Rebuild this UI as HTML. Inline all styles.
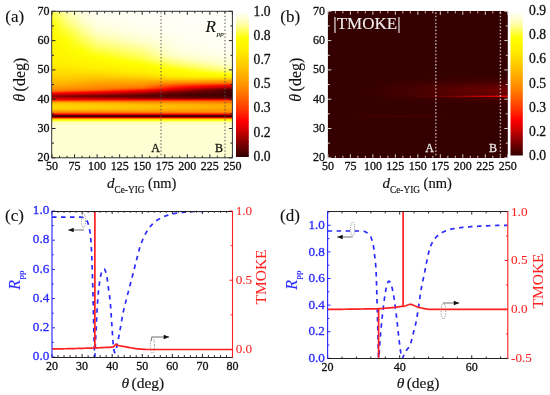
<!DOCTYPE html><html><head><meta charset="utf-8"><style>html,body{margin:0;padding:0;background:#fff;width:550px;height:395px;overflow:hidden}</style></head><body><svg width="550" height="395" viewBox="0 0 550 395" style="display:block;font-family:'Liberation Serif', 'Times New Roman', serif"><style>text{stroke-width:0.3px}</style><defs><linearGradient id="ra11"><stop offset="0" stop-color="#ffff5a"/><stop offset="0.0833" stop-color="#ffffbb"/><stop offset="0.167" stop-color="#ffffe1"/><stop offset="0.25" stop-color="#fffff2"/><stop offset="0.333" stop-color="#fffff3"/><stop offset="0.417" stop-color="#fffff4"/><stop offset="0.5" stop-color="#fffff6"/><stop offset="0.583" stop-color="#fffff7"/><stop offset="0.667" stop-color="#fffff8"/><stop offset="0.75" stop-color="#fffff9"/><stop offset="0.833" stop-color="#fffff9"/><stop offset="0.917" stop-color="#fffffa"/><stop offset="1" stop-color="#fffffa"/></linearGradient><linearGradient id="ra12"><stop offset="0" stop-color="#ffff51"/><stop offset="0.0833" stop-color="#ffffb5"/><stop offset="0.167" stop-color="#ffffdf"/><stop offset="0.25" stop-color="#fffff1"/><stop offset="0.333" stop-color="#fffff3"/><stop offset="0.417" stop-color="#fffff4"/><stop offset="0.5" stop-color="#fffff6"/><stop offset="0.583" stop-color="#fffff7"/><stop offset="0.667" stop-color="#fffff8"/><stop offset="0.75" stop-color="#fffff9"/><stop offset="0.833" stop-color="#fffff9"/><stop offset="0.917" stop-color="#fffffa"/><stop offset="1" stop-color="#fffffa"/></linearGradient><linearGradient id="ra13"><stop offset="0" stop-color="#ffff48"/><stop offset="0.0833" stop-color="#ffffae"/><stop offset="0.167" stop-color="#ffffdc"/><stop offset="0.25" stop-color="#fffff1"/><stop offset="0.333" stop-color="#fffff3"/><stop offset="0.417" stop-color="#fffff4"/><stop offset="0.5" stop-color="#fffff6"/><stop offset="0.583" stop-color="#fffff7"/><stop offset="0.667" stop-color="#fffff8"/><stop offset="0.75" stop-color="#fffff9"/><stop offset="0.833" stop-color="#fffff9"/><stop offset="0.917" stop-color="#fffffa"/><stop offset="1" stop-color="#fffffa"/></linearGradient><linearGradient id="ra14"><stop offset="0" stop-color="#ffff40"/><stop offset="0.0833" stop-color="#ffffa8"/><stop offset="0.167" stop-color="#ffffda"/><stop offset="0.25" stop-color="#fffff0"/><stop offset="0.333" stop-color="#fffff2"/><stop offset="0.417" stop-color="#fffff4"/><stop offset="0.5" stop-color="#fffff6"/><stop offset="0.583" stop-color="#fffff7"/><stop offset="0.667" stop-color="#fffff8"/><stop offset="0.75" stop-color="#fffff8"/><stop offset="0.833" stop-color="#fffff9"/><stop offset="0.917" stop-color="#fffff9"/><stop offset="1" stop-color="#fffffa"/></linearGradient><linearGradient id="ra15"><stop offset="0" stop-color="#ffff38"/><stop offset="0.0833" stop-color="#ffffa1"/><stop offset="0.167" stop-color="#ffffd7"/><stop offset="0.25" stop-color="#fffff0"/><stop offset="0.333" stop-color="#fffff1"/><stop offset="0.417" stop-color="#fffff3"/><stop offset="0.5" stop-color="#fffff5"/><stop offset="0.583" stop-color="#fffff6"/><stop offset="0.667" stop-color="#fffff8"/><stop offset="0.75" stop-color="#fffff8"/><stop offset="0.833" stop-color="#fffff9"/><stop offset="0.917" stop-color="#fffff9"/><stop offset="1" stop-color="#fffffa"/></linearGradient><linearGradient id="ra16"><stop offset="0" stop-color="#ffff31"/><stop offset="0.0833" stop-color="#ffff9b"/><stop offset="0.167" stop-color="#ffffd5"/><stop offset="0.25" stop-color="#ffffef"/><stop offset="0.333" stop-color="#fffff1"/><stop offset="0.417" stop-color="#fffff3"/><stop offset="0.5" stop-color="#fffff5"/><stop offset="0.583" stop-color="#fffff6"/><stop offset="0.667" stop-color="#fffff7"/><stop offset="0.75" stop-color="#fffff8"/><stop offset="0.833" stop-color="#fffff9"/><stop offset="0.917" stop-color="#fffff9"/><stop offset="1" stop-color="#fffffa"/></linearGradient><linearGradient id="ra17"><stop offset="0" stop-color="#ffff2a"/><stop offset="0.0833" stop-color="#ffff95"/><stop offset="0.167" stop-color="#ffffd2"/><stop offset="0.25" stop-color="#ffffed"/><stop offset="0.333" stop-color="#fffff0"/><stop offset="0.417" stop-color="#fffff2"/><stop offset="0.5" stop-color="#fffff5"/><stop offset="0.583" stop-color="#fffff6"/><stop offset="0.667" stop-color="#fffff7"/><stop offset="0.75" stop-color="#fffff8"/><stop offset="0.833" stop-color="#fffff9"/><stop offset="0.917" stop-color="#fffff9"/><stop offset="1" stop-color="#fffffa"/></linearGradient><linearGradient id="ra18"><stop offset="0" stop-color="#ffff24"/><stop offset="0.0833" stop-color="#ffff8f"/><stop offset="0.167" stop-color="#ffffcf"/><stop offset="0.25" stop-color="#ffffec"/><stop offset="0.333" stop-color="#ffffef"/><stop offset="0.417" stop-color="#fffff2"/><stop offset="0.5" stop-color="#fffff4"/><stop offset="0.583" stop-color="#fffff6"/><stop offset="0.667" stop-color="#fffff7"/><stop offset="0.75" stop-color="#fffff8"/><stop offset="0.833" stop-color="#fffff9"/><stop offset="0.917" stop-color="#fffff9"/><stop offset="1" stop-color="#fffffa"/></linearGradient><linearGradient id="ra19"><stop offset="0" stop-color="#ffff1e"/><stop offset="0.0833" stop-color="#ffff89"/><stop offset="0.167" stop-color="#ffffcc"/><stop offset="0.25" stop-color="#ffffeb"/><stop offset="0.333" stop-color="#ffffee"/><stop offset="0.417" stop-color="#fffff1"/><stop offset="0.5" stop-color="#fffff4"/><stop offset="0.583" stop-color="#fffff5"/><stop offset="0.667" stop-color="#fffff7"/><stop offset="0.75" stop-color="#fffff8"/><stop offset="0.833" stop-color="#fffff8"/><stop offset="0.917" stop-color="#fffff9"/><stop offset="1" stop-color="#fffffa"/></linearGradient><linearGradient id="ra20"><stop offset="0" stop-color="#ffff17"/><stop offset="0.0833" stop-color="#ffff83"/><stop offset="0.167" stop-color="#ffffca"/><stop offset="0.25" stop-color="#ffffe9"/><stop offset="0.333" stop-color="#ffffed"/><stop offset="0.417" stop-color="#fffff0"/><stop offset="0.5" stop-color="#fffff3"/><stop offset="0.583" stop-color="#fffff5"/><stop offset="0.667" stop-color="#fffff6"/><stop offset="0.75" stop-color="#fffff8"/><stop offset="0.833" stop-color="#fffff8"/><stop offset="0.917" stop-color="#fffff9"/><stop offset="1" stop-color="#fffffa"/></linearGradient><linearGradient id="ra21"><stop offset="0" stop-color="#ffff12"/><stop offset="0.0833" stop-color="#ffff7d"/><stop offset="0.167" stop-color="#ffffc6"/><stop offset="0.25" stop-color="#ffffe8"/><stop offset="0.333" stop-color="#ffffeb"/><stop offset="0.417" stop-color="#ffffef"/><stop offset="0.5" stop-color="#fffff3"/><stop offset="0.583" stop-color="#fffff4"/><stop offset="0.667" stop-color="#fffff6"/><stop offset="0.75" stop-color="#fffff7"/><stop offset="0.833" stop-color="#fffff8"/><stop offset="0.917" stop-color="#fffff9"/><stop offset="1" stop-color="#fffffa"/></linearGradient><linearGradient id="ra22"><stop offset="0" stop-color="#ffff0c"/><stop offset="0.0833" stop-color="#ffff77"/><stop offset="0.167" stop-color="#ffffc1"/><stop offset="0.25" stop-color="#ffffe6"/><stop offset="0.333" stop-color="#ffffea"/><stop offset="0.417" stop-color="#ffffee"/><stop offset="0.5" stop-color="#fffff2"/><stop offset="0.583" stop-color="#fffff4"/><stop offset="0.667" stop-color="#fffff6"/><stop offset="0.75" stop-color="#fffff7"/><stop offset="0.833" stop-color="#fffff8"/><stop offset="0.917" stop-color="#fffff9"/><stop offset="1" stop-color="#fffff9"/></linearGradient><linearGradient id="ra23"><stop offset="0" stop-color="#ffff07"/><stop offset="0.0833" stop-color="#ffff71"/><stop offset="0.167" stop-color="#ffffbb"/><stop offset="0.25" stop-color="#ffffe4"/><stop offset="0.333" stop-color="#ffffe9"/><stop offset="0.417" stop-color="#ffffed"/><stop offset="0.5" stop-color="#fffff2"/><stop offset="0.583" stop-color="#fffff3"/><stop offset="0.667" stop-color="#fffff5"/><stop offset="0.75" stop-color="#fffff7"/><stop offset="0.833" stop-color="#fffff8"/><stop offset="0.917" stop-color="#fffff8"/><stop offset="1" stop-color="#fffff9"/></linearGradient><linearGradient id="ra24"><stop offset="0" stop-color="#ffff01"/><stop offset="0.0833" stop-color="#ffff6b"/><stop offset="0.167" stop-color="#ffffb6"/><stop offset="0.25" stop-color="#ffffe2"/><stop offset="0.333" stop-color="#ffffe7"/><stop offset="0.417" stop-color="#ffffec"/><stop offset="0.5" stop-color="#fffff1"/><stop offset="0.583" stop-color="#fffff3"/><stop offset="0.667" stop-color="#fffff5"/><stop offset="0.75" stop-color="#fffff6"/><stop offset="0.833" stop-color="#fffff7"/><stop offset="0.917" stop-color="#fffff8"/><stop offset="1" stop-color="#fffff9"/></linearGradient><linearGradient id="ra25"><stop offset="0" stop-color="#ffff00"/><stop offset="0.0833" stop-color="#ffff64"/><stop offset="0.167" stop-color="#ffffb0"/><stop offset="0.25" stop-color="#ffffe0"/><stop offset="0.333" stop-color="#ffffe5"/><stop offset="0.417" stop-color="#ffffeb"/><stop offset="0.5" stop-color="#fffff0"/><stop offset="0.583" stop-color="#fffff2"/><stop offset="0.667" stop-color="#fffff5"/><stop offset="0.75" stop-color="#fffff6"/><stop offset="0.833" stop-color="#fffff7"/><stop offset="0.917" stop-color="#fffff8"/><stop offset="1" stop-color="#fffff9"/></linearGradient><linearGradient id="ra26"><stop offset="0" stop-color="#fffe00"/><stop offset="0.0833" stop-color="#ffff5d"/><stop offset="0.167" stop-color="#ffffaa"/><stop offset="0.25" stop-color="#ffffdd"/><stop offset="0.333" stop-color="#ffffe3"/><stop offset="0.417" stop-color="#ffffe9"/><stop offset="0.5" stop-color="#ffffef"/><stop offset="0.583" stop-color="#fffff2"/><stop offset="0.667" stop-color="#fffff4"/><stop offset="0.75" stop-color="#fffff6"/><stop offset="0.833" stop-color="#fffff7"/><stop offset="0.917" stop-color="#fffff8"/><stop offset="1" stop-color="#fffff9"/></linearGradient><linearGradient id="ra27"><stop offset="0" stop-color="#fffe00"/><stop offset="0.0833" stop-color="#ffff55"/><stop offset="0.167" stop-color="#ffffa4"/><stop offset="0.25" stop-color="#ffffda"/><stop offset="0.333" stop-color="#ffffe1"/><stop offset="0.417" stop-color="#ffffe8"/><stop offset="0.5" stop-color="#ffffef"/><stop offset="0.583" stop-color="#fffff1"/><stop offset="0.667" stop-color="#fffff4"/><stop offset="0.75" stop-color="#fffff5"/><stop offset="0.833" stop-color="#fffff7"/><stop offset="0.917" stop-color="#fffff8"/><stop offset="1" stop-color="#fffff9"/></linearGradient><linearGradient id="ra28"><stop offset="0" stop-color="#fffd00"/><stop offset="0.0833" stop-color="#ffff4e"/><stop offset="0.167" stop-color="#ffff9d"/><stop offset="0.25" stop-color="#ffffd7"/><stop offset="0.333" stop-color="#ffffde"/><stop offset="0.417" stop-color="#ffffe6"/><stop offset="0.5" stop-color="#ffffee"/><stop offset="0.583" stop-color="#fffff0"/><stop offset="0.667" stop-color="#fffff3"/><stop offset="0.75" stop-color="#fffff5"/><stop offset="0.833" stop-color="#fffff6"/><stop offset="0.917" stop-color="#fffff7"/><stop offset="1" stop-color="#fffff9"/></linearGradient><linearGradient id="ra29"><stop offset="0" stop-color="#fffd00"/><stop offset="0.0833" stop-color="#ffff47"/><stop offset="0.167" stop-color="#ffff97"/><stop offset="0.25" stop-color="#ffffd3"/><stop offset="0.333" stop-color="#ffffdc"/><stop offset="0.417" stop-color="#ffffe4"/><stop offset="0.5" stop-color="#ffffed"/><stop offset="0.583" stop-color="#fffff0"/><stop offset="0.667" stop-color="#fffff3"/><stop offset="0.75" stop-color="#fffff5"/><stop offset="0.833" stop-color="#fffff6"/><stop offset="0.917" stop-color="#fffff7"/><stop offset="1" stop-color="#fffff9"/></linearGradient><linearGradient id="ra30"><stop offset="0" stop-color="#fffc00"/><stop offset="0.0833" stop-color="#ffff41"/><stop offset="0.167" stop-color="#ffff90"/><stop offset="0.25" stop-color="#ffffcf"/><stop offset="0.333" stop-color="#ffffd9"/><stop offset="0.417" stop-color="#ffffe2"/><stop offset="0.5" stop-color="#ffffeb"/><stop offset="0.583" stop-color="#ffffef"/><stop offset="0.667" stop-color="#fffff2"/><stop offset="0.75" stop-color="#fffff4"/><stop offset="0.833" stop-color="#fffff6"/><stop offset="0.917" stop-color="#fffff7"/><stop offset="1" stop-color="#fffff8"/></linearGradient><linearGradient id="ra31"><stop offset="0" stop-color="#fffc00"/><stop offset="0.0833" stop-color="#ffff3a"/><stop offset="0.167" stop-color="#ffff8a"/><stop offset="0.25" stop-color="#ffffcc"/><stop offset="0.333" stop-color="#ffffd6"/><stop offset="0.417" stop-color="#ffffe0"/><stop offset="0.5" stop-color="#ffffea"/><stop offset="0.583" stop-color="#ffffed"/><stop offset="0.667" stop-color="#fffff1"/><stop offset="0.75" stop-color="#fffff4"/><stop offset="0.833" stop-color="#fffff5"/><stop offset="0.917" stop-color="#fffff7"/><stop offset="1" stop-color="#fffff8"/></linearGradient><linearGradient id="ra32"><stop offset="0" stop-color="#fffb00"/><stop offset="0.0833" stop-color="#ffff33"/><stop offset="0.167" stop-color="#ffff84"/><stop offset="0.25" stop-color="#ffffc8"/><stop offset="0.333" stop-color="#ffffd2"/><stop offset="0.417" stop-color="#ffffdd"/><stop offset="0.5" stop-color="#ffffe7"/><stop offset="0.583" stop-color="#ffffec"/><stop offset="0.667" stop-color="#fffff0"/><stop offset="0.75" stop-color="#fffff3"/><stop offset="0.833" stop-color="#fffff5"/><stop offset="0.917" stop-color="#fffff6"/><stop offset="1" stop-color="#fffff8"/></linearGradient><linearGradient id="ra33"><stop offset="0" stop-color="#fffb00"/><stop offset="0.0833" stop-color="#ffff2d"/><stop offset="0.167" stop-color="#ffff7d"/><stop offset="0.25" stop-color="#ffffc1"/><stop offset="0.333" stop-color="#ffffcf"/><stop offset="0.417" stop-color="#ffffda"/><stop offset="0.5" stop-color="#ffffe5"/><stop offset="0.583" stop-color="#ffffea"/><stop offset="0.667" stop-color="#fffff0"/><stop offset="0.75" stop-color="#fffff3"/><stop offset="0.833" stop-color="#fffff4"/><stop offset="0.917" stop-color="#fffff6"/><stop offset="1" stop-color="#fffff8"/></linearGradient><linearGradient id="ra34"><stop offset="0" stop-color="#fffa00"/><stop offset="0.0833" stop-color="#ffff26"/><stop offset="0.167" stop-color="#ffff77"/><stop offset="0.25" stop-color="#ffffbb"/><stop offset="0.333" stop-color="#ffffcc"/><stop offset="0.417" stop-color="#ffffd7"/><stop offset="0.5" stop-color="#ffffe2"/><stop offset="0.583" stop-color="#ffffe8"/><stop offset="0.667" stop-color="#ffffef"/><stop offset="0.75" stop-color="#fffff2"/><stop offset="0.833" stop-color="#fffff4"/><stop offset="0.917" stop-color="#fffff6"/><stop offset="1" stop-color="#fffff8"/></linearGradient><linearGradient id="ra35"><stop offset="0" stop-color="#fffa00"/><stop offset="0.0833" stop-color="#ffff20"/><stop offset="0.167" stop-color="#ffff71"/><stop offset="0.25" stop-color="#ffffb4"/><stop offset="0.333" stop-color="#ffffc8"/><stop offset="0.417" stop-color="#ffffd4"/><stop offset="0.5" stop-color="#ffffdf"/><stop offset="0.583" stop-color="#ffffe6"/><stop offset="0.667" stop-color="#ffffee"/><stop offset="0.75" stop-color="#fffff2"/><stop offset="0.833" stop-color="#fffff4"/><stop offset="0.917" stop-color="#fffff6"/><stop offset="1" stop-color="#fffff7"/></linearGradient><linearGradient id="ra36"><stop offset="0" stop-color="#fffa00"/><stop offset="0.0833" stop-color="#ffff1a"/><stop offset="0.167" stop-color="#ffff6b"/><stop offset="0.25" stop-color="#ffffae"/><stop offset="0.333" stop-color="#ffffc2"/><stop offset="0.417" stop-color="#ffffd0"/><stop offset="0.5" stop-color="#ffffdc"/><stop offset="0.583" stop-color="#ffffe4"/><stop offset="0.667" stop-color="#ffffed"/><stop offset="0.75" stop-color="#fffff1"/><stop offset="0.833" stop-color="#fffff3"/><stop offset="0.917" stop-color="#fffff5"/><stop offset="1" stop-color="#fffff7"/></linearGradient><linearGradient id="ra37"><stop offset="0" stop-color="#fff900"/><stop offset="0.0833" stop-color="#ffff15"/><stop offset="0.167" stop-color="#ffff64"/><stop offset="0.25" stop-color="#ffffa7"/><stop offset="0.333" stop-color="#ffffbc"/><stop offset="0.417" stop-color="#ffffcd"/><stop offset="0.5" stop-color="#ffffd9"/><stop offset="0.583" stop-color="#ffffe2"/><stop offset="0.667" stop-color="#ffffec"/><stop offset="0.75" stop-color="#fffff1"/><stop offset="0.833" stop-color="#fffff3"/><stop offset="0.917" stop-color="#fffff5"/><stop offset="1" stop-color="#fffff7"/></linearGradient><linearGradient id="ra38"><stop offset="0" stop-color="#fff900"/><stop offset="0.0833" stop-color="#ffff0f"/><stop offset="0.167" stop-color="#ffff5d"/><stop offset="0.25" stop-color="#ffffa0"/><stop offset="0.333" stop-color="#ffffb5"/><stop offset="0.417" stop-color="#ffffca"/><stop offset="0.5" stop-color="#ffffd5"/><stop offset="0.583" stop-color="#ffffe0"/><stop offset="0.667" stop-color="#ffffeb"/><stop offset="0.75" stop-color="#fffff0"/><stop offset="0.833" stop-color="#fffff2"/><stop offset="0.917" stop-color="#fffff5"/><stop offset="1" stop-color="#fffff7"/></linearGradient><linearGradient id="ra39"><stop offset="0" stop-color="#fff800"/><stop offset="0.0833" stop-color="#ffff0a"/><stop offset="0.167" stop-color="#ffff56"/><stop offset="0.25" stop-color="#ffff99"/><stop offset="0.333" stop-color="#ffffaf"/><stop offset="0.417" stop-color="#ffffc4"/><stop offset="0.5" stop-color="#ffffd2"/><stop offset="0.583" stop-color="#ffffde"/><stop offset="0.667" stop-color="#ffffe9"/><stop offset="0.75" stop-color="#fffff0"/><stop offset="0.833" stop-color="#fffff2"/><stop offset="0.917" stop-color="#fffff4"/><stop offset="1" stop-color="#fffff7"/></linearGradient><linearGradient id="ra40"><stop offset="0" stop-color="#fff800"/><stop offset="0.0833" stop-color="#ffff04"/><stop offset="0.167" stop-color="#ffff4f"/><stop offset="0.25" stop-color="#ffff92"/><stop offset="0.333" stop-color="#ffffa8"/><stop offset="0.417" stop-color="#ffffbe"/><stop offset="0.5" stop-color="#ffffcf"/><stop offset="0.583" stop-color="#ffffdc"/><stop offset="0.667" stop-color="#ffffe8"/><stop offset="0.75" stop-color="#ffffef"/><stop offset="0.833" stop-color="#fffff1"/><stop offset="0.917" stop-color="#fffff4"/><stop offset="1" stop-color="#fffff6"/></linearGradient><linearGradient id="ra41"><stop offset="0" stop-color="#fff800"/><stop offset="0.0833" stop-color="#ffff00"/><stop offset="0.167" stop-color="#ffff48"/><stop offset="0.25" stop-color="#ffff8b"/><stop offset="0.333" stop-color="#ffffa1"/><stop offset="0.417" stop-color="#ffffb8"/><stop offset="0.5" stop-color="#ffffcb"/><stop offset="0.583" stop-color="#ffffd9"/><stop offset="0.667" stop-color="#ffffe7"/><stop offset="0.75" stop-color="#ffffee"/><stop offset="0.833" stop-color="#fffff1"/><stop offset="0.917" stop-color="#fffff3"/><stop offset="1" stop-color="#fffff6"/></linearGradient><linearGradient id="ra42"><stop offset="0" stop-color="#fff700"/><stop offset="0.0833" stop-color="#fffe00"/><stop offset="0.167" stop-color="#ffff41"/><stop offset="0.25" stop-color="#ffff84"/><stop offset="0.333" stop-color="#ffff9a"/><stop offset="0.417" stop-color="#ffffb0"/><stop offset="0.5" stop-color="#ffffc7"/><stop offset="0.583" stop-color="#ffffd7"/><stop offset="0.667" stop-color="#ffffe6"/><stop offset="0.75" stop-color="#ffffee"/><stop offset="0.833" stop-color="#fffff0"/><stop offset="0.917" stop-color="#fffff3"/><stop offset="1" stop-color="#fffff6"/></linearGradient><linearGradient id="ra43"><stop offset="0" stop-color="#fff700"/><stop offset="0.0833" stop-color="#fffe00"/><stop offset="0.167" stop-color="#ffff3a"/><stop offset="0.25" stop-color="#ffff7d"/><stop offset="0.333" stop-color="#ffff93"/><stop offset="0.417" stop-color="#ffffa9"/><stop offset="0.5" stop-color="#ffffbf"/><stop offset="0.583" stop-color="#ffffd4"/><stop offset="0.667" stop-color="#ffffe4"/><stop offset="0.75" stop-color="#ffffed"/><stop offset="0.833" stop-color="#fffff0"/><stop offset="0.917" stop-color="#fffff3"/><stop offset="1" stop-color="#fffff5"/></linearGradient><linearGradient id="ra44"><stop offset="0" stop-color="#fff600"/><stop offset="0.0833" stop-color="#fffd00"/><stop offset="0.167" stop-color="#ffff33"/><stop offset="0.25" stop-color="#ffff75"/><stop offset="0.333" stop-color="#ffff8b"/><stop offset="0.417" stop-color="#ffffa1"/><stop offset="0.5" stop-color="#ffffb8"/><stop offset="0.583" stop-color="#ffffd1"/><stop offset="0.667" stop-color="#ffffe3"/><stop offset="0.75" stop-color="#ffffec"/><stop offset="0.833" stop-color="#ffffef"/><stop offset="0.917" stop-color="#fffff2"/><stop offset="1" stop-color="#fffff5"/></linearGradient><linearGradient id="ra45"><stop offset="0" stop-color="#fff600"/><stop offset="0.0833" stop-color="#fffd00"/><stop offset="0.167" stop-color="#ffff2b"/><stop offset="0.25" stop-color="#ffff6e"/><stop offset="0.333" stop-color="#ffff84"/><stop offset="0.417" stop-color="#ffff9a"/><stop offset="0.5" stop-color="#ffffb0"/><stop offset="0.583" stop-color="#ffffce"/><stop offset="0.667" stop-color="#ffffe1"/><stop offset="0.75" stop-color="#ffffeb"/><stop offset="0.833" stop-color="#ffffee"/><stop offset="0.917" stop-color="#fffff1"/><stop offset="1" stop-color="#fffff5"/></linearGradient><linearGradient id="ra46"><stop offset="0" stop-color="#fff600"/><stop offset="0.0833" stop-color="#fffc00"/><stop offset="0.167" stop-color="#ffff24"/><stop offset="0.25" stop-color="#ffff65"/><stop offset="0.333" stop-color="#ffff7c"/><stop offset="0.417" stop-color="#ffff92"/><stop offset="0.5" stop-color="#ffffa8"/><stop offset="0.583" stop-color="#ffffcb"/><stop offset="0.667" stop-color="#ffffdf"/><stop offset="0.75" stop-color="#ffffea"/><stop offset="0.833" stop-color="#ffffed"/><stop offset="0.917" stop-color="#fffff1"/><stop offset="1" stop-color="#fffff4"/></linearGradient><linearGradient id="ra47"><stop offset="0" stop-color="#fff500"/><stop offset="0.0833" stop-color="#fffc00"/><stop offset="0.167" stop-color="#ffff1d"/><stop offset="0.25" stop-color="#ffff5b"/><stop offset="0.333" stop-color="#ffff74"/><stop offset="0.417" stop-color="#ffff8a"/><stop offset="0.5" stop-color="#ffff9f"/><stop offset="0.583" stop-color="#ffffc7"/><stop offset="0.667" stop-color="#ffffdd"/><stop offset="0.75" stop-color="#ffffe8"/><stop offset="0.833" stop-color="#ffffec"/><stop offset="0.917" stop-color="#fffff0"/><stop offset="1" stop-color="#fffff4"/></linearGradient><linearGradient id="ra48"><stop offset="0" stop-color="#fff500"/><stop offset="0.0833" stop-color="#fffb00"/><stop offset="0.167" stop-color="#ffff15"/><stop offset="0.25" stop-color="#ffff52"/><stop offset="0.333" stop-color="#ffff6c"/><stop offset="0.417" stop-color="#ffff82"/><stop offset="0.5" stop-color="#ffff97"/><stop offset="0.583" stop-color="#ffffc1"/><stop offset="0.667" stop-color="#ffffdb"/><stop offset="0.75" stop-color="#ffffe7"/><stop offset="0.833" stop-color="#ffffeb"/><stop offset="0.917" stop-color="#ffffef"/><stop offset="1" stop-color="#fffff4"/></linearGradient><linearGradient id="ra49"><stop offset="0" stop-color="#fff500"/><stop offset="0.0833" stop-color="#fffa00"/><stop offset="0.167" stop-color="#ffff0e"/><stop offset="0.25" stop-color="#ffff48"/><stop offset="0.333" stop-color="#ffff63"/><stop offset="0.417" stop-color="#ffff7a"/><stop offset="0.5" stop-color="#ffff90"/><stop offset="0.583" stop-color="#ffffbb"/><stop offset="0.667" stop-color="#ffffd9"/><stop offset="0.75" stop-color="#ffffe6"/><stop offset="0.833" stop-color="#ffffea"/><stop offset="0.917" stop-color="#ffffef"/><stop offset="1" stop-color="#fffff3"/></linearGradient><linearGradient id="ra50"><stop offset="0" stop-color="#fff400"/><stop offset="0.0833" stop-color="#fffa00"/><stop offset="0.167" stop-color="#ffff06"/><stop offset="0.25" stop-color="#ffff3f"/><stop offset="0.333" stop-color="#ffff59"/><stop offset="0.417" stop-color="#ffff73"/><stop offset="0.5" stop-color="#ffff88"/><stop offset="0.583" stop-color="#ffffb5"/><stop offset="0.667" stop-color="#ffffd7"/><stop offset="0.75" stop-color="#ffffe4"/><stop offset="0.833" stop-color="#ffffe9"/><stop offset="0.917" stop-color="#ffffee"/><stop offset="1" stop-color="#fffff3"/></linearGradient><linearGradient id="ra51"><stop offset="0" stop-color="#fff400"/><stop offset="0.0833" stop-color="#fff900"/><stop offset="0.167" stop-color="#ffff00"/><stop offset="0.25" stop-color="#ffff35"/><stop offset="0.333" stop-color="#ffff50"/><stop offset="0.417" stop-color="#ffff6a"/><stop offset="0.5" stop-color="#ffff81"/><stop offset="0.583" stop-color="#ffffb0"/><stop offset="0.667" stop-color="#ffffd4"/><stop offset="0.75" stop-color="#ffffe2"/><stop offset="0.833" stop-color="#ffffe7"/><stop offset="0.917" stop-color="#ffffec"/><stop offset="1" stop-color="#fffff2"/></linearGradient><linearGradient id="ra52"><stop offset="0" stop-color="#fff400"/><stop offset="0.0833" stop-color="#fff900"/><stop offset="0.167" stop-color="#fffe00"/><stop offset="0.25" stop-color="#ffff2b"/><stop offset="0.333" stop-color="#ffff46"/><stop offset="0.417" stop-color="#ffff62"/><stop offset="0.5" stop-color="#ffff7a"/><stop offset="0.583" stop-color="#ffffaa"/><stop offset="0.667" stop-color="#ffffd2"/><stop offset="0.75" stop-color="#ffffe0"/><stop offset="0.833" stop-color="#ffffe5"/><stop offset="0.917" stop-color="#ffffeb"/><stop offset="1" stop-color="#fffff0"/></linearGradient><linearGradient id="ra53"><stop offset="0" stop-color="#fff300"/><stop offset="0.0833" stop-color="#fff800"/><stop offset="0.167" stop-color="#fffd00"/><stop offset="0.25" stop-color="#ffff22"/><stop offset="0.333" stop-color="#ffff3d"/><stop offset="0.417" stop-color="#ffff59"/><stop offset="0.5" stop-color="#ffff73"/><stop offset="0.583" stop-color="#ffffa3"/><stop offset="0.667" stop-color="#ffffce"/><stop offset="0.75" stop-color="#ffffdd"/><stop offset="0.833" stop-color="#ffffe3"/><stop offset="0.917" stop-color="#ffffe9"/><stop offset="1" stop-color="#ffffef"/></linearGradient><linearGradient id="ra54"><stop offset="0" stop-color="#fff300"/><stop offset="0.0833" stop-color="#fff800"/><stop offset="0.167" stop-color="#fffc00"/><stop offset="0.25" stop-color="#ffff18"/><stop offset="0.333" stop-color="#ffff34"/><stop offset="0.417" stop-color="#ffff50"/><stop offset="0.5" stop-color="#ffff6c"/><stop offset="0.583" stop-color="#ffff9c"/><stop offset="0.667" stop-color="#ffffca"/><stop offset="0.75" stop-color="#ffffd9"/><stop offset="0.833" stop-color="#ffffe0"/><stop offset="0.917" stop-color="#ffffe6"/><stop offset="1" stop-color="#ffffed"/></linearGradient><linearGradient id="ra55"><stop offset="0" stop-color="#fff300"/><stop offset="0.0833" stop-color="#fff700"/><stop offset="0.167" stop-color="#fffc00"/><stop offset="0.25" stop-color="#ffff0d"/><stop offset="0.333" stop-color="#ffff2a"/><stop offset="0.417" stop-color="#ffff47"/><stop offset="0.5" stop-color="#ffff63"/><stop offset="0.583" stop-color="#ffff94"/><stop offset="0.667" stop-color="#ffffc3"/><stop offset="0.75" stop-color="#ffffd4"/><stop offset="0.833" stop-color="#ffffdc"/><stop offset="0.917" stop-color="#ffffe3"/><stop offset="1" stop-color="#ffffeb"/></linearGradient><linearGradient id="ra56"><stop offset="0" stop-color="#fff200"/><stop offset="0.0833" stop-color="#fff700"/><stop offset="0.167" stop-color="#fffb00"/><stop offset="0.25" stop-color="#ffff03"/><stop offset="0.333" stop-color="#ffff20"/><stop offset="0.417" stop-color="#ffff3d"/><stop offset="0.5" stop-color="#ffff5a"/><stop offset="0.583" stop-color="#ffff8b"/><stop offset="0.667" stop-color="#ffffb9"/><stop offset="0.75" stop-color="#ffffcf"/><stop offset="0.833" stop-color="#ffffd8"/><stop offset="0.917" stop-color="#ffffe0"/><stop offset="1" stop-color="#ffffe9"/></linearGradient><linearGradient id="ra57"><stop offset="0" stop-color="#fff200"/><stop offset="0.0833" stop-color="#fff600"/><stop offset="0.167" stop-color="#fffa00"/><stop offset="0.25" stop-color="#fffe00"/><stop offset="0.333" stop-color="#ffff15"/><stop offset="0.417" stop-color="#ffff33"/><stop offset="0.5" stop-color="#ffff51"/><stop offset="0.583" stop-color="#ffff82"/><stop offset="0.667" stop-color="#ffffaf"/><stop offset="0.75" stop-color="#ffffca"/><stop offset="0.833" stop-color="#ffffd3"/><stop offset="0.917" stop-color="#ffffdd"/><stop offset="1" stop-color="#ffffe7"/></linearGradient><linearGradient id="ra58"><stop offset="0" stop-color="#fff200"/><stop offset="0.0833" stop-color="#fff500"/><stop offset="0.167" stop-color="#fff900"/><stop offset="0.25" stop-color="#fffd00"/><stop offset="0.333" stop-color="#ffff0b"/><stop offset="0.417" stop-color="#ffff29"/><stop offset="0.5" stop-color="#ffff47"/><stop offset="0.583" stop-color="#ffff79"/><stop offset="0.667" stop-color="#ffffa4"/><stop offset="0.75" stop-color="#ffffc1"/><stop offset="0.833" stop-color="#ffffcf"/><stop offset="0.917" stop-color="#ffffda"/><stop offset="1" stop-color="#ffffe4"/></linearGradient><linearGradient id="ra59"><stop offset="0" stop-color="#fff100"/><stop offset="0.0833" stop-color="#fff500"/><stop offset="0.167" stop-color="#fff800"/><stop offset="0.25" stop-color="#fffc00"/><stop offset="0.333" stop-color="#ffff00"/><stop offset="0.417" stop-color="#ffff1e"/><stop offset="0.5" stop-color="#ffff3c"/><stop offset="0.583" stop-color="#ffff6f"/><stop offset="0.667" stop-color="#ffff99"/><stop offset="0.75" stop-color="#ffffb7"/><stop offset="0.833" stop-color="#ffffca"/><stop offset="0.917" stop-color="#ffffd6"/><stop offset="1" stop-color="#ffffe2"/></linearGradient><linearGradient id="ra60"><stop offset="0" stop-color="#fff100"/><stop offset="0.0833" stop-color="#fff400"/><stop offset="0.167" stop-color="#fff700"/><stop offset="0.25" stop-color="#fffb00"/><stop offset="0.333" stop-color="#fffe00"/><stop offset="0.417" stop-color="#ffff12"/><stop offset="0.5" stop-color="#ffff30"/><stop offset="0.583" stop-color="#ffff62"/><stop offset="0.667" stop-color="#ffff8d"/><stop offset="0.75" stop-color="#ffffac"/><stop offset="0.833" stop-color="#ffffc3"/><stop offset="0.917" stop-color="#ffffd2"/><stop offset="1" stop-color="#ffffdf"/></linearGradient><linearGradient id="ra61"><stop offset="0" stop-color="#fff000"/><stop offset="0.0833" stop-color="#fff300"/><stop offset="0.167" stop-color="#fff600"/><stop offset="0.25" stop-color="#fff900"/><stop offset="0.333" stop-color="#fffc00"/><stop offset="0.417" stop-color="#ffff04"/><stop offset="0.5" stop-color="#ffff23"/><stop offset="0.583" stop-color="#ffff54"/><stop offset="0.667" stop-color="#ffff81"/><stop offset="0.75" stop-color="#ffffa0"/><stop offset="0.833" stop-color="#ffffb9"/><stop offset="0.917" stop-color="#ffffcd"/><stop offset="1" stop-color="#ffffdb"/></linearGradient><linearGradient id="ra62"><stop offset="0" stop-color="#ffef00"/><stop offset="0.0833" stop-color="#fff200"/><stop offset="0.167" stop-color="#fff500"/><stop offset="0.25" stop-color="#fff800"/><stop offset="0.333" stop-color="#fffb00"/><stop offset="0.417" stop-color="#fffe00"/><stop offset="0.5" stop-color="#ffff14"/><stop offset="0.583" stop-color="#ffff44"/><stop offset="0.667" stop-color="#ffff74"/><stop offset="0.75" stop-color="#ffff93"/><stop offset="0.833" stop-color="#ffffae"/><stop offset="0.917" stop-color="#ffffc8"/><stop offset="1" stop-color="#ffffd7"/></linearGradient><linearGradient id="ra63"><stop offset="0" stop-color="#ffed00"/><stop offset="0.0833" stop-color="#fff100"/><stop offset="0.167" stop-color="#fff400"/><stop offset="0.25" stop-color="#fff700"/><stop offset="0.333" stop-color="#fffa00"/><stop offset="0.417" stop-color="#fffc00"/><stop offset="0.5" stop-color="#ffff05"/><stop offset="0.583" stop-color="#ffff34"/><stop offset="0.667" stop-color="#ffff64"/><stop offset="0.75" stop-color="#ffff87"/><stop offset="0.833" stop-color="#ffffa3"/><stop offset="0.917" stop-color="#ffffbf"/><stop offset="1" stop-color="#ffffd3"/></linearGradient><linearGradient id="ra64"><stop offset="0" stop-color="#ffec00"/><stop offset="0.0833" stop-color="#fff000"/><stop offset="0.167" stop-color="#fff300"/><stop offset="0.25" stop-color="#fff500"/><stop offset="0.333" stop-color="#fff800"/><stop offset="0.417" stop-color="#fffb00"/><stop offset="0.5" stop-color="#fffe00"/><stop offset="0.583" stop-color="#ffff24"/><stop offset="0.667" stop-color="#ffff53"/><stop offset="0.75" stop-color="#ffff79"/><stop offset="0.833" stop-color="#ffff97"/><stop offset="0.917" stop-color="#ffffb5"/><stop offset="1" stop-color="#ffffce"/></linearGradient><linearGradient id="ra65"><stop offset="0" stop-color="#ffea00"/><stop offset="0.0833" stop-color="#ffee00"/><stop offset="0.167" stop-color="#fff100"/><stop offset="0.25" stop-color="#fff400"/><stop offset="0.333" stop-color="#fff600"/><stop offset="0.417" stop-color="#fff900"/><stop offset="0.5" stop-color="#fffc00"/><stop offset="0.583" stop-color="#ffff13"/><stop offset="0.667" stop-color="#ffff42"/><stop offset="0.75" stop-color="#ffff6b"/><stop offset="0.833" stop-color="#ffff8b"/><stop offset="0.917" stop-color="#ffffa9"/><stop offset="1" stop-color="#ffffc8"/></linearGradient><linearGradient id="ra66"><stop offset="0" stop-color="#ffe800"/><stop offset="0.0833" stop-color="#ffec00"/><stop offset="0.167" stop-color="#fff000"/><stop offset="0.25" stop-color="#fff200"/><stop offset="0.333" stop-color="#fff500"/><stop offset="0.417" stop-color="#fff800"/><stop offset="0.5" stop-color="#fffa00"/><stop offset="0.583" stop-color="#ffff01"/><stop offset="0.667" stop-color="#ffff30"/><stop offset="0.75" stop-color="#ffff59"/><stop offset="0.833" stop-color="#ffff7d"/><stop offset="0.917" stop-color="#ffff9d"/><stop offset="1" stop-color="#ffffbc"/></linearGradient><linearGradient id="ra67"><stop offset="0" stop-color="#ffe600"/><stop offset="0.0833" stop-color="#ffea00"/><stop offset="0.167" stop-color="#ffed00"/><stop offset="0.25" stop-color="#fff000"/><stop offset="0.333" stop-color="#fff300"/><stop offset="0.417" stop-color="#fff600"/><stop offset="0.5" stop-color="#fff900"/><stop offset="0.583" stop-color="#fffd00"/><stop offset="0.667" stop-color="#ffff1d"/><stop offset="0.75" stop-color="#ffff47"/><stop offset="0.833" stop-color="#ffff6e"/><stop offset="0.917" stop-color="#ffff8f"/><stop offset="1" stop-color="#ffffaf"/></linearGradient><linearGradient id="ra68"><stop offset="0" stop-color="#ffe400"/><stop offset="0.0833" stop-color="#ffe700"/><stop offset="0.167" stop-color="#ffeb00"/><stop offset="0.25" stop-color="#ffee00"/><stop offset="0.333" stop-color="#fff100"/><stop offset="0.417" stop-color="#fff400"/><stop offset="0.5" stop-color="#fff700"/><stop offset="0.583" stop-color="#fffb00"/><stop offset="0.667" stop-color="#ffff0a"/><stop offset="0.75" stop-color="#ffff34"/><stop offset="0.833" stop-color="#ffff5c"/><stop offset="0.917" stop-color="#ffff80"/><stop offset="1" stop-color="#ffffa1"/></linearGradient><linearGradient id="ra69"><stop offset="0" stop-color="#ffe300"/><stop offset="0.0833" stop-color="#ffe500"/><stop offset="0.167" stop-color="#ffe800"/><stop offset="0.25" stop-color="#ffea00"/><stop offset="0.333" stop-color="#ffef00"/><stop offset="0.417" stop-color="#fff200"/><stop offset="0.5" stop-color="#fff500"/><stop offset="0.583" stop-color="#fff900"/><stop offset="0.667" stop-color="#fffe00"/><stop offset="0.75" stop-color="#ffff20"/><stop offset="0.833" stop-color="#ffff48"/><stop offset="0.917" stop-color="#ffff70"/><stop offset="1" stop-color="#ffff91"/></linearGradient><linearGradient id="ra70"><stop offset="0" stop-color="#ffe000"/><stop offset="0.0833" stop-color="#ffe300"/><stop offset="0.167" stop-color="#ffe500"/><stop offset="0.25" stop-color="#ffe700"/><stop offset="0.333" stop-color="#ffeb00"/><stop offset="0.417" stop-color="#fff000"/><stop offset="0.5" stop-color="#fff300"/><stop offset="0.583" stop-color="#fff700"/><stop offset="0.667" stop-color="#fffc00"/><stop offset="0.75" stop-color="#ffff0c"/><stop offset="0.833" stop-color="#ffff34"/><stop offset="0.917" stop-color="#ffff5c"/><stop offset="1" stop-color="#ffff7f"/></linearGradient><linearGradient id="ra71"><stop offset="0" stop-color="#ffde00"/><stop offset="0.0833" stop-color="#ffe000"/><stop offset="0.167" stop-color="#ffe200"/><stop offset="0.25" stop-color="#ffe300"/><stop offset="0.333" stop-color="#ffe800"/><stop offset="0.417" stop-color="#ffec00"/><stop offset="0.5" stop-color="#fff100"/><stop offset="0.583" stop-color="#fff500"/><stop offset="0.667" stop-color="#fffa00"/><stop offset="0.75" stop-color="#fffe00"/><stop offset="0.833" stop-color="#ffff1e"/><stop offset="0.917" stop-color="#ffff44"/><stop offset="1" stop-color="#ffff6a"/></linearGradient><linearGradient id="ra72"><stop offset="0" stop-color="#ffdc00"/><stop offset="0.0833" stop-color="#ffdd00"/><stop offset="0.167" stop-color="#ffde00"/><stop offset="0.25" stop-color="#ffdf00"/><stop offset="0.333" stop-color="#ffe400"/><stop offset="0.417" stop-color="#ffe800"/><stop offset="0.5" stop-color="#ffed00"/><stop offset="0.583" stop-color="#fff300"/><stop offset="0.667" stop-color="#fff800"/><stop offset="0.75" stop-color="#fffc00"/><stop offset="0.833" stop-color="#ffff05"/><stop offset="0.917" stop-color="#ffff28"/><stop offset="1" stop-color="#ffff4b"/></linearGradient><linearGradient id="ra73"><stop offset="0" stop-color="#ffd900"/><stop offset="0.0833" stop-color="#ffdb00"/><stop offset="0.167" stop-color="#ffdb00"/><stop offset="0.25" stop-color="#ffda00"/><stop offset="0.333" stop-color="#ffdf00"/><stop offset="0.417" stop-color="#ffe400"/><stop offset="0.5" stop-color="#ffe900"/><stop offset="0.583" stop-color="#fff100"/><stop offset="0.667" stop-color="#fff600"/><stop offset="0.75" stop-color="#fff900"/><stop offset="0.833" stop-color="#fffd00"/><stop offset="0.917" stop-color="#ffff07"/><stop offset="1" stop-color="#ffff26"/></linearGradient><linearGradient id="ra74"><stop offset="0" stop-color="#ffd700"/><stop offset="0.167" stop-color="#ffd700"/><stop offset="0.25" stop-color="#ffd600"/><stop offset="0.333" stop-color="#ffdb00"/><stop offset="0.417" stop-color="#ffdf00"/><stop offset="0.5" stop-color="#ffe400"/><stop offset="0.583" stop-color="#ffed00"/><stop offset="0.667" stop-color="#fff300"/><stop offset="0.75" stop-color="#fff700"/><stop offset="0.833" stop-color="#fff900"/><stop offset="0.917" stop-color="#fffc00"/><stop offset="1" stop-color="#ffff00"/></linearGradient><linearGradient id="ra75"><stop offset="0" stop-color="#ffd400"/><stop offset="0.0833" stop-color="#ffd400"/><stop offset="0.167" stop-color="#ffd300"/><stop offset="0.25" stop-color="#ffd100"/><stop offset="0.333" stop-color="#ffd500"/><stop offset="0.417" stop-color="#ffda00"/><stop offset="0.5" stop-color="#ffde00"/><stop offset="0.583" stop-color="#ffe700"/><stop offset="0.667" stop-color="#fff000"/><stop offset="0.75" stop-color="#fff300"/><stop offset="0.833" stop-color="#fff600"/><stop offset="0.917" stop-color="#fff800"/><stop offset="1" stop-color="#fffa00"/></linearGradient><linearGradient id="ra76"><stop offset="0" stop-color="#ffd100"/><stop offset="0.0833" stop-color="#ffd100"/><stop offset="0.167" stop-color="#ffcf00"/><stop offset="0.25" stop-color="#ffcc00"/><stop offset="0.333" stop-color="#ffd000"/><stop offset="0.417" stop-color="#ffd300"/><stop offset="0.5" stop-color="#ffd600"/><stop offset="0.583" stop-color="#ffdf00"/><stop offset="0.667" stop-color="#ffe900"/><stop offset="0.75" stop-color="#ffee00"/><stop offset="0.833" stop-color="#fff100"/><stop offset="0.917" stop-color="#fff300"/><stop offset="1" stop-color="#fff500"/></linearGradient><linearGradient id="ra77"><stop offset="0" stop-color="#ffce00"/><stop offset="0.0833" stop-color="#ffcd00"/><stop offset="0.167" stop-color="#ffcb00"/><stop offset="0.25" stop-color="#ffc600"/><stop offset="0.333" stop-color="#ffc900"/><stop offset="0.417" stop-color="#ffcb00"/><stop offset="0.5" stop-color="#ffce00"/><stop offset="0.583" stop-color="#ffd700"/><stop offset="0.667" stop-color="#ffe000"/><stop offset="0.75" stop-color="#ffe400"/><stop offset="0.833" stop-color="#ffe600"/><stop offset="0.917" stop-color="#ffe800"/><stop offset="1" stop-color="#ffe900"/></linearGradient><linearGradient id="ra78"><stop offset="0" stop-color="#ffcb00"/><stop offset="0.0833" stop-color="#ffc900"/><stop offset="0.167" stop-color="#ffc600"/><stop offset="0.25" stop-color="#ffc100"/><stop offset="0.333" stop-color="#ffc200"/><stop offset="0.417" stop-color="#ffc400"/><stop offset="0.5" stop-color="#ffc500"/><stop offset="0.583" stop-color="#ffcd00"/><stop offset="0.667" stop-color="#ffd600"/><stop offset="0.75" stop-color="#ffd900"/><stop offset="0.833" stop-color="#ffd800"/><stop offset="0.917" stop-color="#ffd700"/><stop offset="1" stop-color="#ffd600"/></linearGradient><linearGradient id="ra79"><stop offset="0" stop-color="#ffc700"/><stop offset="0.0833" stop-color="#ffc500"/><stop offset="0.167" stop-color="#ffc100"/><stop offset="0.25" stop-color="#ffba00"/><stop offset="0.333" stop-color="#ffbb00"/><stop offset="0.417" stop-color="#ffbb00"/><stop offset="0.5" stop-color="#ffbc00"/><stop offset="0.583" stop-color="#ffc200"/><stop offset="0.667" stop-color="#ffc900"/><stop offset="0.75" stop-color="#ffc900"/><stop offset="0.833" stop-color="#ffc600"/><stop offset="0.917" stop-color="#ffc300"/><stop offset="1" stop-color="#ffc000"/></linearGradient><linearGradient id="ra80"><stop offset="0" stop-color="#ffc400"/><stop offset="0.0833" stop-color="#ffc100"/><stop offset="0.167" stop-color="#ffbc00"/><stop offset="0.25" stop-color="#ffb300"/><stop offset="0.417" stop-color="#ffb300"/><stop offset="0.5" stop-color="#ffb200"/><stop offset="0.583" stop-color="#ffb500"/><stop offset="0.667" stop-color="#ffb700"/><stop offset="0.75" stop-color="#ffb400"/><stop offset="0.833" stop-color="#ffae00"/><stop offset="0.917" stop-color="#ffa800"/><stop offset="1" stop-color="#ffa200"/></linearGradient><linearGradient id="ra81"><stop offset="0" stop-color="#ffc000"/><stop offset="0.0833" stop-color="#ffbd00"/><stop offset="0.167" stop-color="#ffb600"/><stop offset="0.25" stop-color="#ffad00"/><stop offset="0.333" stop-color="#ffac00"/><stop offset="0.417" stop-color="#ffab00"/><stop offset="0.5" stop-color="#ffaa00"/><stop offset="0.583" stop-color="#ffa700"/><stop offset="0.667" stop-color="#ffa500"/><stop offset="0.75" stop-color="#ffa000"/><stop offset="0.833" stop-color="#ff9a00"/><stop offset="0.917" stop-color="#ff9300"/><stop offset="1" stop-color="#ff8d00"/></linearGradient><linearGradient id="ra82"><stop offset="0" stop-color="#ffbd00"/><stop offset="0.0833" stop-color="#ffb800"/><stop offset="0.167" stop-color="#ffb000"/><stop offset="0.25" stop-color="#ffa600"/><stop offset="0.333" stop-color="#ffa500"/><stop offset="0.417" stop-color="#ffa400"/><stop offset="0.5" stop-color="#ffa300"/><stop offset="0.583" stop-color="#ff9b00"/><stop offset="0.667" stop-color="#ff9200"/><stop offset="0.75" stop-color="#ff8c00"/><stop offset="0.833" stop-color="#ff8700"/><stop offset="0.917" stop-color="#ff8300"/><stop offset="1" stop-color="#ff7d00"/></linearGradient><linearGradient id="ra83"><stop offset="0" stop-color="#ffb800"/><stop offset="0.0833" stop-color="#ffb200"/><stop offset="0.167" stop-color="#ffaa00"/><stop offset="0.25" stop-color="#ff9f00"/><stop offset="0.333" stop-color="#ff9e00"/><stop offset="0.417" stop-color="#ff9d00"/><stop offset="0.5" stop-color="#ff9c00"/><stop offset="0.583" stop-color="#ff8e00"/><stop offset="0.667" stop-color="#ff7f00"/><stop offset="0.75" stop-color="#ff7400"/><stop offset="0.833" stop-color="#ff6e00"/><stop offset="0.917" stop-color="#ff6700"/><stop offset="1" stop-color="#ff6100"/></linearGradient><linearGradient id="ra84"><stop offset="0" stop-color="#ffb200"/><stop offset="0.0833" stop-color="#ffac00"/><stop offset="0.167" stop-color="#ffa400"/><stop offset="0.25" stop-color="#ff9900"/><stop offset="0.333" stop-color="#ff9800"/><stop offset="0.417" stop-color="#ff9600"/><stop offset="0.5" stop-color="#ff9500"/><stop offset="0.583" stop-color="#ff8100"/><stop offset="0.667" stop-color="#ff6700"/><stop offset="0.75" stop-color="#ff5500"/><stop offset="0.833" stop-color="#ff4800"/><stop offset="0.917" stop-color="#ff3b00"/><stop offset="1" stop-color="#ff2d00"/></linearGradient><linearGradient id="ra85"><stop offset="0" stop-color="#ffac00"/><stop offset="0.0833" stop-color="#ffa600"/><stop offset="0.167" stop-color="#ff9e00"/><stop offset="0.25" stop-color="#ff9300"/><stop offset="0.333" stop-color="#ff9100"/><stop offset="0.417" stop-color="#ff8f00"/><stop offset="0.5" stop-color="#ff8c00"/><stop offset="0.583" stop-color="#ff6f00"/><stop offset="0.667" stop-color="#ff4e00"/><stop offset="0.75" stop-color="#ff3700"/><stop offset="0.833" stop-color="#ff2200"/><stop offset="0.917" stop-color="#ff0d00"/><stop offset="1" stop-color="#f70000"/></linearGradient><linearGradient id="ra86"><stop offset="0" stop-color="#ffa500"/><stop offset="0.0833" stop-color="#ff9f00"/><stop offset="0.167" stop-color="#ff9700"/><stop offset="0.25" stop-color="#ff8e00"/><stop offset="0.333" stop-color="#ff8a00"/><stop offset="0.417" stop-color="#ff8600"/><stop offset="0.5" stop-color="#ff8200"/><stop offset="0.583" stop-color="#ff5c00"/><stop offset="0.667" stop-color="#ff3600"/><stop offset="0.75" stop-color="#ff1600"/><stop offset="0.833" stop-color="#fe0000"/><stop offset="0.917" stop-color="#e80000"/><stop offset="1" stop-color="#d10000"/></linearGradient><linearGradient id="ra87"><stop offset="0" stop-color="#ff9d00"/><stop offset="0.0833" stop-color="#ff9700"/><stop offset="0.167" stop-color="#ff9000"/><stop offset="0.25" stop-color="#ff8700"/><stop offset="0.333" stop-color="#ff8200"/><stop offset="0.417" stop-color="#ff7a00"/><stop offset="0.5" stop-color="#ff7200"/><stop offset="0.583" stop-color="#ff4800"/><stop offset="0.667" stop-color="#ff1900"/><stop offset="0.75" stop-color="#f60000"/><stop offset="0.833" stop-color="#e00000"/><stop offset="0.917" stop-color="#c50000"/><stop offset="1" stop-color="#a70000"/></linearGradient><linearGradient id="ra88"><stop offset="0" stop-color="#ff9500"/><stop offset="0.0833" stop-color="#ff8e00"/><stop offset="0.167" stop-color="#ff8700"/><stop offset="0.25" stop-color="#ff7e00"/><stop offset="0.333" stop-color="#ff7300"/><stop offset="0.417" stop-color="#ff6700"/><stop offset="0.5" stop-color="#ff5b00"/><stop offset="0.583" stop-color="#ff3100"/><stop offset="0.667" stop-color="#fc0000"/><stop offset="0.75" stop-color="#db0000"/><stop offset="0.833" stop-color="#bc0000"/><stop offset="0.917" stop-color="#9c0000"/><stop offset="1" stop-color="#7e0000"/></linearGradient><linearGradient id="ra89"><stop offset="0" stop-color="#ff8a00"/><stop offset="0.0833" stop-color="#ff8400"/><stop offset="0.167" stop-color="#ff7a00"/><stop offset="0.25" stop-color="#ff7000"/><stop offset="0.333" stop-color="#ff5a00"/><stop offset="0.417" stop-color="#ff4300"/><stop offset="0.5" stop-color="#ff2c00"/><stop offset="0.583" stop-color="#ff0500"/><stop offset="0.667" stop-color="#df0000"/><stop offset="0.75" stop-color="#b80000"/><stop offset="0.833" stop-color="#950000"/><stop offset="0.917" stop-color="#750000"/><stop offset="1" stop-color="#550000"/></linearGradient><linearGradient id="ra90"><stop offset="0" stop-color="#ff7b00"/><stop offset="0.0833" stop-color="#ff7100"/><stop offset="0.167" stop-color="#ff6500"/><stop offset="0.25" stop-color="#ff5700"/><stop offset="0.333" stop-color="#ff3c00"/><stop offset="0.417" stop-color="#ff1c00"/><stop offset="0.5" stop-color="#fa0000"/><stop offset="0.583" stop-color="#df0000"/><stop offset="0.667" stop-color="#bc0000"/><stop offset="0.75" stop-color="#9b0000"/><stop offset="0.833" stop-color="#7e0000"/><stop offset="0.917" stop-color="#630000"/><stop offset="1" stop-color="#490000"/></linearGradient><linearGradient id="ra91"><stop offset="0" stop-color="#ff6400"/><stop offset="0.0833" stop-color="#ff4e00"/><stop offset="0.167" stop-color="#ff3700"/><stop offset="0.25" stop-color="#ff1a00"/><stop offset="0.333" stop-color="#ff0300"/><stop offset="0.417" stop-color="#ed0000"/><stop offset="0.5" stop-color="#d80000"/><stop offset="0.583" stop-color="#b90000"/><stop offset="0.667" stop-color="#980000"/><stop offset="0.75" stop-color="#800000"/><stop offset="0.833" stop-color="#6c0000"/><stop offset="0.917" stop-color="#570000"/><stop offset="1" stop-color="#450000"/></linearGradient><linearGradient id="ra92"><stop offset="0" stop-color="#ff2a00"/><stop offset="0.0833" stop-color="#ff1100"/><stop offset="0.167" stop-color="#fd0000"/><stop offset="0.25" stop-color="#ef0000"/><stop offset="0.333" stop-color="#de0000"/><stop offset="0.417" stop-color="#ca0000"/><stop offset="0.5" stop-color="#b20000"/><stop offset="0.583" stop-color="#960000"/><stop offset="0.667" stop-color="#7b0000"/><stop offset="0.75" stop-color="#680000"/><stop offset="0.833" stop-color="#5b0000"/><stop offset="0.917" stop-color="#4f0000"/><stop offset="1" stop-color="#430000"/></linearGradient><linearGradient id="ra93"><stop offset="0" stop-color="#f50000"/><stop offset="0.0833" stop-color="#ea0000"/><stop offset="0.167" stop-color="#de0000"/><stop offset="0.25" stop-color="#d10000"/><stop offset="0.333" stop-color="#bd0000"/><stop offset="0.417" stop-color="#a80000"/><stop offset="0.5" stop-color="#940000"/><stop offset="0.583" stop-color="#7e0000"/><stop offset="0.667" stop-color="#670000"/><stop offset="0.75" stop-color="#590000"/><stop offset="0.833" stop-color="#510000"/><stop offset="0.917" stop-color="#490000"/><stop offset="1" stop-color="#410000"/></linearGradient><linearGradient id="ra94"><stop offset="0" stop-color="#d50000"/><stop offset="0.0833" stop-color="#c60000"/><stop offset="0.167" stop-color="#b70000"/><stop offset="0.25" stop-color="#a80000"/><stop offset="0.333" stop-color="#970000"/><stop offset="0.417" stop-color="#880000"/><stop offset="0.5" stop-color="#790000"/><stop offset="0.583" stop-color="#680000"/><stop offset="0.667" stop-color="#580000"/><stop offset="0.75" stop-color="#4f0000"/><stop offset="0.833" stop-color="#4a0000"/><stop offset="0.917" stop-color="#450000"/><stop offset="1" stop-color="#400000"/></linearGradient><linearGradient id="ra95"><stop offset="0" stop-color="#a40000"/><stop offset="0.0833" stop-color="#960000"/><stop offset="0.167" stop-color="#890000"/><stop offset="0.25" stop-color="#7d0000"/><stop offset="0.333" stop-color="#720000"/><stop offset="0.417" stop-color="#670000"/><stop offset="0.5" stop-color="#5c0000"/><stop offset="0.583" stop-color="#550000"/><stop offset="0.667" stop-color="#4f0000"/><stop offset="0.75" stop-color="#4a0000"/><stop offset="0.833" stop-color="#460000"/><stop offset="0.917" stop-color="#430000"/><stop offset="1" stop-color="#3f0000"/></linearGradient><linearGradient id="ra96"><stop offset="0" stop-color="#950000"/><stop offset="0.0833" stop-color="#8b0000"/><stop offset="0.167" stop-color="#810000"/><stop offset="0.25" stop-color="#780000"/><stop offset="0.333" stop-color="#710000"/><stop offset="0.417" stop-color="#690000"/><stop offset="0.5" stop-color="#610000"/><stop offset="0.583" stop-color="#5b0000"/><stop offset="0.667" stop-color="#550000"/><stop offset="0.75" stop-color="#510000"/><stop offset="0.833" stop-color="#4e0000"/><stop offset="0.917" stop-color="#4b0000"/><stop offset="1" stop-color="#480000"/></linearGradient><linearGradient id="ra97"><stop offset="0" stop-color="#b30000"/><stop offset="0.0833" stop-color="#a70000"/><stop offset="0.167" stop-color="#9c0000"/><stop offset="0.25" stop-color="#920000"/><stop offset="0.333" stop-color="#8a0000"/><stop offset="0.417" stop-color="#820000"/><stop offset="0.5" stop-color="#7a0000"/><stop offset="0.583" stop-color="#730000"/><stop offset="0.667" stop-color="#6d0000"/><stop offset="0.75" stop-color="#680000"/><stop offset="0.833" stop-color="#640000"/><stop offset="0.917" stop-color="#610000"/><stop offset="1" stop-color="#5d0000"/></linearGradient><linearGradient id="ra98"><stop offset="0" stop-color="#d80000"/><stop offset="0.0833" stop-color="#ce0000"/><stop offset="0.167" stop-color="#c40000"/><stop offset="0.25" stop-color="#ba0000"/><stop offset="0.333" stop-color="#b10000"/><stop offset="0.417" stop-color="#a80000"/><stop offset="0.5" stop-color="#9f0000"/><stop offset="0.583" stop-color="#980000"/><stop offset="0.667" stop-color="#910000"/><stop offset="0.75" stop-color="#8c0000"/><stop offset="0.833" stop-color="#890000"/><stop offset="0.917" stop-color="#850000"/><stop offset="1" stop-color="#810000"/></linearGradient><linearGradient id="ra99"><stop offset="0" stop-color="#f40000"/><stop offset="0.0833" stop-color="#f20000"/><stop offset="0.167" stop-color="#f10000"/><stop offset="0.25" stop-color="#ef0000"/><stop offset="0.333" stop-color="#ee0000"/><stop offset="0.417" stop-color="#ed0000"/><stop offset="0.5" stop-color="#eb0000"/><stop offset="0.583" stop-color="#ea0000"/><stop offset="0.667" stop-color="#e90000"/><stop offset="0.75" stop-color="#e90000"/><stop offset="0.833" stop-color="#e80000"/><stop offset="0.917" stop-color="#e80000"/><stop offset="1" stop-color="#e70000"/></linearGradient><linearGradient id="ra100"><stop offset="0" stop-color="#ff3400"/><stop offset="0.0833" stop-color="#ff3500"/><stop offset="0.167" stop-color="#ff3700"/><stop offset="0.25" stop-color="#ff3800"/><stop offset="0.333" stop-color="#ff3900"/><stop offset="0.417" stop-color="#ff3a00"/><stop offset="0.5" stop-color="#ff3b00"/><stop offset="0.583" stop-color="#ff3c00"/><stop offset="0.667" stop-color="#ff3d00"/><stop offset="0.75" stop-color="#ff3f00"/><stop offset="0.833" stop-color="#ff4000"/><stop offset="0.917" stop-color="#ff4100"/><stop offset="1" stop-color="#ff4200"/></linearGradient><linearGradient id="ra101"><stop offset="0" stop-color="#ff7c00"/><stop offset="0.0833" stop-color="#ff7b00"/><stop offset="0.167" stop-color="#ff7a00"/><stop offset="0.25" stop-color="#ff7900"/><stop offset="0.333" stop-color="#ff7800"/><stop offset="0.417" stop-color="#ff7700"/><stop offset="0.5" stop-color="#ff7600"/><stop offset="0.583" stop-color="#ff7500"/><stop offset="0.667" stop-color="#ff7400"/><stop offset="0.75" stop-color="#ff7200"/><stop offset="0.833" stop-color="#ff7100"/><stop offset="0.917" stop-color="#ff7000"/><stop offset="1" stop-color="#ff6e00"/></linearGradient><linearGradient id="ra102"><stop offset="0" stop-color="#ffab00"/><stop offset="0.0833" stop-color="#ffa700"/><stop offset="0.167" stop-color="#ffa300"/><stop offset="0.25" stop-color="#ff9f00"/><stop offset="0.333" stop-color="#ff9b00"/><stop offset="0.417" stop-color="#ff9700"/><stop offset="0.5" stop-color="#ff9300"/><stop offset="0.583" stop-color="#ff8f00"/><stop offset="0.667" stop-color="#ff8b00"/><stop offset="0.75" stop-color="#ff8700"/><stop offset="0.833" stop-color="#ff8300"/><stop offset="0.917" stop-color="#ff7d00"/><stop offset="1" stop-color="#ff7800"/></linearGradient><linearGradient id="ra103"><stop offset="0" stop-color="#ffc400"/><stop offset="0.0833" stop-color="#ffc100"/><stop offset="0.167" stop-color="#ffbd00"/><stop offset="0.25" stop-color="#ffb900"/><stop offset="0.333" stop-color="#ffb500"/><stop offset="0.417" stop-color="#ffb100"/><stop offset="0.5" stop-color="#ffad00"/><stop offset="0.583" stop-color="#ffa800"/><stop offset="0.667" stop-color="#ffa400"/><stop offset="0.75" stop-color="#ffa000"/><stop offset="0.833" stop-color="#ff9b00"/><stop offset="0.917" stop-color="#ff9700"/><stop offset="1" stop-color="#ff9300"/></linearGradient><linearGradient id="ra104"><stop offset="0" stop-color="#ffce00"/><stop offset="0.0833" stop-color="#ffcb00"/><stop offset="0.167" stop-color="#ffc800"/><stop offset="0.25" stop-color="#ffc500"/><stop offset="0.333" stop-color="#ffc100"/><stop offset="0.417" stop-color="#ffbe00"/><stop offset="0.5" stop-color="#ffba00"/><stop offset="0.583" stop-color="#ffb600"/><stop offset="0.667" stop-color="#ffb200"/><stop offset="0.75" stop-color="#ffae00"/><stop offset="0.833" stop-color="#ffaa00"/><stop offset="0.917" stop-color="#ffa700"/><stop offset="1" stop-color="#ffa300"/></linearGradient><linearGradient id="ra105"><stop offset="0" stop-color="#ffd400"/><stop offset="0.0833" stop-color="#ffd100"/><stop offset="0.167" stop-color="#ffcd00"/><stop offset="0.25" stop-color="#ffca00"/><stop offset="0.333" stop-color="#ffc700"/><stop offset="0.417" stop-color="#ffc400"/><stop offset="0.5" stop-color="#ffc000"/><stop offset="0.583" stop-color="#ffbd00"/><stop offset="0.667" stop-color="#ffb900"/><stop offset="0.75" stop-color="#ffb500"/><stop offset="0.833" stop-color="#ffb100"/><stop offset="0.917" stop-color="#ffad00"/><stop offset="1" stop-color="#ffa900"/></linearGradient><linearGradient id="ra106"><stop offset="0" stop-color="#ffd700"/><stop offset="0.0833" stop-color="#ffd400"/><stop offset="0.167" stop-color="#ffd000"/><stop offset="0.25" stop-color="#ffcd00"/><stop offset="0.333" stop-color="#ffca00"/><stop offset="0.417" stop-color="#ffc600"/><stop offset="0.5" stop-color="#ffc300"/><stop offset="0.583" stop-color="#ffc000"/><stop offset="0.667" stop-color="#ffbc00"/><stop offset="0.75" stop-color="#ffb800"/><stop offset="0.833" stop-color="#ffb400"/><stop offset="0.917" stop-color="#ffb100"/><stop offset="1" stop-color="#ffad00"/></linearGradient><linearGradient id="ra107"><stop offset="0" stop-color="#ffd600"/><stop offset="0.0833" stop-color="#ffd300"/><stop offset="0.167" stop-color="#ffcf00"/><stop offset="0.25" stop-color="#ffcc00"/><stop offset="0.333" stop-color="#ffc900"/><stop offset="0.417" stop-color="#ffc500"/><stop offset="0.5" stop-color="#ffc200"/><stop offset="0.583" stop-color="#ffbf00"/><stop offset="0.667" stop-color="#ffbb00"/><stop offset="0.75" stop-color="#ffb700"/><stop offset="0.833" stop-color="#ffb300"/><stop offset="0.917" stop-color="#ffaf00"/><stop offset="1" stop-color="#ffab00"/></linearGradient><linearGradient id="ra108"><stop offset="0" stop-color="#ffd000"/><stop offset="0.0833" stop-color="#ffcd00"/><stop offset="0.167" stop-color="#ffca00"/><stop offset="0.25" stop-color="#ffc600"/><stop offset="0.333" stop-color="#ffc300"/><stop offset="0.417" stop-color="#ffc000"/><stop offset="0.5" stop-color="#ffbc00"/><stop offset="0.583" stop-color="#ffb800"/><stop offset="0.667" stop-color="#ffb400"/><stop offset="0.75" stop-color="#ffb000"/><stop offset="0.833" stop-color="#ffab00"/><stop offset="0.917" stop-color="#ffa700"/><stop offset="1" stop-color="#ffa300"/></linearGradient><linearGradient id="ra109"><stop offset="0" stop-color="#ffc800"/><stop offset="0.0833" stop-color="#ffc500"/><stop offset="0.167" stop-color="#ffc200"/><stop offset="0.25" stop-color="#ffbe00"/><stop offset="0.333" stop-color="#ffbb00"/><stop offset="0.417" stop-color="#ffb700"/><stop offset="0.5" stop-color="#ffb300"/><stop offset="0.583" stop-color="#ffaf00"/><stop offset="0.667" stop-color="#ffab00"/><stop offset="0.75" stop-color="#ffa700"/><stop offset="0.833" stop-color="#ffa300"/><stop offset="0.917" stop-color="#ff9f00"/><stop offset="1" stop-color="#ff9b00"/></linearGradient><linearGradient id="ra110"><stop offset="0" stop-color="#ffb300"/><stop offset="0.0833" stop-color="#ffb100"/><stop offset="0.167" stop-color="#ffaf00"/><stop offset="0.25" stop-color="#ffac00"/><stop offset="0.333" stop-color="#ffaa00"/><stop offset="0.417" stop-color="#ffa800"/><stop offset="0.5" stop-color="#ffa600"/><stop offset="0.583" stop-color="#ffa400"/><stop offset="0.667" stop-color="#ffa100"/><stop offset="0.75" stop-color="#ff9f00"/><stop offset="0.833" stop-color="#ff9d00"/><stop offset="0.917" stop-color="#ff9a00"/><stop offset="1" stop-color="#ff9800"/></linearGradient><linearGradient id="ra112"><stop offset="0" stop-color="#ff7500"/><stop offset="0.25" stop-color="#ff7500"/><stop offset="0.333" stop-color="#ff7600"/><stop offset="0.667" stop-color="#ff7600"/><stop offset="0.75" stop-color="#ff7700"/><stop offset="0.917" stop-color="#ff7700"/><stop offset="1" stop-color="#ff7800"/></linearGradient><linearGradient id="cb0" x1="0" y1="1" x2="0" y2="0"><stop offset="0.000" stop-color="#340000"/><stop offset="0.025" stop-color="#470000"/><stop offset="0.050" stop-color="#5a0000"/><stop offset="0.075" stop-color="#6f0000"/><stop offset="0.100" stop-color="#850000"/><stop offset="0.125" stop-color="#9b0000"/><stop offset="0.150" stop-color="#b20000"/><stop offset="0.175" stop-color="#c90000"/><stop offset="0.200" stop-color="#de0000"/><stop offset="0.225" stop-color="#ee0000"/><stop offset="0.250" stop-color="#ff0000"/><stop offset="0.275" stop-color="#ff1200"/><stop offset="0.300" stop-color="#ff2400"/><stop offset="0.325" stop-color="#ff3500"/><stop offset="0.350" stop-color="#ff4300"/><stop offset="0.375" stop-color="#ff5100"/><stop offset="0.400" stop-color="#ff6000"/><stop offset="0.425" stop-color="#ff6e00"/><stop offset="0.450" stop-color="#ff7c00"/><stop offset="0.475" stop-color="#ff8800"/><stop offset="0.500" stop-color="#ff9300"/><stop offset="0.525" stop-color="#ff9e00"/><stop offset="0.550" stop-color="#ffa900"/><stop offset="0.575" stop-color="#ffb300"/><stop offset="0.600" stop-color="#ffbe00"/><stop offset="0.625" stop-color="#ffc700"/><stop offset="0.650" stop-color="#ffd000"/><stop offset="0.675" stop-color="#ffd900"/><stop offset="0.700" stop-color="#ffe200"/><stop offset="0.725" stop-color="#ffeb00"/><stop offset="0.750" stop-color="#fff200"/><stop offset="0.775" stop-color="#fff700"/><stop offset="0.800" stop-color="#fffb00"/><stop offset="0.825" stop-color="#ffff09"/><stop offset="0.850" stop-color="#ffff37"/><stop offset="0.875" stop-color="#ffff65"/><stop offset="0.900" stop-color="#ffff8c"/><stop offset="0.925" stop-color="#ffffb2"/><stop offset="0.950" stop-color="#ffffd0"/><stop offset="0.975" stop-color="#ffffe5"/><stop offset="1.000" stop-color="#fffffa"/></linearGradient><linearGradient id="rb72"><stop offset="0" stop-color="#340000"/><stop offset="0.875" stop-color="#340000"/><stop offset="1" stop-color="#350000"/></linearGradient><linearGradient id="rb73"><stop offset="0" stop-color="#340000"/><stop offset="0.625" stop-color="#340000"/><stop offset="0.75" stop-color="#350000"/><stop offset="1" stop-color="#350000"/></linearGradient><linearGradient id="rb74"><stop offset="0" stop-color="#340000"/><stop offset="0.375" stop-color="#340000"/><stop offset="0.5" stop-color="#350000"/><stop offset="1" stop-color="#350000"/></linearGradient><linearGradient id="rb75"><stop offset="0" stop-color="#340000"/><stop offset="0.375" stop-color="#340000"/><stop offset="0.5" stop-color="#350000"/><stop offset="0.75" stop-color="#350000"/><stop offset="0.875" stop-color="#360000"/><stop offset="1" stop-color="#360000"/></linearGradient><linearGradient id="rb76"><stop offset="0" stop-color="#340000"/><stop offset="0.25" stop-color="#340000"/><stop offset="0.375" stop-color="#350000"/><stop offset="0.5" stop-color="#350000"/><stop offset="0.625" stop-color="#360000"/><stop offset="0.75" stop-color="#360000"/><stop offset="0.875" stop-color="#370000"/><stop offset="1" stop-color="#370000"/></linearGradient><linearGradient id="rb77"><stop offset="0" stop-color="#340000"/><stop offset="0.25" stop-color="#340000"/><stop offset="0.375" stop-color="#350000"/><stop offset="0.5" stop-color="#360000"/><stop offset="0.625" stop-color="#370000"/><stop offset="0.75" stop-color="#370000"/><stop offset="0.875" stop-color="#380000"/><stop offset="1" stop-color="#390000"/></linearGradient><linearGradient id="rb78"><stop offset="0" stop-color="#340000"/><stop offset="0.25" stop-color="#340000"/><stop offset="0.375" stop-color="#360000"/><stop offset="0.5" stop-color="#370000"/><stop offset="0.625" stop-color="#380000"/><stop offset="0.75" stop-color="#390000"/><stop offset="0.875" stop-color="#3a0000"/><stop offset="1" stop-color="#3b0000"/></linearGradient><linearGradient id="rb79"><stop offset="0" stop-color="#340000"/><stop offset="0.125" stop-color="#340000"/><stop offset="0.25" stop-color="#350000"/><stop offset="0.375" stop-color="#360000"/><stop offset="0.5" stop-color="#380000"/><stop offset="0.625" stop-color="#390000"/><stop offset="0.75" stop-color="#3b0000"/><stop offset="0.875" stop-color="#3d0000"/><stop offset="1" stop-color="#3e0000"/></linearGradient><linearGradient id="rb80"><stop offset="0" stop-color="#340000"/><stop offset="0.125" stop-color="#340000"/><stop offset="0.25" stop-color="#350000"/><stop offset="0.375" stop-color="#370000"/><stop offset="0.5" stop-color="#390000"/><stop offset="0.625" stop-color="#3b0000"/><stop offset="0.75" stop-color="#3d0000"/><stop offset="0.875" stop-color="#400000"/><stop offset="1" stop-color="#420000"/></linearGradient><linearGradient id="rb81"><stop offset="0" stop-color="#340000"/><stop offset="0.125" stop-color="#340000"/><stop offset="0.25" stop-color="#350000"/><stop offset="0.375" stop-color="#380000"/><stop offset="0.5" stop-color="#3b0000"/><stop offset="0.625" stop-color="#3e0000"/><stop offset="0.75" stop-color="#400000"/><stop offset="0.875" stop-color="#430000"/><stop offset="1" stop-color="#460000"/></linearGradient><linearGradient id="rb82"><stop offset="0" stop-color="#340000"/><stop offset="0.125" stop-color="#340000"/><stop offset="0.25" stop-color="#350000"/><stop offset="0.375" stop-color="#390000"/><stop offset="0.5" stop-color="#3d0000"/><stop offset="0.625" stop-color="#400000"/><stop offset="0.75" stop-color="#440000"/><stop offset="0.875" stop-color="#480000"/><stop offset="1" stop-color="#4b0000"/></linearGradient><linearGradient id="rb83"><stop offset="0" stop-color="#340000"/><stop offset="0.125" stop-color="#340000"/><stop offset="0.25" stop-color="#360000"/><stop offset="0.375" stop-color="#3a0000"/><stop offset="0.5" stop-color="#3f0000"/><stop offset="0.625" stop-color="#430000"/><stop offset="0.75" stop-color="#480000"/><stop offset="0.875" stop-color="#4d0000"/><stop offset="1" stop-color="#510000"/></linearGradient><linearGradient id="rb84"><stop offset="0" stop-color="#340000"/><stop offset="0.125" stop-color="#340000"/><stop offset="0.25" stop-color="#360000"/><stop offset="0.375" stop-color="#3c0000"/><stop offset="0.5" stop-color="#410000"/><stop offset="0.625" stop-color="#470000"/><stop offset="0.75" stop-color="#4c0000"/><stop offset="0.875" stop-color="#520000"/><stop offset="1" stop-color="#570000"/></linearGradient><linearGradient id="rb85"><stop offset="0" stop-color="#340000"/><stop offset="0.125" stop-color="#340000"/><stop offset="0.25" stop-color="#370000"/><stop offset="0.375" stop-color="#3d0000"/><stop offset="0.5" stop-color="#430000"/><stop offset="0.625" stop-color="#4a0000"/><stop offset="0.75" stop-color="#500000"/><stop offset="0.875" stop-color="#570000"/><stop offset="1" stop-color="#5e0000"/></linearGradient><linearGradient id="rb86"><stop offset="0" stop-color="#340000"/><stop offset="0.125" stop-color="#340000"/><stop offset="0.25" stop-color="#370000"/><stop offset="0.375" stop-color="#3e0000"/><stop offset="0.5" stop-color="#460000"/><stop offset="0.625" stop-color="#4d0000"/><stop offset="0.75" stop-color="#540000"/><stop offset="0.875" stop-color="#5c0000"/><stop offset="1" stop-color="#640000"/></linearGradient><linearGradient id="rb87"><stop offset="0" stop-color="#340000"/><stop offset="0.125" stop-color="#340000"/><stop offset="0.25" stop-color="#370000"/><stop offset="0.375" stop-color="#3f0000"/><stop offset="0.5" stop-color="#480000"/><stop offset="0.625" stop-color="#500000"/><stop offset="0.75" stop-color="#580000"/><stop offset="0.875" stop-color="#610000"/><stop offset="1" stop-color="#6a0000"/></linearGradient><linearGradient id="rb88"><stop offset="0" stop-color="#340000"/><stop offset="0.125" stop-color="#340000"/><stop offset="0.25" stop-color="#370000"/><stop offset="0.375" stop-color="#400000"/><stop offset="0.5" stop-color="#490000"/><stop offset="0.625" stop-color="#520000"/><stop offset="0.75" stop-color="#5b0000"/><stop offset="0.875" stop-color="#640000"/><stop offset="1" stop-color="#6e0000"/></linearGradient><linearGradient id="rb89"><stop offset="0" stop-color="#340000"/><stop offset="0.125" stop-color="#340000"/><stop offset="0.25" stop-color="#380000"/><stop offset="0.375" stop-color="#410000"/><stop offset="0.5" stop-color="#4a0000"/><stop offset="0.625" stop-color="#530000"/><stop offset="0.75" stop-color="#5c0000"/><stop offset="0.875" stop-color="#670000"/><stop offset="1" stop-color="#710000"/></linearGradient><linearGradient id="rb90"><stop offset="0" stop-color="#340000"/><stop offset="0.125" stop-color="#340000"/><stop offset="0.25" stop-color="#380000"/><stop offset="0.375" stop-color="#410000"/><stop offset="0.5" stop-color="#4a0000"/><stop offset="0.625" stop-color="#530000"/><stop offset="0.75" stop-color="#5d0000"/><stop offset="0.875" stop-color="#670000"/><stop offset="1" stop-color="#720000"/></linearGradient><linearGradient id="rb91"><stop offset="0" stop-color="#340000"/><stop offset="0.125" stop-color="#340000"/><stop offset="0.25" stop-color="#380000"/><stop offset="0.375" stop-color="#410000"/><stop offset="0.5" stop-color="#4a0000"/><stop offset="0.625" stop-color="#530000"/><stop offset="0.75" stop-color="#5c0000"/><stop offset="0.875" stop-color="#660000"/><stop offset="1" stop-color="#710000"/></linearGradient><linearGradient id="rb92"><stop offset="0" stop-color="#340000"/><stop offset="0.125" stop-color="#340000"/><stop offset="0.25" stop-color="#370000"/><stop offset="0.375" stop-color="#400000"/><stop offset="0.5" stop-color="#490000"/><stop offset="0.625" stop-color="#510000"/><stop offset="0.75" stop-color="#5a0000"/><stop offset="0.875" stop-color="#640000"/><stop offset="1" stop-color="#6e0000"/></linearGradient><linearGradient id="rb93"><stop offset="0" stop-color="#340000"/><stop offset="0.125" stop-color="#340000"/><stop offset="0.25" stop-color="#370000"/><stop offset="0.375" stop-color="#3f0000"/><stop offset="0.5" stop-color="#470000"/><stop offset="0.625" stop-color="#4f0000"/><stop offset="0.75" stop-color="#570000"/><stop offset="0.875" stop-color="#600000"/><stop offset="1" stop-color="#690000"/></linearGradient><linearGradient id="rb94"><stop offset="0" stop-color="#340000"/><stop offset="0.125" stop-color="#340000"/><stop offset="0.25" stop-color="#370000"/><stop offset="0.375" stop-color="#3e0000"/><stop offset="0.5" stop-color="#450000"/><stop offset="0.625" stop-color="#4c0000"/><stop offset="0.75" stop-color="#540000"/><stop offset="0.875" stop-color="#5b0000"/><stop offset="1" stop-color="#630000"/></linearGradient><linearGradient id="rb95"><stop offset="0" stop-color="#340000"/><stop offset="0.125" stop-color="#340000"/><stop offset="0.25" stop-color="#370000"/><stop offset="0.375" stop-color="#3d0000"/><stop offset="0.5" stop-color="#470000"/><stop offset="0.625" stop-color="#550000"/><stop offset="0.75" stop-color="#690000"/><stop offset="0.875" stop-color="#840000"/><stop offset="1" stop-color="#a50000"/></linearGradient><linearGradient id="rb96"><stop offset="0" stop-color="#340000"/><stop offset="0.125" stop-color="#340000"/><stop offset="0.25" stop-color="#360000"/><stop offset="0.375" stop-color="#3d0000"/><stop offset="0.5" stop-color="#4c0000"/><stop offset="0.625" stop-color="#670000"/><stop offset="0.75" stop-color="#930000"/><stop offset="0.875" stop-color="#d20000"/><stop offset="1" stop-color="#ff0f00"/></linearGradient><linearGradient id="rb97"><stop offset="0" stop-color="#340000"/><stop offset="0.125" stop-color="#340000"/><stop offset="0.25" stop-color="#360000"/><stop offset="0.375" stop-color="#3a0000"/><stop offset="0.5" stop-color="#3f0000"/><stop offset="0.625" stop-color="#430000"/><stop offset="0.75" stop-color="#470000"/><stop offset="0.875" stop-color="#4c0000"/><stop offset="1" stop-color="#500000"/></linearGradient><linearGradient id="rb98"><stop offset="0" stop-color="#340000"/><stop offset="0.125" stop-color="#340000"/><stop offset="0.25" stop-color="#350000"/><stop offset="0.375" stop-color="#390000"/><stop offset="0.5" stop-color="#3c0000"/><stop offset="0.625" stop-color="#400000"/><stop offset="0.75" stop-color="#430000"/><stop offset="0.875" stop-color="#470000"/><stop offset="1" stop-color="#4a0000"/></linearGradient><linearGradient id="rb99"><stop offset="0" stop-color="#340000"/><stop offset="0.125" stop-color="#340000"/><stop offset="0.25" stop-color="#350000"/><stop offset="0.375" stop-color="#380000"/><stop offset="0.5" stop-color="#3a0000"/><stop offset="0.625" stop-color="#3d0000"/><stop offset="0.75" stop-color="#400000"/><stop offset="0.875" stop-color="#430000"/><stop offset="1" stop-color="#450000"/></linearGradient><linearGradient id="rb100"><stop offset="0" stop-color="#340000"/><stop offset="0.125" stop-color="#340000"/><stop offset="0.25" stop-color="#350000"/><stop offset="0.375" stop-color="#370000"/><stop offset="0.5" stop-color="#390000"/><stop offset="0.625" stop-color="#3b0000"/><stop offset="0.75" stop-color="#3d0000"/><stop offset="0.875" stop-color="#3f0000"/><stop offset="1" stop-color="#410000"/></linearGradient><linearGradient id="rb101"><stop offset="0" stop-color="#340000"/><stop offset="0.125" stop-color="#340000"/><stop offset="0.25" stop-color="#350000"/><stop offset="0.375" stop-color="#360000"/><stop offset="0.5" stop-color="#380000"/><stop offset="0.625" stop-color="#390000"/><stop offset="0.75" stop-color="#3b0000"/><stop offset="0.875" stop-color="#3c0000"/><stop offset="1" stop-color="#3e0000"/></linearGradient><linearGradient id="rb102"><stop offset="0" stop-color="#340000"/><stop offset="0.25" stop-color="#340000"/><stop offset="0.375" stop-color="#350000"/><stop offset="0.5" stop-color="#370000"/><stop offset="0.625" stop-color="#380000"/><stop offset="0.75" stop-color="#390000"/><stop offset="0.875" stop-color="#3a0000"/><stop offset="1" stop-color="#3b0000"/></linearGradient><linearGradient id="rb103"><stop offset="0" stop-color="#340000"/><stop offset="0.25" stop-color="#340000"/><stop offset="0.375" stop-color="#350000"/><stop offset="0.5" stop-color="#360000"/><stop offset="0.625" stop-color="#360000"/><stop offset="0.75" stop-color="#370000"/><stop offset="0.875" stop-color="#380000"/><stop offset="1" stop-color="#390000"/></linearGradient><linearGradient id="rb104"><stop offset="0" stop-color="#340000"/><stop offset="0.25" stop-color="#340000"/><stop offset="0.375" stop-color="#350000"/><stop offset="0.5" stop-color="#350000"/><stop offset="0.625" stop-color="#360000"/><stop offset="0.75" stop-color="#360000"/><stop offset="0.875" stop-color="#370000"/><stop offset="1" stop-color="#370000"/></linearGradient><linearGradient id="rb105"><stop offset="0" stop-color="#340000"/><stop offset="0.375" stop-color="#340000"/><stop offset="0.5" stop-color="#350000"/><stop offset="0.75" stop-color="#350000"/><stop offset="0.875" stop-color="#360000"/><stop offset="1" stop-color="#360000"/></linearGradient><linearGradient id="rb106"><stop offset="0" stop-color="#340000"/><stop offset="0.5" stop-color="#340000"/><stop offset="0.625" stop-color="#350000"/><stop offset="1" stop-color="#350000"/></linearGradient><linearGradient id="rb107"><stop offset="0" stop-color="#340000"/><stop offset="0.625" stop-color="#340000"/><stop offset="0.75" stop-color="#350000"/><stop offset="1" stop-color="#350000"/></linearGradient><linearGradient id="rb115"><stop offset="0" stop-color="#340000"/><stop offset="0.125" stop-color="#350000"/><stop offset="0.25" stop-color="#360000"/><stop offset="0.5" stop-color="#360000"/><stop offset="0.625" stop-color="#350000"/><stop offset="0.75" stop-color="#340000"/><stop offset="1" stop-color="#340000"/></linearGradient><linearGradient id="rb116"><stop offset="0" stop-color="#350000"/><stop offset="0.125" stop-color="#390000"/><stop offset="0.25" stop-color="#440000"/><stop offset="0.375" stop-color="#4d0000"/><stop offset="0.5" stop-color="#490000"/><stop offset="0.625" stop-color="#3d0000"/><stop offset="0.75" stop-color="#360000"/><stop offset="0.875" stop-color="#340000"/><stop offset="1" stop-color="#340000"/></linearGradient><linearGradient id="rb117"><stop offset="0" stop-color="#340000"/><stop offset="0.125" stop-color="#340000"/><stop offset="0.25" stop-color="#350000"/><stop offset="0.375" stop-color="#360000"/><stop offset="0.5" stop-color="#360000"/><stop offset="0.625" stop-color="#350000"/><stop offset="0.75" stop-color="#340000"/><stop offset="1" stop-color="#340000"/></linearGradient><linearGradient id="cb275" x1="0" y1="1" x2="0" y2="0"><stop offset="0.000" stop-color="#340000"/><stop offset="0.025" stop-color="#470000"/><stop offset="0.050" stop-color="#5a0000"/><stop offset="0.075" stop-color="#6f0000"/><stop offset="0.100" stop-color="#850000"/><stop offset="0.125" stop-color="#9b0000"/><stop offset="0.150" stop-color="#b20000"/><stop offset="0.175" stop-color="#c90000"/><stop offset="0.200" stop-color="#de0000"/><stop offset="0.225" stop-color="#ee0000"/><stop offset="0.250" stop-color="#ff0000"/><stop offset="0.275" stop-color="#ff1200"/><stop offset="0.300" stop-color="#ff2400"/><stop offset="0.325" stop-color="#ff3500"/><stop offset="0.350" stop-color="#ff4300"/><stop offset="0.375" stop-color="#ff5100"/><stop offset="0.400" stop-color="#ff6000"/><stop offset="0.425" stop-color="#ff6e00"/><stop offset="0.450" stop-color="#ff7c00"/><stop offset="0.475" stop-color="#ff8800"/><stop offset="0.500" stop-color="#ff9300"/><stop offset="0.525" stop-color="#ff9e00"/><stop offset="0.550" stop-color="#ffa900"/><stop offset="0.575" stop-color="#ffb300"/><stop offset="0.600" stop-color="#ffbe00"/><stop offset="0.625" stop-color="#ffc700"/><stop offset="0.650" stop-color="#ffd000"/><stop offset="0.675" stop-color="#ffd900"/><stop offset="0.700" stop-color="#ffe200"/><stop offset="0.725" stop-color="#ffeb00"/><stop offset="0.750" stop-color="#fff200"/><stop offset="0.775" stop-color="#fff700"/><stop offset="0.800" stop-color="#fffb00"/><stop offset="0.825" stop-color="#ffff09"/><stop offset="0.850" stop-color="#ffff37"/><stop offset="0.875" stop-color="#ffff65"/><stop offset="0.900" stop-color="#ffff8c"/><stop offset="0.925" stop-color="#ffffb2"/><stop offset="0.950" stop-color="#ffffd0"/><stop offset="0.975" stop-color="#ffffe5"/><stop offset="1.000" stop-color="#fffffa"/></linearGradient><clipPath id="clc"><rect x="52.00" y="211.00" width="180.50" height="146.00"/></clipPath><clipPath id="cld"><rect x="327.60" y="211.60" width="180.20" height="146.70"/></clipPath></defs><rect width="550" height="395" fill="#fff"/><rect x="52.00" y="11" width="180.40" height="1" fill="url(#ra11)"/>
<rect x="52.00" y="12" width="180.40" height="1" fill="url(#ra12)"/>
<rect x="52.00" y="13" width="180.40" height="1" fill="url(#ra13)"/>
<rect x="52.00" y="14" width="180.40" height="1" fill="url(#ra14)"/>
<rect x="52.00" y="15" width="180.40" height="1" fill="url(#ra15)"/>
<rect x="52.00" y="16" width="180.40" height="1" fill="url(#ra16)"/>
<rect x="52.00" y="17" width="180.40" height="1" fill="url(#ra17)"/>
<rect x="52.00" y="18" width="180.40" height="1" fill="url(#ra18)"/>
<rect x="52.00" y="19" width="180.40" height="1" fill="url(#ra19)"/>
<rect x="52.00" y="20" width="180.40" height="1" fill="url(#ra20)"/>
<rect x="52.00" y="21" width="180.40" height="1" fill="url(#ra21)"/>
<rect x="52.00" y="22" width="180.40" height="1" fill="url(#ra22)"/>
<rect x="52.00" y="23" width="180.40" height="1" fill="url(#ra23)"/>
<rect x="52.00" y="24" width="180.40" height="1" fill="url(#ra24)"/>
<rect x="52.00" y="25" width="180.40" height="1" fill="url(#ra25)"/>
<rect x="52.00" y="26" width="180.40" height="1" fill="url(#ra26)"/>
<rect x="52.00" y="27" width="180.40" height="1" fill="url(#ra27)"/>
<rect x="52.00" y="28" width="180.40" height="1" fill="url(#ra28)"/>
<rect x="52.00" y="29" width="180.40" height="1" fill="url(#ra29)"/>
<rect x="52.00" y="30" width="180.40" height="1" fill="url(#ra30)"/>
<rect x="52.00" y="31" width="180.40" height="1" fill="url(#ra31)"/>
<rect x="52.00" y="32" width="180.40" height="1" fill="url(#ra32)"/>
<rect x="52.00" y="33" width="180.40" height="1" fill="url(#ra33)"/>
<rect x="52.00" y="34" width="180.40" height="1" fill="url(#ra34)"/>
<rect x="52.00" y="35" width="180.40" height="1" fill="url(#ra35)"/>
<rect x="52.00" y="36" width="180.40" height="1" fill="url(#ra36)"/>
<rect x="52.00" y="37" width="180.40" height="1" fill="url(#ra37)"/>
<rect x="52.00" y="38" width="180.40" height="1" fill="url(#ra38)"/>
<rect x="52.00" y="39" width="180.40" height="1" fill="url(#ra39)"/>
<rect x="52.00" y="40" width="180.40" height="1" fill="url(#ra40)"/>
<rect x="52.00" y="41" width="180.40" height="1" fill="url(#ra41)"/>
<rect x="52.00" y="42" width="180.40" height="1" fill="url(#ra42)"/>
<rect x="52.00" y="43" width="180.40" height="1" fill="url(#ra43)"/>
<rect x="52.00" y="44" width="180.40" height="1" fill="url(#ra44)"/>
<rect x="52.00" y="45" width="180.40" height="1" fill="url(#ra45)"/>
<rect x="52.00" y="46" width="180.40" height="1" fill="url(#ra46)"/>
<rect x="52.00" y="47" width="180.40" height="1" fill="url(#ra47)"/>
<rect x="52.00" y="48" width="180.40" height="1" fill="url(#ra48)"/>
<rect x="52.00" y="49" width="180.40" height="1" fill="url(#ra49)"/>
<rect x="52.00" y="50" width="180.40" height="1" fill="url(#ra50)"/>
<rect x="52.00" y="51" width="180.40" height="1" fill="url(#ra51)"/>
<rect x="52.00" y="52" width="180.40" height="1" fill="url(#ra52)"/>
<rect x="52.00" y="53" width="180.40" height="1" fill="url(#ra53)"/>
<rect x="52.00" y="54" width="180.40" height="1" fill="url(#ra54)"/>
<rect x="52.00" y="55" width="180.40" height="1" fill="url(#ra55)"/>
<rect x="52.00" y="56" width="180.40" height="1" fill="url(#ra56)"/>
<rect x="52.00" y="57" width="180.40" height="1" fill="url(#ra57)"/>
<rect x="52.00" y="58" width="180.40" height="1" fill="url(#ra58)"/>
<rect x="52.00" y="59" width="180.40" height="1" fill="url(#ra59)"/>
<rect x="52.00" y="60" width="180.40" height="1" fill="url(#ra60)"/>
<rect x="52.00" y="61" width="180.40" height="1" fill="url(#ra61)"/>
<rect x="52.00" y="62" width="180.40" height="1" fill="url(#ra62)"/>
<rect x="52.00" y="63" width="180.40" height="1" fill="url(#ra63)"/>
<rect x="52.00" y="64" width="180.40" height="1" fill="url(#ra64)"/>
<rect x="52.00" y="65" width="180.40" height="1" fill="url(#ra65)"/>
<rect x="52.00" y="66" width="180.40" height="1" fill="url(#ra66)"/>
<rect x="52.00" y="67" width="180.40" height="1" fill="url(#ra67)"/>
<rect x="52.00" y="68" width="180.40" height="1" fill="url(#ra68)"/>
<rect x="52.00" y="69" width="180.40" height="1" fill="url(#ra69)"/>
<rect x="52.00" y="70" width="180.40" height="1" fill="url(#ra70)"/>
<rect x="52.00" y="71" width="180.40" height="1" fill="url(#ra71)"/>
<rect x="52.00" y="72" width="180.40" height="1" fill="url(#ra72)"/>
<rect x="52.00" y="73" width="180.40" height="1" fill="url(#ra73)"/>
<rect x="52.00" y="74" width="180.40" height="1" fill="url(#ra74)"/>
<rect x="52.00" y="75" width="180.40" height="1" fill="url(#ra75)"/>
<rect x="52.00" y="76" width="180.40" height="1" fill="url(#ra76)"/>
<rect x="52.00" y="77" width="180.40" height="1" fill="url(#ra77)"/>
<rect x="52.00" y="78" width="180.40" height="1" fill="url(#ra78)"/>
<rect x="52.00" y="79" width="180.40" height="1" fill="url(#ra79)"/>
<rect x="52.00" y="80" width="180.40" height="1" fill="url(#ra80)"/>
<rect x="52.00" y="81" width="180.40" height="1" fill="url(#ra81)"/>
<rect x="52.00" y="82" width="180.40" height="1" fill="url(#ra82)"/>
<rect x="52.00" y="83" width="180.40" height="1" fill="url(#ra83)"/>
<rect x="52.00" y="84" width="180.40" height="1" fill="url(#ra84)"/>
<rect x="52.00" y="85" width="180.40" height="1" fill="url(#ra85)"/>
<rect x="52.00" y="86" width="180.40" height="1" fill="url(#ra86)"/>
<rect x="52.00" y="87" width="180.40" height="1" fill="url(#ra87)"/>
<rect x="52.00" y="88" width="180.40" height="1" fill="url(#ra88)"/>
<rect x="52.00" y="89" width="180.40" height="1" fill="url(#ra89)"/>
<rect x="52.00" y="90" width="180.40" height="1" fill="url(#ra90)"/>
<rect x="52.00" y="91" width="180.40" height="1" fill="url(#ra91)"/>
<rect x="52.00" y="92" width="180.40" height="1" fill="url(#ra92)"/>
<rect x="52.00" y="93" width="180.40" height="1" fill="url(#ra93)"/>
<rect x="52.00" y="94" width="180.40" height="1" fill="url(#ra94)"/>
<rect x="52.00" y="95" width="180.40" height="1" fill="url(#ra95)"/>
<rect x="52.00" y="96" width="180.40" height="1" fill="url(#ra96)"/>
<rect x="52.00" y="97" width="180.40" height="1" fill="url(#ra97)"/>
<rect x="52.00" y="98" width="180.40" height="1" fill="url(#ra98)"/>
<rect x="52.00" y="99" width="180.40" height="1" fill="url(#ra99)"/>
<rect x="52.00" y="100" width="180.40" height="1" fill="url(#ra100)"/>
<rect x="52.00" y="101" width="180.40" height="1" fill="url(#ra101)"/>
<rect x="52.00" y="102" width="180.40" height="1" fill="url(#ra102)"/>
<rect x="52.00" y="103" width="180.40" height="1" fill="url(#ra103)"/>
<rect x="52.00" y="104" width="180.40" height="1" fill="url(#ra104)"/>
<rect x="52.00" y="105" width="180.40" height="1" fill="url(#ra105)"/>
<rect x="52.00" y="106" width="180.40" height="1" fill="url(#ra106)"/>
<rect x="52.00" y="107" width="180.40" height="1" fill="url(#ra107)"/>
<rect x="52.00" y="108" width="180.40" height="1" fill="url(#ra108)"/>
<rect x="52.00" y="109" width="180.40" height="1" fill="url(#ra109)"/>
<rect x="52.00" y="110" width="180.40" height="1" fill="url(#ra110)"/>
<rect x="52.00" y="111" width="180.40" height="1" fill="#ff9300"/>
<rect x="52.00" y="112" width="180.40" height="1" fill="url(#ra112)"/>
<rect x="52.00" y="113" width="180.40" height="1" fill="#ff3d00"/>
<rect x="52.00" y="114" width="180.40" height="1" fill="#db0000"/>
<rect x="52.00" y="115" width="180.40" height="1" fill="#640000"/>
<rect x="52.00" y="116" width="180.40" height="1" fill="#470000"/>
<rect x="52.00" y="117" width="180.40" height="1" fill="#ca0000"/>
<rect x="52.00" y="118" width="180.40" height="1" fill="#ff7f00"/>
<rect x="52.00" y="119" width="180.40" height="1" fill="#ffe100"/>
<rect x="52.00" y="120" width="180.40" height="1" fill="#ffff1e"/>
<rect x="52.00" y="121" width="180.40" height="1" fill="#ffff80"/>
<rect x="52.00" y="122" width="180.40" height="1" fill="#ffffa7"/>
<rect x="52.00" y="123" width="180.40" height="1" fill="#ffffc0"/>
<rect x="52.00" y="124" width="180.40" height="1" fill="#ffffca"/>
<rect x="52.00" y="125" width="180.40" height="1" fill="#ffffce"/>
<rect x="52.00" y="126" width="180.40" height="1" fill="#ffffd2"/>
<rect x="52.00" y="127" width="180.40" height="1" fill="#ffffd4"/>
<rect x="52.00" y="128" width="180.40" height="1" fill="#ffffd4"/>
<rect x="52.00" y="129" width="180.40" height="1" fill="#ffffd4"/>
<rect x="52.00" y="130" width="180.40" height="1" fill="#ffffd4"/>
<rect x="52.00" y="131" width="180.40" height="1" fill="#ffffd4"/>
<rect x="52.00" y="132" width="180.40" height="1" fill="#ffffd4"/>
<rect x="52.00" y="133" width="180.40" height="1" fill="#ffffd4"/>
<rect x="52.00" y="134" width="180.40" height="1" fill="#ffffd4"/>
<rect x="52.00" y="135" width="180.40" height="1" fill="#ffffd4"/>
<rect x="52.00" y="136" width="180.40" height="1" fill="#ffffd4"/>
<rect x="52.00" y="137" width="180.40" height="1" fill="#ffffd4"/>
<rect x="52.00" y="138" width="180.40" height="1" fill="#ffffd4"/>
<rect x="52.00" y="139" width="180.40" height="1" fill="#ffffd4"/>
<rect x="52.00" y="140" width="180.40" height="1" fill="#ffffd4"/>
<rect x="52.00" y="141" width="180.40" height="1" fill="#ffffd4"/>
<rect x="52.00" y="142" width="180.40" height="1" fill="#ffffd4"/>
<rect x="52.00" y="143" width="180.40" height="1" fill="#ffffd4"/>
<rect x="52.00" y="144" width="180.40" height="1" fill="#ffffd4"/>
<rect x="52.00" y="145" width="180.40" height="1" fill="#ffffd4"/>
<rect x="52.00" y="146" width="180.40" height="1" fill="#ffffd4"/>
<rect x="52.00" y="147" width="180.40" height="1" fill="#ffffd4"/>
<rect x="52.00" y="148" width="180.40" height="1" fill="#ffffd4"/>
<rect x="52.00" y="149" width="180.40" height="1" fill="#ffffd4"/>
<rect x="52.00" y="150" width="180.40" height="1" fill="#ffffd4"/>
<rect x="52.00" y="151" width="180.40" height="1" fill="#ffffd4"/>
<rect x="52.00" y="152" width="180.40" height="1" fill="#ffffd4"/>
<rect x="52.00" y="153" width="180.40" height="1" fill="#ffffd4"/>
<rect x="52.00" y="154" width="180.40" height="1" fill="#ffffd4"/>
<rect x="52.00" y="155" width="180.40" height="1" fill="#ffffd4"/>
<rect x="52.00" y="156" width="180.40" height="1" fill="#ffffd4"/>
<rect x="52.00" y="157" width="180.40" height="1" fill="#ffffd4"/>
<line x1="161.00" y1="12.30" x2="161.00" y2="156.80" stroke="#555" stroke-width="1" stroke-dasharray="1.4 2.05"/>
<line x1="225.00" y1="12.30" x2="225.00" y2="156.80" stroke="#555" stroke-width="1" stroke-dasharray="1.4 2.05"/>
<line x1="52.00" y1="157.80" x2="52.00" y2="154.30" stroke="#222" stroke-width="1"/>
<line x1="52.00" y1="11.30" x2="52.00" y2="14.80" stroke="#222" stroke-width="1"/>
<line x1="59.52" y1="157.80" x2="59.52" y2="155.80" stroke="#222" stroke-width="1"/>
<line x1="59.52" y1="11.30" x2="59.52" y2="13.30" stroke="#222" stroke-width="1"/>
<line x1="67.03" y1="157.80" x2="67.03" y2="155.80" stroke="#222" stroke-width="1"/>
<line x1="67.03" y1="11.30" x2="67.03" y2="13.30" stroke="#222" stroke-width="1"/>
<line x1="74.55" y1="157.80" x2="74.55" y2="154.30" stroke="#222" stroke-width="1"/>
<line x1="74.55" y1="11.30" x2="74.55" y2="14.80" stroke="#222" stroke-width="1"/>
<line x1="82.07" y1="157.80" x2="82.07" y2="155.80" stroke="#222" stroke-width="1"/>
<line x1="82.07" y1="11.30" x2="82.07" y2="13.30" stroke="#222" stroke-width="1"/>
<line x1="89.58" y1="157.80" x2="89.58" y2="155.80" stroke="#222" stroke-width="1"/>
<line x1="89.58" y1="11.30" x2="89.58" y2="13.30" stroke="#222" stroke-width="1"/>
<line x1="97.10" y1="157.80" x2="97.10" y2="154.30" stroke="#222" stroke-width="1"/>
<line x1="97.10" y1="11.30" x2="97.10" y2="14.80" stroke="#222" stroke-width="1"/>
<line x1="104.62" y1="157.80" x2="104.62" y2="155.80" stroke="#222" stroke-width="1"/>
<line x1="104.62" y1="11.30" x2="104.62" y2="13.30" stroke="#222" stroke-width="1"/>
<line x1="112.13" y1="157.80" x2="112.13" y2="155.80" stroke="#222" stroke-width="1"/>
<line x1="112.13" y1="11.30" x2="112.13" y2="13.30" stroke="#222" stroke-width="1"/>
<line x1="119.65" y1="157.80" x2="119.65" y2="154.30" stroke="#222" stroke-width="1"/>
<line x1="119.65" y1="11.30" x2="119.65" y2="14.80" stroke="#222" stroke-width="1"/>
<line x1="127.17" y1="157.80" x2="127.17" y2="155.80" stroke="#222" stroke-width="1"/>
<line x1="127.17" y1="11.30" x2="127.17" y2="13.30" stroke="#222" stroke-width="1"/>
<line x1="134.68" y1="157.80" x2="134.68" y2="155.80" stroke="#222" stroke-width="1"/>
<line x1="134.68" y1="11.30" x2="134.68" y2="13.30" stroke="#222" stroke-width="1"/>
<line x1="142.20" y1="157.80" x2="142.20" y2="154.30" stroke="#222" stroke-width="1"/>
<line x1="142.20" y1="11.30" x2="142.20" y2="14.80" stroke="#222" stroke-width="1"/>
<line x1="149.72" y1="157.80" x2="149.72" y2="155.80" stroke="#222" stroke-width="1"/>
<line x1="149.72" y1="11.30" x2="149.72" y2="13.30" stroke="#222" stroke-width="1"/>
<line x1="157.23" y1="157.80" x2="157.23" y2="155.80" stroke="#222" stroke-width="1"/>
<line x1="157.23" y1="11.30" x2="157.23" y2="13.30" stroke="#222" stroke-width="1"/>
<line x1="164.75" y1="157.80" x2="164.75" y2="154.30" stroke="#222" stroke-width="1"/>
<line x1="164.75" y1="11.30" x2="164.75" y2="14.80" stroke="#222" stroke-width="1"/>
<line x1="172.27" y1="157.80" x2="172.27" y2="155.80" stroke="#222" stroke-width="1"/>
<line x1="172.27" y1="11.30" x2="172.27" y2="13.30" stroke="#222" stroke-width="1"/>
<line x1="179.78" y1="157.80" x2="179.78" y2="155.80" stroke="#222" stroke-width="1"/>
<line x1="179.78" y1="11.30" x2="179.78" y2="13.30" stroke="#222" stroke-width="1"/>
<line x1="187.30" y1="157.80" x2="187.30" y2="154.30" stroke="#222" stroke-width="1"/>
<line x1="187.30" y1="11.30" x2="187.30" y2="14.80" stroke="#222" stroke-width="1"/>
<line x1="194.82" y1="157.80" x2="194.82" y2="155.80" stroke="#222" stroke-width="1"/>
<line x1="194.82" y1="11.30" x2="194.82" y2="13.30" stroke="#222" stroke-width="1"/>
<line x1="202.33" y1="157.80" x2="202.33" y2="155.80" stroke="#222" stroke-width="1"/>
<line x1="202.33" y1="11.30" x2="202.33" y2="13.30" stroke="#222" stroke-width="1"/>
<line x1="209.85" y1="157.80" x2="209.85" y2="154.30" stroke="#222" stroke-width="1"/>
<line x1="209.85" y1="11.30" x2="209.85" y2="14.80" stroke="#222" stroke-width="1"/>
<line x1="217.37" y1="157.80" x2="217.37" y2="155.80" stroke="#222" stroke-width="1"/>
<line x1="217.37" y1="11.30" x2="217.37" y2="13.30" stroke="#222" stroke-width="1"/>
<line x1="224.88" y1="157.80" x2="224.88" y2="155.80" stroke="#222" stroke-width="1"/>
<line x1="224.88" y1="11.30" x2="224.88" y2="13.30" stroke="#222" stroke-width="1"/>
<line x1="232.40" y1="157.80" x2="232.40" y2="154.30" stroke="#222" stroke-width="1"/>
<line x1="232.40" y1="11.30" x2="232.40" y2="14.80" stroke="#222" stroke-width="1"/>
<line x1="52.00" y1="157.80" x2="55.50" y2="157.80" stroke="#222" stroke-width="1"/>
<line x1="232.40" y1="157.80" x2="228.90" y2="157.80" stroke="#222" stroke-width="1"/>
<line x1="52.00" y1="143.15" x2="54.00" y2="143.15" stroke="#222" stroke-width="1"/>
<line x1="232.40" y1="143.15" x2="230.40" y2="143.15" stroke="#222" stroke-width="1"/>
<line x1="52.00" y1="128.50" x2="55.50" y2="128.50" stroke="#222" stroke-width="1"/>
<line x1="232.40" y1="128.50" x2="228.90" y2="128.50" stroke="#222" stroke-width="1"/>
<line x1="52.00" y1="113.85" x2="54.00" y2="113.85" stroke="#222" stroke-width="1"/>
<line x1="232.40" y1="113.85" x2="230.40" y2="113.85" stroke="#222" stroke-width="1"/>
<line x1="52.00" y1="99.20" x2="55.50" y2="99.20" stroke="#222" stroke-width="1"/>
<line x1="232.40" y1="99.20" x2="228.90" y2="99.20" stroke="#222" stroke-width="1"/>
<line x1="52.00" y1="84.55" x2="54.00" y2="84.55" stroke="#222" stroke-width="1"/>
<line x1="232.40" y1="84.55" x2="230.40" y2="84.55" stroke="#222" stroke-width="1"/>
<line x1="52.00" y1="69.90" x2="55.50" y2="69.90" stroke="#222" stroke-width="1"/>
<line x1="232.40" y1="69.90" x2="228.90" y2="69.90" stroke="#222" stroke-width="1"/>
<line x1="52.00" y1="55.25" x2="54.00" y2="55.25" stroke="#222" stroke-width="1"/>
<line x1="232.40" y1="55.25" x2="230.40" y2="55.25" stroke="#222" stroke-width="1"/>
<line x1="52.00" y1="40.60" x2="55.50" y2="40.60" stroke="#222" stroke-width="1"/>
<line x1="232.40" y1="40.60" x2="228.90" y2="40.60" stroke="#222" stroke-width="1"/>
<line x1="52.00" y1="25.95" x2="54.00" y2="25.95" stroke="#222" stroke-width="1"/>
<line x1="232.40" y1="25.95" x2="230.40" y2="25.95" stroke="#222" stroke-width="1"/>
<line x1="52.00" y1="11.30" x2="55.50" y2="11.30" stroke="#222" stroke-width="1"/>
<line x1="232.40" y1="11.30" x2="228.90" y2="11.30" stroke="#222" stroke-width="1"/>
<rect x="51.70" y="11.30" width="180.70" height="146.50" fill="none" stroke="#333" stroke-width="1"/>
<rect x="236.00" y="12.00" width="12.80" height="145.00" fill="url(#cb0)"/>
<text x="253.60" y="15.50" text-anchor="start" fill="#111" stroke="#111" style="font-size:13.6px;">1.0</text>
<text x="253.60" y="39.72" text-anchor="start" fill="#111" stroke="#111" style="font-size:13.6px;">0.8</text>
<text x="253.60" y="63.93" text-anchor="start" fill="#111" stroke="#111" style="font-size:13.6px;">0.7</text>
<text x="253.60" y="88.15" text-anchor="start" fill="#111" stroke="#111" style="font-size:13.6px;">0.5</text>
<text x="253.60" y="112.37" text-anchor="start" fill="#111" stroke="#111" style="font-size:13.6px;">0.3</text>
<text x="253.60" y="136.58" text-anchor="start" fill="#111" stroke="#111" style="font-size:13.6px;">0.2</text>
<text x="253.60" y="160.80" text-anchor="start" fill="#111" stroke="#111" style="font-size:13.6px;">0.0</text>
<text x="52.00" y="170.30" text-anchor="middle" fill="#111" stroke="#111" style="font-size:12px;">50</text>
<text x="74.55" y="170.30" text-anchor="middle" fill="#111" stroke="#111" style="font-size:12px;">75</text>
<text x="97.10" y="170.30" text-anchor="middle" fill="#111" stroke="#111" style="font-size:12px;">100</text>
<text x="119.65" y="170.30" text-anchor="middle" fill="#111" stroke="#111" style="font-size:12px;">125</text>
<text x="142.20" y="170.30" text-anchor="middle" fill="#111" stroke="#111" style="font-size:12px;">150</text>
<text x="164.75" y="170.30" text-anchor="middle" fill="#111" stroke="#111" style="font-size:12px;">175</text>
<text x="187.30" y="170.30" text-anchor="middle" fill="#111" stroke="#111" style="font-size:12px;">200</text>
<text x="209.85" y="170.30" text-anchor="middle" fill="#111" stroke="#111" style="font-size:12px;">225</text>
<text x="232.40" y="170.30" text-anchor="middle" fill="#111" stroke="#111" style="font-size:12px;">250</text>
<text x="49.50" y="161.30" text-anchor="end" fill="#111" stroke="#111" style="font-size:12px;">20</text>
<text x="49.50" y="132.00" text-anchor="end" fill="#111" stroke="#111" style="font-size:12px;">30</text>
<text x="49.50" y="102.70" text-anchor="end" fill="#111" stroke="#111" style="font-size:12px;">40</text>
<text x="49.50" y="73.40" text-anchor="end" fill="#111" stroke="#111" style="font-size:12px;">50</text>
<text x="49.50" y="44.10" text-anchor="end" fill="#111" stroke="#111" style="font-size:12px;">60</text>
<text x="49.50" y="14.80" text-anchor="end" fill="#111" stroke="#111" style="font-size:12px;">70</text>
<text x="155.70" y="152.40" text-anchor="middle" fill="#111" stroke="#111" style="font-size:12px;">A</text>
<text x="219.10" y="152.40" text-anchor="middle" fill="#111" stroke="#111" style="font-size:12px;">B</text>
<text x="107.00" y="188.4" fill="#111" stroke="#111" style="font-size:15px;stroke-width:0.15px"><tspan style="font-style:italic">d</tspan><tspan dy="4.8" style="font-size:9.3px">Ce-YIG</tspan><tspan dy="-4.8" style="font-size:14.5px"> (nm)</tspan></text>
<text transform="translate(25.00,79.7) rotate(-90)" text-anchor="middle" fill="#111" stroke="#111" style="font-size:16px;stroke-width:0.15px"><tspan style="font-style:italic">θ</tspan><tspan dx="-1.5"> (deg)</tspan></text>
<text x="5.30" y="22.00" text-anchor="start" fill="#111" stroke="#111" style="font-size:17px;stroke-width:0.12px;">(a)</text>
<text x="205.6" y="31.8" fill="#111" stroke="#111" style="font-size:17px;font-style:italic;stroke-width:0.12px">R<tspan dx="0.8" dy="4.2" style="font-size:7px">pp</tspan></text>
<rect x="327.90" y="11" width="179.90" height="1" fill="#340000"/>
<rect x="327.90" y="12" width="179.90" height="1" fill="#340000"/>
<rect x="327.90" y="13" width="179.90" height="1" fill="#340000"/>
<rect x="327.90" y="14" width="179.90" height="1" fill="#340000"/>
<rect x="327.90" y="15" width="179.90" height="1" fill="#340000"/>
<rect x="327.90" y="16" width="179.90" height="1" fill="#340000"/>
<rect x="327.90" y="17" width="179.90" height="1" fill="#340000"/>
<rect x="327.90" y="18" width="179.90" height="1" fill="#340000"/>
<rect x="327.90" y="19" width="179.90" height="1" fill="#340000"/>
<rect x="327.90" y="20" width="179.90" height="1" fill="#340000"/>
<rect x="327.90" y="21" width="179.90" height="1" fill="#340000"/>
<rect x="327.90" y="22" width="179.90" height="1" fill="#340000"/>
<rect x="327.90" y="23" width="179.90" height="1" fill="#340000"/>
<rect x="327.90" y="24" width="179.90" height="1" fill="#340000"/>
<rect x="327.90" y="25" width="179.90" height="1" fill="#340000"/>
<rect x="327.90" y="26" width="179.90" height="1" fill="#340000"/>
<rect x="327.90" y="27" width="179.90" height="1" fill="#340000"/>
<rect x="327.90" y="28" width="179.90" height="1" fill="#340000"/>
<rect x="327.90" y="29" width="179.90" height="1" fill="#340000"/>
<rect x="327.90" y="30" width="179.90" height="1" fill="#340000"/>
<rect x="327.90" y="31" width="179.90" height="1" fill="#340000"/>
<rect x="327.90" y="32" width="179.90" height="1" fill="#340000"/>
<rect x="327.90" y="33" width="179.90" height="1" fill="#340000"/>
<rect x="327.90" y="34" width="179.90" height="1" fill="#340000"/>
<rect x="327.90" y="35" width="179.90" height="1" fill="#340000"/>
<rect x="327.90" y="36" width="179.90" height="1" fill="#340000"/>
<rect x="327.90" y="37" width="179.90" height="1" fill="#340000"/>
<rect x="327.90" y="38" width="179.90" height="1" fill="#340000"/>
<rect x="327.90" y="39" width="179.90" height="1" fill="#340000"/>
<rect x="327.90" y="40" width="179.90" height="1" fill="#340000"/>
<rect x="327.90" y="41" width="179.90" height="1" fill="#340000"/>
<rect x="327.90" y="42" width="179.90" height="1" fill="#340000"/>
<rect x="327.90" y="43" width="179.90" height="1" fill="#340000"/>
<rect x="327.90" y="44" width="179.90" height="1" fill="#340000"/>
<rect x="327.90" y="45" width="179.90" height="1" fill="#340000"/>
<rect x="327.90" y="46" width="179.90" height="1" fill="#340000"/>
<rect x="327.90" y="47" width="179.90" height="1" fill="#340000"/>
<rect x="327.90" y="48" width="179.90" height="1" fill="#340000"/>
<rect x="327.90" y="49" width="179.90" height="1" fill="#340000"/>
<rect x="327.90" y="50" width="179.90" height="1" fill="#340000"/>
<rect x="327.90" y="51" width="179.90" height="1" fill="#340000"/>
<rect x="327.90" y="52" width="179.90" height="1" fill="#340000"/>
<rect x="327.90" y="53" width="179.90" height="1" fill="#340000"/>
<rect x="327.90" y="54" width="179.90" height="1" fill="#340000"/>
<rect x="327.90" y="55" width="179.90" height="1" fill="#340000"/>
<rect x="327.90" y="56" width="179.90" height="1" fill="#340000"/>
<rect x="327.90" y="57" width="179.90" height="1" fill="#340000"/>
<rect x="327.90" y="58" width="179.90" height="1" fill="#340000"/>
<rect x="327.90" y="59" width="179.90" height="1" fill="#340000"/>
<rect x="327.90" y="60" width="179.90" height="1" fill="#340000"/>
<rect x="327.90" y="61" width="179.90" height="1" fill="#340000"/>
<rect x="327.90" y="62" width="179.90" height="1" fill="#340000"/>
<rect x="327.90" y="63" width="179.90" height="1" fill="#340000"/>
<rect x="327.90" y="64" width="179.90" height="1" fill="#340000"/>
<rect x="327.90" y="65" width="179.90" height="1" fill="#340000"/>
<rect x="327.90" y="66" width="179.90" height="1" fill="#340000"/>
<rect x="327.90" y="67" width="179.90" height="1" fill="#340000"/>
<rect x="327.90" y="68" width="179.90" height="1" fill="#340000"/>
<rect x="327.90" y="69" width="179.90" height="1" fill="#340000"/>
<rect x="327.90" y="70" width="179.90" height="1" fill="#340000"/>
<rect x="327.90" y="71" width="179.90" height="1" fill="#340000"/>
<rect x="327.90" y="72" width="179.90" height="1" fill="url(#rb72)"/>
<rect x="327.90" y="73" width="179.90" height="1" fill="url(#rb73)"/>
<rect x="327.90" y="74" width="179.90" height="1" fill="url(#rb74)"/>
<rect x="327.90" y="75" width="179.90" height="1" fill="url(#rb75)"/>
<rect x="327.90" y="76" width="179.90" height="1" fill="url(#rb76)"/>
<rect x="327.90" y="77" width="179.90" height="1" fill="url(#rb77)"/>
<rect x="327.90" y="78" width="179.90" height="1" fill="url(#rb78)"/>
<rect x="327.90" y="79" width="179.90" height="1" fill="url(#rb79)"/>
<rect x="327.90" y="80" width="179.90" height="1" fill="url(#rb80)"/>
<rect x="327.90" y="81" width="179.90" height="1" fill="url(#rb81)"/>
<rect x="327.90" y="82" width="179.90" height="1" fill="url(#rb82)"/>
<rect x="327.90" y="83" width="179.90" height="1" fill="url(#rb83)"/>
<rect x="327.90" y="84" width="179.90" height="1" fill="url(#rb84)"/>
<rect x="327.90" y="85" width="179.90" height="1" fill="url(#rb85)"/>
<rect x="327.90" y="86" width="179.90" height="1" fill="url(#rb86)"/>
<rect x="327.90" y="87" width="179.90" height="1" fill="url(#rb87)"/>
<rect x="327.90" y="88" width="179.90" height="1" fill="url(#rb88)"/>
<rect x="327.90" y="89" width="179.90" height="1" fill="url(#rb89)"/>
<rect x="327.90" y="90" width="179.90" height="1" fill="url(#rb90)"/>
<rect x="327.90" y="91" width="179.90" height="1" fill="url(#rb91)"/>
<rect x="327.90" y="92" width="179.90" height="1" fill="url(#rb92)"/>
<rect x="327.90" y="93" width="179.90" height="1" fill="url(#rb93)"/>
<rect x="327.90" y="94" width="179.90" height="1" fill="url(#rb94)"/>
<rect x="327.90" y="95" width="179.90" height="1" fill="url(#rb95)"/>
<rect x="327.90" y="96" width="179.90" height="1" fill="url(#rb96)"/>
<rect x="327.90" y="97" width="179.90" height="1" fill="url(#rb97)"/>
<rect x="327.90" y="98" width="179.90" height="1" fill="url(#rb98)"/>
<rect x="327.90" y="99" width="179.90" height="1" fill="url(#rb99)"/>
<rect x="327.90" y="100" width="179.90" height="1" fill="url(#rb100)"/>
<rect x="327.90" y="101" width="179.90" height="1" fill="url(#rb101)"/>
<rect x="327.90" y="102" width="179.90" height="1" fill="url(#rb102)"/>
<rect x="327.90" y="103" width="179.90" height="1" fill="url(#rb103)"/>
<rect x="327.90" y="104" width="179.90" height="1" fill="url(#rb104)"/>
<rect x="327.90" y="105" width="179.90" height="1" fill="url(#rb105)"/>
<rect x="327.90" y="106" width="179.90" height="1" fill="url(#rb106)"/>
<rect x="327.90" y="107" width="179.90" height="1" fill="url(#rb107)"/>
<rect x="327.90" y="108" width="179.90" height="1" fill="#340000"/>
<rect x="327.90" y="109" width="179.90" height="1" fill="#340000"/>
<rect x="327.90" y="110" width="179.90" height="1" fill="#340000"/>
<rect x="327.90" y="111" width="179.90" height="1" fill="#340000"/>
<rect x="327.90" y="112" width="179.90" height="1" fill="#340000"/>
<rect x="327.90" y="113" width="179.90" height="1" fill="#340000"/>
<rect x="327.90" y="114" width="179.90" height="1" fill="#340000"/>
<rect x="327.90" y="115" width="179.90" height="1" fill="url(#rb115)"/>
<rect x="327.90" y="116" width="179.90" height="1" fill="url(#rb116)"/>
<rect x="327.90" y="117" width="179.90" height="1" fill="url(#rb117)"/>
<rect x="327.90" y="118" width="179.90" height="1" fill="#340000"/>
<rect x="327.90" y="119" width="179.90" height="1" fill="#340000"/>
<rect x="327.90" y="120" width="179.90" height="1" fill="#340000"/>
<rect x="327.90" y="121" width="179.90" height="1" fill="#340000"/>
<rect x="327.90" y="122" width="179.90" height="1" fill="#340000"/>
<rect x="327.90" y="123" width="179.90" height="1" fill="#340000"/>
<rect x="327.90" y="124" width="179.90" height="1" fill="#340000"/>
<rect x="327.90" y="125" width="179.90" height="1" fill="#340000"/>
<rect x="327.90" y="126" width="179.90" height="1" fill="#340000"/>
<rect x="327.90" y="127" width="179.90" height="1" fill="#340000"/>
<rect x="327.90" y="128" width="179.90" height="1" fill="#340000"/>
<rect x="327.90" y="129" width="179.90" height="1" fill="#340000"/>
<rect x="327.90" y="130" width="179.90" height="1" fill="#340000"/>
<rect x="327.90" y="131" width="179.90" height="1" fill="#340000"/>
<rect x="327.90" y="132" width="179.90" height="1" fill="#340000"/>
<rect x="327.90" y="133" width="179.90" height="1" fill="#340000"/>
<rect x="327.90" y="134" width="179.90" height="1" fill="#340000"/>
<rect x="327.90" y="135" width="179.90" height="1" fill="#340000"/>
<rect x="327.90" y="136" width="179.90" height="1" fill="#340000"/>
<rect x="327.90" y="137" width="179.90" height="1" fill="#340000"/>
<rect x="327.90" y="138" width="179.90" height="1" fill="#340000"/>
<rect x="327.90" y="139" width="179.90" height="1" fill="#340000"/>
<rect x="327.90" y="140" width="179.90" height="1" fill="#340000"/>
<rect x="327.90" y="141" width="179.90" height="1" fill="#340000"/>
<rect x="327.90" y="142" width="179.90" height="1" fill="#340000"/>
<rect x="327.90" y="143" width="179.90" height="1" fill="#340000"/>
<rect x="327.90" y="144" width="179.90" height="1" fill="#340000"/>
<rect x="327.90" y="145" width="179.90" height="1" fill="#340000"/>
<rect x="327.90" y="146" width="179.90" height="1" fill="#340000"/>
<rect x="327.90" y="147" width="179.90" height="1" fill="#340000"/>
<rect x="327.90" y="148" width="179.90" height="1" fill="#340000"/>
<rect x="327.90" y="149" width="179.90" height="1" fill="#340000"/>
<rect x="327.90" y="150" width="179.90" height="1" fill="#340000"/>
<rect x="327.90" y="151" width="179.90" height="1" fill="#340000"/>
<rect x="327.90" y="152" width="179.90" height="1" fill="#340000"/>
<rect x="327.90" y="153" width="179.90" height="1" fill="#340000"/>
<rect x="327.90" y="154" width="179.90" height="1" fill="#340000"/>
<rect x="327.90" y="155" width="179.90" height="1" fill="#340000"/>
<rect x="327.90" y="156" width="179.90" height="1" fill="#340000"/>
<rect x="327.90" y="157" width="179.90" height="1" fill="#340000"/>
<line x1="435.80" y1="12.30" x2="435.80" y2="156.80" stroke="#c4a4a4" stroke-width="1.4" stroke-dasharray="1.6 1.85"/>
<line x1="500.40" y1="12.30" x2="500.40" y2="156.80" stroke="#c4a4a4" stroke-width="1.4" stroke-dasharray="1.6 1.85"/>
<line x1="327.90" y1="157.80" x2="327.90" y2="154.30" stroke="#d8d0d0" stroke-width="1"/>
<line x1="327.90" y1="11.30" x2="327.90" y2="14.80" stroke="#d8d0d0" stroke-width="1"/>
<line x1="335.40" y1="157.80" x2="335.40" y2="155.80" stroke="#d8d0d0" stroke-width="1"/>
<line x1="335.40" y1="11.30" x2="335.40" y2="13.30" stroke="#d8d0d0" stroke-width="1"/>
<line x1="342.89" y1="157.80" x2="342.89" y2="155.80" stroke="#d8d0d0" stroke-width="1"/>
<line x1="342.89" y1="11.30" x2="342.89" y2="13.30" stroke="#d8d0d0" stroke-width="1"/>
<line x1="350.39" y1="157.80" x2="350.39" y2="154.30" stroke="#d8d0d0" stroke-width="1"/>
<line x1="350.39" y1="11.30" x2="350.39" y2="14.80" stroke="#d8d0d0" stroke-width="1"/>
<line x1="357.88" y1="157.80" x2="357.88" y2="155.80" stroke="#d8d0d0" stroke-width="1"/>
<line x1="357.88" y1="11.30" x2="357.88" y2="13.30" stroke="#d8d0d0" stroke-width="1"/>
<line x1="365.38" y1="157.80" x2="365.38" y2="155.80" stroke="#d8d0d0" stroke-width="1"/>
<line x1="365.38" y1="11.30" x2="365.38" y2="13.30" stroke="#d8d0d0" stroke-width="1"/>
<line x1="372.88" y1="157.80" x2="372.88" y2="154.30" stroke="#d8d0d0" stroke-width="1"/>
<line x1="372.88" y1="11.30" x2="372.88" y2="14.80" stroke="#d8d0d0" stroke-width="1"/>
<line x1="380.37" y1="157.80" x2="380.37" y2="155.80" stroke="#d8d0d0" stroke-width="1"/>
<line x1="380.37" y1="11.30" x2="380.37" y2="13.30" stroke="#d8d0d0" stroke-width="1"/>
<line x1="387.87" y1="157.80" x2="387.87" y2="155.80" stroke="#d8d0d0" stroke-width="1"/>
<line x1="387.87" y1="11.30" x2="387.87" y2="13.30" stroke="#d8d0d0" stroke-width="1"/>
<line x1="395.36" y1="157.80" x2="395.36" y2="154.30" stroke="#d8d0d0" stroke-width="1"/>
<line x1="395.36" y1="11.30" x2="395.36" y2="14.80" stroke="#d8d0d0" stroke-width="1"/>
<line x1="402.86" y1="157.80" x2="402.86" y2="155.80" stroke="#d8d0d0" stroke-width="1"/>
<line x1="402.86" y1="11.30" x2="402.86" y2="13.30" stroke="#d8d0d0" stroke-width="1"/>
<line x1="410.35" y1="157.80" x2="410.35" y2="155.80" stroke="#d8d0d0" stroke-width="1"/>
<line x1="410.35" y1="11.30" x2="410.35" y2="13.30" stroke="#d8d0d0" stroke-width="1"/>
<line x1="417.85" y1="157.80" x2="417.85" y2="154.30" stroke="#d8d0d0" stroke-width="1"/>
<line x1="417.85" y1="11.30" x2="417.85" y2="14.80" stroke="#d8d0d0" stroke-width="1"/>
<line x1="425.35" y1="157.80" x2="425.35" y2="155.80" stroke="#d8d0d0" stroke-width="1"/>
<line x1="425.35" y1="11.30" x2="425.35" y2="13.30" stroke="#d8d0d0" stroke-width="1"/>
<line x1="432.84" y1="157.80" x2="432.84" y2="155.80" stroke="#d8d0d0" stroke-width="1"/>
<line x1="432.84" y1="11.30" x2="432.84" y2="13.30" stroke="#d8d0d0" stroke-width="1"/>
<line x1="440.34" y1="157.80" x2="440.34" y2="154.30" stroke="#d8d0d0" stroke-width="1"/>
<line x1="440.34" y1="11.30" x2="440.34" y2="14.80" stroke="#d8d0d0" stroke-width="1"/>
<line x1="447.83" y1="157.80" x2="447.83" y2="155.80" stroke="#d8d0d0" stroke-width="1"/>
<line x1="447.83" y1="11.30" x2="447.83" y2="13.30" stroke="#d8d0d0" stroke-width="1"/>
<line x1="455.33" y1="157.80" x2="455.33" y2="155.80" stroke="#d8d0d0" stroke-width="1"/>
<line x1="455.33" y1="11.30" x2="455.33" y2="13.30" stroke="#d8d0d0" stroke-width="1"/>
<line x1="462.82" y1="157.80" x2="462.82" y2="154.30" stroke="#d8d0d0" stroke-width="1"/>
<line x1="462.82" y1="11.30" x2="462.82" y2="14.80" stroke="#d8d0d0" stroke-width="1"/>
<line x1="470.32" y1="157.80" x2="470.32" y2="155.80" stroke="#d8d0d0" stroke-width="1"/>
<line x1="470.32" y1="11.30" x2="470.32" y2="13.30" stroke="#d8d0d0" stroke-width="1"/>
<line x1="477.82" y1="157.80" x2="477.82" y2="155.80" stroke="#d8d0d0" stroke-width="1"/>
<line x1="477.82" y1="11.30" x2="477.82" y2="13.30" stroke="#d8d0d0" stroke-width="1"/>
<line x1="485.31" y1="157.80" x2="485.31" y2="154.30" stroke="#d8d0d0" stroke-width="1"/>
<line x1="485.31" y1="11.30" x2="485.31" y2="14.80" stroke="#d8d0d0" stroke-width="1"/>
<line x1="492.81" y1="157.80" x2="492.81" y2="155.80" stroke="#d8d0d0" stroke-width="1"/>
<line x1="492.81" y1="11.30" x2="492.81" y2="13.30" stroke="#d8d0d0" stroke-width="1"/>
<line x1="500.30" y1="157.80" x2="500.30" y2="155.80" stroke="#d8d0d0" stroke-width="1"/>
<line x1="500.30" y1="11.30" x2="500.30" y2="13.30" stroke="#d8d0d0" stroke-width="1"/>
<line x1="507.80" y1="157.80" x2="507.80" y2="154.30" stroke="#d8d0d0" stroke-width="1"/>
<line x1="507.80" y1="11.30" x2="507.80" y2="14.80" stroke="#d8d0d0" stroke-width="1"/>
<line x1="327.90" y1="157.80" x2="331.40" y2="157.80" stroke="#d8d0d0" stroke-width="1"/>
<line x1="507.80" y1="157.80" x2="504.30" y2="157.80" stroke="#d8d0d0" stroke-width="1"/>
<line x1="327.90" y1="143.15" x2="329.90" y2="143.15" stroke="#d8d0d0" stroke-width="1"/>
<line x1="507.80" y1="143.15" x2="505.80" y2="143.15" stroke="#d8d0d0" stroke-width="1"/>
<line x1="327.90" y1="128.50" x2="331.40" y2="128.50" stroke="#d8d0d0" stroke-width="1"/>
<line x1="507.80" y1="128.50" x2="504.30" y2="128.50" stroke="#d8d0d0" stroke-width="1"/>
<line x1="327.90" y1="113.85" x2="329.90" y2="113.85" stroke="#d8d0d0" stroke-width="1"/>
<line x1="507.80" y1="113.85" x2="505.80" y2="113.85" stroke="#d8d0d0" stroke-width="1"/>
<line x1="327.90" y1="99.20" x2="331.40" y2="99.20" stroke="#d8d0d0" stroke-width="1"/>
<line x1="507.80" y1="99.20" x2="504.30" y2="99.20" stroke="#d8d0d0" stroke-width="1"/>
<line x1="327.90" y1="84.55" x2="329.90" y2="84.55" stroke="#d8d0d0" stroke-width="1"/>
<line x1="507.80" y1="84.55" x2="505.80" y2="84.55" stroke="#d8d0d0" stroke-width="1"/>
<line x1="327.90" y1="69.90" x2="331.40" y2="69.90" stroke="#d8d0d0" stroke-width="1"/>
<line x1="507.80" y1="69.90" x2="504.30" y2="69.90" stroke="#d8d0d0" stroke-width="1"/>
<line x1="327.90" y1="55.25" x2="329.90" y2="55.25" stroke="#d8d0d0" stroke-width="1"/>
<line x1="507.80" y1="55.25" x2="505.80" y2="55.25" stroke="#d8d0d0" stroke-width="1"/>
<line x1="327.90" y1="40.60" x2="331.40" y2="40.60" stroke="#d8d0d0" stroke-width="1"/>
<line x1="507.80" y1="40.60" x2="504.30" y2="40.60" stroke="#d8d0d0" stroke-width="1"/>
<line x1="327.90" y1="25.95" x2="329.90" y2="25.95" stroke="#d8d0d0" stroke-width="1"/>
<line x1="507.80" y1="25.95" x2="505.80" y2="25.95" stroke="#d8d0d0" stroke-width="1"/>
<line x1="327.90" y1="11.30" x2="331.40" y2="11.30" stroke="#d8d0d0" stroke-width="1"/>
<line x1="507.80" y1="11.30" x2="504.30" y2="11.30" stroke="#d8d0d0" stroke-width="1"/>
<rect x="327.60" y="11.30" width="180.20" height="146.50" fill="none" stroke="none" stroke-width="1"/>
<rect x="510.50" y="12.00" width="12.30" height="143.50" fill="url(#cb275)"/>
<text x="529.10" y="14.90" text-anchor="start" fill="#111" stroke="#111" style="font-size:13.6px;">0.9</text>
<text x="529.10" y="39.12" text-anchor="start" fill="#111" stroke="#111" style="font-size:13.6px;">0.8</text>
<text x="529.10" y="63.33" text-anchor="start" fill="#111" stroke="#111" style="font-size:13.6px;">0.6</text>
<text x="529.10" y="87.55" text-anchor="start" fill="#111" stroke="#111" style="font-size:13.6px;">0.5</text>
<text x="529.10" y="111.77" text-anchor="start" fill="#111" stroke="#111" style="font-size:13.6px;">0.3</text>
<text x="529.10" y="135.98" text-anchor="start" fill="#111" stroke="#111" style="font-size:13.6px;">0.2</text>
<text x="529.10" y="160.20" text-anchor="start" fill="#111" stroke="#111" style="font-size:13.6px;">0.0</text>
<text x="327.90" y="170.30" text-anchor="middle" fill="#111" stroke="#111" style="font-size:12px;">50</text>
<text x="350.39" y="170.30" text-anchor="middle" fill="#111" stroke="#111" style="font-size:12px;">75</text>
<text x="372.88" y="170.30" text-anchor="middle" fill="#111" stroke="#111" style="font-size:12px;">100</text>
<text x="395.36" y="170.30" text-anchor="middle" fill="#111" stroke="#111" style="font-size:12px;">125</text>
<text x="417.85" y="170.30" text-anchor="middle" fill="#111" stroke="#111" style="font-size:12px;">150</text>
<text x="440.34" y="170.30" text-anchor="middle" fill="#111" stroke="#111" style="font-size:12px;">175</text>
<text x="462.82" y="170.30" text-anchor="middle" fill="#111" stroke="#111" style="font-size:12px;">200</text>
<text x="485.31" y="170.30" text-anchor="middle" fill="#111" stroke="#111" style="font-size:12px;">225</text>
<text x="507.80" y="170.30" text-anchor="middle" fill="#111" stroke="#111" style="font-size:12px;">250</text>
<text x="325.00" y="161.30" text-anchor="end" fill="#111" stroke="#111" style="font-size:12px;">20</text>
<text x="325.00" y="132.00" text-anchor="end" fill="#111" stroke="#111" style="font-size:12px;">30</text>
<text x="325.00" y="102.70" text-anchor="end" fill="#111" stroke="#111" style="font-size:12px;">40</text>
<text x="325.00" y="73.40" text-anchor="end" fill="#111" stroke="#111" style="font-size:12px;">50</text>
<text x="325.00" y="44.10" text-anchor="end" fill="#111" stroke="#111" style="font-size:12px;">60</text>
<text x="325.00" y="14.80" text-anchor="end" fill="#111" stroke="#111" style="font-size:12px;">70</text>
<text x="429.70" y="152.40" text-anchor="middle" fill="#ece4e4" stroke="#ece4e4" style="font-size:12px;">A</text>
<text x="493.10" y="152.40" text-anchor="middle" fill="#ece4e4" stroke="#ece4e4" style="font-size:12px;">B</text>
<text x="382.50" y="188.4" fill="#111" stroke="#111" style="font-size:15px;stroke-width:0.15px"><tspan style="font-style:italic">d</tspan><tspan dy="4.8" style="font-size:9.3px">Ce-YIG</tspan><tspan dy="-4.8" style="font-size:14.5px"> (nm)</tspan></text>
<text transform="translate(300.50,79.7) rotate(-90)" text-anchor="middle" fill="#111" stroke="#111" style="font-size:16px;stroke-width:0.15px"><tspan style="font-style:italic">θ</tspan><tspan dx="-1.5"> (deg)</tspan></text>
<text x="280.30" y="22.00" text-anchor="start" fill="#111" stroke="#111" style="font-size:17px;stroke-width:0.12px;">(b)</text>
<text x="333.30" y="29.30" text-anchor="start" fill="#f2eeee" stroke="#f2eeee" style="font-size:17px;stroke-width:0.12px;">|TMOKE|</text>
<polyline clip-path="url(#clc)" points="52.00,217.13 52.26,217.13 52.52,217.13 52.77,217.13 53.03,217.13 53.29,217.13 53.55,217.13 53.81,217.13 54.07,217.13 54.32,217.13 54.58,217.13 54.84,217.13 55.10,217.13 55.36,217.13 55.62,217.13 55.87,217.13 56.13,217.13 56.39,217.13 56.65,217.13 56.91,217.13 57.16,217.13 57.42,217.13 57.68,217.13 57.94,217.13 58.20,217.13 58.46,217.13 58.71,217.13 58.97,217.13 59.23,217.13 59.49,217.13 59.75,217.13 60.01,217.13 60.26,217.13 60.52,217.13 60.78,217.13 61.04,217.13 61.30,217.13 61.55,217.13 61.81,217.13 62.07,217.13 62.33,217.13 62.59,217.13 62.85,217.13 63.10,217.13 63.36,217.13 63.62,217.13 63.88,217.13 64.14,217.13 64.39,217.13 64.65,217.13 64.91,217.13 65.17,217.13 65.43,217.13 65.69,217.13 65.94,217.13 66.20,217.13 66.46,217.13 66.72,217.13 66.98,217.13 67.24,217.13 67.49,217.13 67.75,217.13 68.01,217.13 68.27,217.13 68.53,217.13 68.78,217.13 69.04,217.13 69.30,217.13 69.56,217.13 69.82,217.13 70.08,217.13 70.33,217.13 70.59,217.13 70.85,217.13 71.11,217.13 71.37,217.13 71.63,217.13 71.88,217.13 72.14,217.13 72.40,217.13 72.66,217.13 72.92,217.13 73.17,217.13 73.43,217.13 73.69,217.13 73.95,217.13 74.21,217.13 74.47,217.13 74.72,217.13 74.98,217.13 75.24,217.13 75.50,217.13 75.76,217.13 76.02,217.13 76.27,217.13 76.53,217.13 76.79,217.13 77.05,217.13 77.31,217.13 77.56,217.13 77.82,217.13 78.08,217.13 78.34,217.13 78.60,217.13 78.86,217.13 79.11,217.13 79.37,217.13 79.63,217.14 79.89,217.15 80.15,217.16 80.40,217.17 80.66,217.19 80.92,217.21 81.18,217.23 81.44,217.25 81.70,217.28 81.95,217.31 82.21,217.34 82.47,217.38 82.73,217.42 82.99,217.46 83.25,217.51 83.50,217.55 83.76,217.62 84.02,217.74 84.28,217.91 84.54,218.12 84.79,218.36 85.05,218.63 85.31,218.91 85.57,219.19 85.83,219.47 86.09,219.76 86.34,220.07 86.60,220.42 86.86,220.80 87.12,221.23 87.38,221.71 87.64,222.25 87.89,222.94 88.15,223.75 88.41,224.66 88.67,225.67 88.93,226.73 89.18,227.85 89.44,229.03 89.70,230.33 89.96,231.81 90.22,233.53 90.48,235.55 90.73,238.17 90.99,241.67 91.25,245.90 91.51,250.73 91.77,256.02 92.03,262.41 92.28,269.99 92.54,278.40 92.80,287.31 93.06,296.76 93.32,307.81 93.57,319.40 93.83,330.23 94.09,339.65 94.35,349.48 94.61,356.18 94.87,356.16 95.12,351.58 95.38,345.10 95.64,339.09 95.90,333.69 96.16,328.12 96.41,322.66 96.67,317.59 96.93,312.83 97.19,308.22 97.45,303.98 97.71,300.32 97.96,297.16 98.22,294.19 98.48,291.43 98.74,288.89 99.00,286.57 99.26,284.49 99.51,282.66 99.77,280.99 100.03,279.40 100.29,277.89 100.55,276.49 100.80,275.22 101.06,274.11 101.32,273.18 101.58,272.45 101.84,271.89 102.10,271.34 102.35,270.83 102.61,270.36 102.87,269.94 103.13,269.58 103.39,269.29 103.65,269.09 103.90,268.98 104.16,268.98 104.42,269.14 104.68,269.45 104.94,269.89 105.19,270.43 105.45,271.07 105.71,271.77 105.97,272.51 106.23,273.30 106.49,274.39 106.74,275.82 107.00,277.51 107.26,279.38 107.52,281.36 107.78,283.37 108.04,285.33 108.29,287.18 108.55,288.91 108.81,290.59 109.07,292.29 109.33,294.07 109.58,295.98 109.84,298.09 110.10,300.45 110.36,303.29 110.62,306.60 110.88,310.24 111.13,314.09 111.39,318.00 111.65,321.83 111.91,325.47 112.17,329.27 112.42,333.27 112.68,337.20 112.94,340.80 113.20,343.80 113.46,346.00 113.72,347.98 113.97,349.80 114.23,351.30 114.49,352.30 114.75,352.62 115.01,352.41 115.27,351.92 115.52,351.21 115.78,350.35 116.04,349.43 116.30,348.51 116.56,347.61 116.81,346.60 117.07,345.49 117.33,344.29 117.59,343.02 117.85,341.70 118.11,340.33 118.36,338.95 118.62,337.56 118.88,336.18 119.14,334.82 119.40,333.46 119.66,332.06 119.91,330.63 120.17,329.18 120.43,327.73 120.69,326.26 120.95,324.80 121.20,323.35 121.46,321.87 121.72,320.35 121.98,318.81 122.24,317.30 122.50,315.83 122.75,314.43 123.01,313.13 123.27,311.91 123.53,310.74 123.79,309.61 124.05,308.52 124.30,307.47 124.56,306.43 124.82,305.42 125.08,304.41 125.34,303.41 125.59,302.41 125.85,301.39 126.11,300.37 126.37,299.35 126.63,298.34 126.89,297.33 127.14,296.34 127.40,295.34 127.66,294.36 127.92,293.37 128.18,292.39 128.43,291.41 128.69,290.43 128.95,289.45 129.21,288.47 129.47,287.48 129.73,286.50 129.98,285.51 130.24,284.53 130.50,283.55 130.76,282.57 131.02,281.59 131.28,280.60 131.53,279.61 131.79,278.61 132.05,277.61 132.31,276.60 132.57,275.58 132.82,274.56 133.08,273.54 133.34,272.51 133.60,271.49 133.86,270.47 134.12,269.45 134.37,268.43 134.63,267.40 134.89,266.37 135.15,265.35 135.41,264.32 135.67,263.30 135.92,262.28 136.18,261.27 136.44,260.27 136.70,259.28 136.96,258.27 137.21,257.25 137.47,256.22 137.73,255.20 137.99,254.17 138.25,253.16 138.51,252.16 138.76,251.18 139.02,250.23 139.28,249.30 139.54,248.41 139.80,247.56 140.06,246.75 140.31,245.98 140.57,245.23 140.83,244.49 141.09,243.77 141.35,243.07 141.60,242.38 141.86,241.71 142.12,241.05 142.38,240.41 142.64,239.78 142.90,239.17 143.15,238.57 143.41,237.99 143.67,237.42 143.93,236.87 144.19,236.33 144.44,235.80 144.70,235.29 144.96,234.79 145.22,234.30 145.48,233.82 145.74,233.35 145.99,232.88 146.25,232.42 146.51,231.98 146.77,231.54 147.03,231.10 147.29,230.68 147.54,230.27 147.80,229.87 148.06,229.47 148.32,229.09 148.58,228.72 148.83,228.35 149.09,228.00 149.35,227.66 149.61,227.33 149.87,227.01 150.13,226.70 150.38,226.40 150.64,226.11 150.90,225.82 151.16,225.53 151.42,225.25 151.68,224.97 151.93,224.70 152.19,224.43 152.45,224.16 152.71,223.90 152.97,223.65 153.22,223.40 153.48,223.16 153.74,222.91 154.00,222.68 154.26,222.45 154.52,222.22 154.77,222.00 155.03,221.78 155.29,221.57 155.55,221.37 155.81,221.16 156.07,220.97 156.32,220.78 156.58,220.59 156.84,220.41 157.10,220.23 157.36,220.06 157.61,219.89 157.87,219.73 158.13,219.57 158.39,219.41 158.65,219.26 158.91,219.10 159.16,218.95 159.42,218.80 159.68,218.66 159.94,218.52 160.20,218.38 160.45,218.24 160.71,218.10 160.97,217.97 161.23,217.84 161.49,217.71 161.75,217.58 162.00,217.46 162.26,217.34 162.52,217.22 162.78,217.10 163.04,216.99 163.30,216.87 163.55,216.76 163.81,216.65 164.07,216.55 164.33,216.44 164.59,216.34 164.84,216.24 165.10,216.15 165.36,216.05 165.62,215.96 165.88,215.87 166.14,215.78 166.39,215.69 166.65,215.60 166.91,215.51 167.17,215.43 167.43,215.34 167.69,215.26 167.94,215.17 168.20,215.09 168.46,215.01 168.72,214.92 168.98,214.84 169.23,214.76 169.49,214.69 169.75,214.61 170.01,214.53 170.27,214.46 170.53,214.39 170.78,214.32 171.04,214.25 171.30,214.18 171.56,214.11 171.82,214.05 172.08,213.98 172.33,213.92 172.59,213.86 172.85,213.80 173.11,213.74 173.37,213.69 173.62,213.64 173.88,213.58 174.14,213.54 174.40,213.49 174.66,213.44 174.92,213.40 175.17,213.36 175.43,213.32 175.69,213.29 175.95,213.25 176.21,213.21 176.46,213.17 176.72,213.14 176.98,213.10 177.24,213.06 177.50,213.03 177.76,212.99 178.01,212.96 178.27,212.92 178.53,212.89 178.79,212.85 179.05,212.82 179.31,212.79 179.56,212.75 179.82,212.72 180.08,212.69 180.34,212.65 180.60,212.62 180.85,212.59 181.11,212.56 181.37,212.53 181.63,212.50 181.89,212.47 182.15,212.44 182.40,212.41 182.66,212.38 182.92,212.35 183.18,212.32 183.44,212.29 183.70,212.26 183.95,212.24 184.21,212.21 184.47,212.18 184.73,212.15 184.99,212.13 185.24,212.10 185.50,212.08 185.76,212.05 186.02,212.03 186.28,212.00 186.54,211.98 186.79,211.96 187.05,211.93 187.31,211.91 187.57,211.89 187.83,211.87 188.09,211.85 188.34,211.83 188.60,211.81 188.86,211.79 189.12,211.77 189.38,211.75 189.63,211.73 189.89,211.71 190.15,211.69 190.41,211.68 190.67,211.66 190.93,211.64 191.18,211.63 191.44,211.61 191.70,211.60 191.96,211.59 192.22,211.57 192.47,211.56 192.73,211.55 192.99,211.53 193.25,211.52 193.51,211.51 193.77,211.50 194.02,211.49 194.28,211.48 194.54,211.47 194.80,211.46 195.06,211.46 195.32,211.45 195.57,211.44 195.83,211.44 196.09,211.43 196.35,211.43 196.61,211.42 196.86,211.41 197.12,211.41 197.38,211.40 197.64,211.40 197.90,211.39 198.16,211.39 198.41,211.38 198.67,211.37 198.93,211.37 199.19,211.36 199.45,211.36 199.71,211.35 199.96,211.35 200.22,211.34 200.48,211.34 200.74,211.33 201.00,211.33 201.25,211.32 201.51,211.32 201.77,211.31 202.03,211.31 202.29,211.30 202.55,211.30 202.80,211.29 203.06,211.29 203.32,211.28 203.58,211.28 203.84,211.27 204.10,211.27 204.35,211.26 204.61,211.26 204.87,211.25 205.13,211.25 205.39,211.24 205.64,211.24 205.90,211.24 206.16,211.23 206.42,211.23 206.68,211.22 206.94,211.22 207.19,211.21 207.45,211.21 207.71,211.21 207.97,211.20 208.23,211.20 208.48,211.19 208.74,211.19 209.00,211.19 209.26,211.18 209.52,211.18 209.78,211.17 210.03,211.17 210.29,211.17 210.55,211.16 210.81,211.16 211.07,211.15 211.33,211.15 211.58,211.15 211.84,211.14 212.10,211.14 212.36,211.14 212.62,211.13 212.87,211.13 213.13,211.13 213.39,211.12 213.65,211.12 213.91,211.12 214.17,211.11 214.42,211.11 214.68,211.11 214.94,211.10 215.20,211.10 215.46,211.10 215.72,211.10 215.97,211.09 216.23,211.09 216.49,211.09 216.75,211.08 217.01,211.08 217.26,211.08 217.52,211.08 217.78,211.07 218.04,211.07 218.30,211.07 218.56,211.07 218.81,211.06 219.07,211.06 219.33,211.06 219.59,211.06 219.85,211.06 220.11,211.05 220.36,211.05 220.62,211.05 220.88,211.05 221.14,211.04 221.40,211.04 221.65,211.04 221.91,211.04 222.17,211.04 222.43,211.04 222.69,211.03 222.95,211.03 223.20,211.03 223.46,211.03 223.72,211.03 223.98,211.03 224.24,211.02 224.49,211.02 224.75,211.02 225.01,211.02 225.27,211.02 225.53,211.02 225.79,211.02 226.04,211.01 226.30,211.01 226.56,211.01 226.82,211.01 227.08,211.01 227.34,211.01 227.59,211.01 227.85,211.01 228.11,211.01 228.37,211.01 228.63,211.01 228.88,211.00 229.14,211.00 229.40,211.00 229.66,211.00 229.92,211.00 230.18,211.00 230.43,211.00 230.69,211.00 230.95,211.00 231.21,211.00 231.47,211.00 231.73,211.00 231.98,211.00 232.24,211.00 232.50,211.00" fill="none" stroke="#2a2aff" stroke-width="1.7" stroke-dasharray="4.5 4.5"/>
<polyline clip-path="url(#clc)" points="52.00,348.93 52.36,348.93 52.72,348.92 53.08,348.92 53.44,348.92 53.80,348.91 54.16,348.91 54.52,348.91 54.88,348.90 55.24,348.90 55.60,348.89 55.96,348.89 56.32,348.88 56.68,348.88 57.04,348.88 57.40,348.87 57.76,348.87 58.12,348.86 58.48,348.86 58.84,348.85 59.20,348.85 59.57,348.84 59.93,348.83 60.29,348.83 60.65,348.82 61.01,348.82 61.37,348.81 61.73,348.81 62.09,348.80 62.45,348.79 62.81,348.79 63.17,348.78 63.53,348.78 63.89,348.77 64.25,348.76 64.61,348.76 64.97,348.75 65.33,348.74 65.69,348.74 66.05,348.73 66.41,348.72 66.77,348.72 67.13,348.71 67.49,348.70 67.85,348.70 68.21,348.69 68.57,348.68 68.93,348.68 69.29,348.67 69.65,348.66 70.01,348.65 70.37,348.65 70.73,348.64 71.09,348.63 71.45,348.62 71.81,348.62 72.17,348.61 72.53,348.60 72.89,348.59 73.25,348.58 73.61,348.57 73.97,348.56 74.33,348.55 74.70,348.54 75.06,348.53 75.42,348.52 75.78,348.51 76.14,348.50 76.50,348.49 76.86,348.48 77.22,348.47 77.58,348.46 77.94,348.45 78.30,348.44 78.66,348.43 79.02,348.42 79.38,348.41 79.74,348.40 80.10,348.39 80.46,348.37 80.82,348.36 81.18,348.35 81.54,348.34 81.90,348.33 82.26,348.32 82.62,348.31 82.98,348.30 83.34,348.29 83.70,348.28 84.06,348.27 84.42,348.26 84.78,348.25 85.14,348.24 85.50,348.23 85.86,348.22 86.22,348.21 86.58,348.20 86.94,348.19 87.30,348.18 87.66,348.17 88.02,348.16 88.38,348.15 88.74,348.14 89.10,348.13 89.47,348.12 89.83,348.10 90.19,348.09 90.55,348.08 90.91,348.07 91.27,348.06 91.63,348.05 91.99,348.04 92.35,348.03 92.71,348.02 93.07,348.01 93.43,348.00 93.79,347.99 94.15,347.98 94.51,347.97 94.87,347.96 94.87,347.96 94.87,176.38 94.87,347.96 94.87,347.96 96.03,347.90 97.18,347.85 98.34,347.79 99.50,347.73 100.65,347.67 101.81,347.61 102.96,347.55 104.12,347.50 105.28,347.46 106.43,347.43 107.59,347.39 108.75,347.35 109.90,347.30 111.06,347.22 112.22,347.12 113.37,346.99 114.53,345.92 115.69,344.08 116.84,344.99 118.00,345.42 119.16,345.71 120.31,345.95 121.47,346.14 122.63,346.32 123.78,346.51 124.94,346.71 126.10,346.92 127.25,347.14 128.41,347.36 129.57,347.57 130.72,347.77 131.88,347.98 133.04,348.18 134.19,348.37 135.35,348.54 136.51,348.69 137.66,348.81 138.82,348.93 139.97,349.03 141.13,349.13 142.29,349.21 143.44,349.30 144.60,349.38 145.76,349.45 146.91,349.48 148.07,349.48 149.23,349.48 150.38,349.48 151.54,349.48 152.70,349.48 153.85,349.48 155.01,349.48 156.17,349.48 157.32,349.48 158.48,349.48 159.64,349.48 160.79,349.48 161.95,349.48 163.11,349.48 164.26,349.48 165.42,349.48 166.58,349.48 167.73,349.48 168.89,349.48 170.05,349.48 171.20,349.48 172.36,349.48 173.52,349.48 174.67,349.48 175.83,349.48 176.98,349.48 178.14,349.48 179.30,349.48 180.45,349.48 181.61,349.48 182.77,349.48 183.92,349.48 185.08,349.48 186.24,349.48 187.39,349.48 188.55,349.48 189.71,349.48 190.86,349.48 192.02,349.48 193.18,349.48 194.33,349.48 195.49,349.48 196.65,349.48 197.80,349.48 198.96,349.48 200.12,349.48 201.27,349.48 202.43,349.48 203.59,349.48 204.74,349.48 205.90,349.48 207.06,349.48 208.21,349.48 209.37,349.48 210.53,349.48 211.68,349.48 212.84,349.48 213.99,349.48 215.15,349.48 216.31,349.48 217.46,349.48 218.62,349.48 219.78,349.48 220.93,349.48 222.09,349.48 223.25,349.48 224.40,349.48 225.56,349.48 226.72,349.48 227.87,349.48 229.03,349.48 230.19,349.48 231.34,349.48 232.50,349.48" fill="none" stroke="#ff2020" stroke-width="1.7" stroke-linejoin="round"/>
<line x1="52.00" y1="357.00" x2="52.00" y2="354.00" stroke="#222" stroke-width="1"/>
<line x1="52.00" y1="211.00" x2="52.00" y2="214.00" stroke="#222" stroke-width="1"/>
<line x1="58.02" y1="357.00" x2="58.02" y2="355.20" stroke="#222" stroke-width="1"/>
<line x1="58.02" y1="211.00" x2="58.02" y2="212.80" stroke="#222" stroke-width="1"/>
<line x1="64.03" y1="357.00" x2="64.03" y2="355.20" stroke="#222" stroke-width="1"/>
<line x1="64.03" y1="211.00" x2="64.03" y2="212.80" stroke="#222" stroke-width="1"/>
<line x1="70.05" y1="357.00" x2="70.05" y2="355.20" stroke="#222" stroke-width="1"/>
<line x1="70.05" y1="211.00" x2="70.05" y2="212.80" stroke="#222" stroke-width="1"/>
<line x1="76.07" y1="357.00" x2="76.07" y2="355.20" stroke="#222" stroke-width="1"/>
<line x1="76.07" y1="211.00" x2="76.07" y2="212.80" stroke="#222" stroke-width="1"/>
<line x1="82.08" y1="357.00" x2="82.08" y2="354.00" stroke="#222" stroke-width="1"/>
<line x1="82.08" y1="211.00" x2="82.08" y2="214.00" stroke="#222" stroke-width="1"/>
<line x1="88.10" y1="357.00" x2="88.10" y2="355.20" stroke="#222" stroke-width="1"/>
<line x1="88.10" y1="211.00" x2="88.10" y2="212.80" stroke="#222" stroke-width="1"/>
<line x1="94.12" y1="357.00" x2="94.12" y2="355.20" stroke="#222" stroke-width="1"/>
<line x1="94.12" y1="211.00" x2="94.12" y2="212.80" stroke="#222" stroke-width="1"/>
<line x1="100.13" y1="357.00" x2="100.13" y2="355.20" stroke="#222" stroke-width="1"/>
<line x1="100.13" y1="211.00" x2="100.13" y2="212.80" stroke="#222" stroke-width="1"/>
<line x1="106.15" y1="357.00" x2="106.15" y2="355.20" stroke="#222" stroke-width="1"/>
<line x1="106.15" y1="211.00" x2="106.15" y2="212.80" stroke="#222" stroke-width="1"/>
<line x1="112.17" y1="357.00" x2="112.17" y2="354.00" stroke="#222" stroke-width="1"/>
<line x1="112.17" y1="211.00" x2="112.17" y2="214.00" stroke="#222" stroke-width="1"/>
<line x1="118.18" y1="357.00" x2="118.18" y2="355.20" stroke="#222" stroke-width="1"/>
<line x1="118.18" y1="211.00" x2="118.18" y2="212.80" stroke="#222" stroke-width="1"/>
<line x1="124.20" y1="357.00" x2="124.20" y2="355.20" stroke="#222" stroke-width="1"/>
<line x1="124.20" y1="211.00" x2="124.20" y2="212.80" stroke="#222" stroke-width="1"/>
<line x1="130.22" y1="357.00" x2="130.22" y2="355.20" stroke="#222" stroke-width="1"/>
<line x1="130.22" y1="211.00" x2="130.22" y2="212.80" stroke="#222" stroke-width="1"/>
<line x1="136.23" y1="357.00" x2="136.23" y2="355.20" stroke="#222" stroke-width="1"/>
<line x1="136.23" y1="211.00" x2="136.23" y2="212.80" stroke="#222" stroke-width="1"/>
<line x1="142.25" y1="357.00" x2="142.25" y2="354.00" stroke="#222" stroke-width="1"/>
<line x1="142.25" y1="211.00" x2="142.25" y2="214.00" stroke="#222" stroke-width="1"/>
<line x1="148.27" y1="357.00" x2="148.27" y2="355.20" stroke="#222" stroke-width="1"/>
<line x1="148.27" y1="211.00" x2="148.27" y2="212.80" stroke="#222" stroke-width="1"/>
<line x1="154.28" y1="357.00" x2="154.28" y2="355.20" stroke="#222" stroke-width="1"/>
<line x1="154.28" y1="211.00" x2="154.28" y2="212.80" stroke="#222" stroke-width="1"/>
<line x1="160.30" y1="357.00" x2="160.30" y2="355.20" stroke="#222" stroke-width="1"/>
<line x1="160.30" y1="211.00" x2="160.30" y2="212.80" stroke="#222" stroke-width="1"/>
<line x1="166.32" y1="357.00" x2="166.32" y2="355.20" stroke="#222" stroke-width="1"/>
<line x1="166.32" y1="211.00" x2="166.32" y2="212.80" stroke="#222" stroke-width="1"/>
<line x1="172.33" y1="357.00" x2="172.33" y2="354.00" stroke="#222" stroke-width="1"/>
<line x1="172.33" y1="211.00" x2="172.33" y2="214.00" stroke="#222" stroke-width="1"/>
<line x1="178.35" y1="357.00" x2="178.35" y2="355.20" stroke="#222" stroke-width="1"/>
<line x1="178.35" y1="211.00" x2="178.35" y2="212.80" stroke="#222" stroke-width="1"/>
<line x1="184.37" y1="357.00" x2="184.37" y2="355.20" stroke="#222" stroke-width="1"/>
<line x1="184.37" y1="211.00" x2="184.37" y2="212.80" stroke="#222" stroke-width="1"/>
<line x1="190.38" y1="357.00" x2="190.38" y2="355.20" stroke="#222" stroke-width="1"/>
<line x1="190.38" y1="211.00" x2="190.38" y2="212.80" stroke="#222" stroke-width="1"/>
<line x1="196.40" y1="357.00" x2="196.40" y2="355.20" stroke="#222" stroke-width="1"/>
<line x1="196.40" y1="211.00" x2="196.40" y2="212.80" stroke="#222" stroke-width="1"/>
<line x1="202.42" y1="357.00" x2="202.42" y2="354.00" stroke="#222" stroke-width="1"/>
<line x1="202.42" y1="211.00" x2="202.42" y2="214.00" stroke="#222" stroke-width="1"/>
<line x1="208.43" y1="357.00" x2="208.43" y2="355.20" stroke="#222" stroke-width="1"/>
<line x1="208.43" y1="211.00" x2="208.43" y2="212.80" stroke="#222" stroke-width="1"/>
<line x1="214.45" y1="357.00" x2="214.45" y2="355.20" stroke="#222" stroke-width="1"/>
<line x1="214.45" y1="211.00" x2="214.45" y2="212.80" stroke="#222" stroke-width="1"/>
<line x1="220.47" y1="357.00" x2="220.47" y2="355.20" stroke="#222" stroke-width="1"/>
<line x1="220.47" y1="211.00" x2="220.47" y2="212.80" stroke="#222" stroke-width="1"/>
<line x1="226.48" y1="357.00" x2="226.48" y2="355.20" stroke="#222" stroke-width="1"/>
<line x1="226.48" y1="211.00" x2="226.48" y2="212.80" stroke="#222" stroke-width="1"/>
<line x1="232.50" y1="357.00" x2="232.50" y2="354.00" stroke="#222" stroke-width="1"/>
<line x1="232.50" y1="211.00" x2="232.50" y2="214.00" stroke="#222" stroke-width="1"/>
<line x1="52.00" y1="357.00" x2="55.00" y2="357.00" stroke="#2a2aff" stroke-width="1"/>
<line x1="52.00" y1="342.40" x2="53.80" y2="342.40" stroke="#2a2aff" stroke-width="1"/>
<line x1="52.00" y1="327.80" x2="55.00" y2="327.80" stroke="#2a2aff" stroke-width="1"/>
<line x1="52.00" y1="313.20" x2="53.80" y2="313.20" stroke="#2a2aff" stroke-width="1"/>
<line x1="52.00" y1="298.60" x2="55.00" y2="298.60" stroke="#2a2aff" stroke-width="1"/>
<line x1="52.00" y1="284.00" x2="53.80" y2="284.00" stroke="#2a2aff" stroke-width="1"/>
<line x1="52.00" y1="269.40" x2="55.00" y2="269.40" stroke="#2a2aff" stroke-width="1"/>
<line x1="52.00" y1="254.80" x2="53.80" y2="254.80" stroke="#2a2aff" stroke-width="1"/>
<line x1="52.00" y1="240.20" x2="55.00" y2="240.20" stroke="#2a2aff" stroke-width="1"/>
<line x1="52.00" y1="225.60" x2="53.80" y2="225.60" stroke="#2a2aff" stroke-width="1"/>
<line x1="52.00" y1="211.00" x2="55.00" y2="211.00" stroke="#2a2aff" stroke-width="1"/>
<line x1="232.50" y1="349.48" x2="229.50" y2="349.48" stroke="#ff2020" stroke-width="1"/>
<line x1="232.50" y1="314.86" x2="230.70" y2="314.86" stroke="#ff2020" stroke-width="1"/>
<line x1="232.50" y1="280.24" x2="229.50" y2="280.24" stroke="#ff2020" stroke-width="1"/>
<line x1="232.50" y1="245.62" x2="230.70" y2="245.62" stroke="#ff2020" stroke-width="1"/>
<line x1="232.50" y1="211.00" x2="229.50" y2="211.00" stroke="#ff2020" stroke-width="1"/>
<line x1="51.50" y1="211.50" x2="233.00" y2="211.50" stroke="#222" stroke-width="1"/>
<line x1="51.50" y1="357.50" x2="233.00" y2="357.50" stroke="#222" stroke-width="1"/>
<line x1="52.00" y1="211.00" x2="52.00" y2="357.50" stroke="#2a2aff" stroke-width="1.15"/>
<line x1="232.50" y1="211.00" x2="232.50" y2="357.50" stroke="#ff2020" stroke-width="1.1"/>
<text x="52.00" y="370.30" text-anchor="middle" fill="#111" stroke="#111" style="font-size:12px;">20</text>
<text x="82.08" y="370.30" text-anchor="middle" fill="#111" stroke="#111" style="font-size:12px;">30</text>
<text x="112.17" y="370.30" text-anchor="middle" fill="#111" stroke="#111" style="font-size:12px;">40</text>
<text x="142.25" y="370.30" text-anchor="middle" fill="#111" stroke="#111" style="font-size:12px;">50</text>
<text x="172.33" y="370.30" text-anchor="middle" fill="#111" stroke="#111" style="font-size:12px;">60</text>
<text x="202.42" y="370.30" text-anchor="middle" fill="#111" stroke="#111" style="font-size:12px;">70</text>
<text x="232.50" y="370.30" text-anchor="middle" fill="#111" stroke="#111" style="font-size:12px;">80</text>
<text x="49.30" y="360.10" text-anchor="end" fill="#2a2aff" stroke="#2a2aff" style="font-size:13.2px;">0.0</text>
<text x="49.30" y="330.90" text-anchor="end" fill="#2a2aff" stroke="#2a2aff" style="font-size:13.2px;">0.2</text>
<text x="49.30" y="301.70" text-anchor="end" fill="#2a2aff" stroke="#2a2aff" style="font-size:13.2px;">0.4</text>
<text x="49.30" y="272.50" text-anchor="end" fill="#2a2aff" stroke="#2a2aff" style="font-size:13.2px;">0.6</text>
<text x="49.30" y="243.30" text-anchor="end" fill="#2a2aff" stroke="#2a2aff" style="font-size:13.2px;">0.8</text>
<text x="49.30" y="214.10" text-anchor="end" fill="#2a2aff" stroke="#2a2aff" style="font-size:13.2px;">1.0</text>
<text x="235.70" y="353.38" text-anchor="start" fill="#ff2020" stroke="#ff2020" style="font-size:13.2px;stroke-width:0.05px">0.0</text>
<text x="235.70" y="284.14" text-anchor="start" fill="#ff2020" stroke="#ff2020" style="font-size:13.2px;stroke-width:0.05px">0.5</text>
<text x="235.70" y="214.90" text-anchor="start" fill="#ff2020" stroke="#ff2020" style="font-size:13.2px;stroke-width:0.05px">1.0</text>
<text x="5.00" y="221.00" text-anchor="start" fill="#111" stroke="#111" style="font-size:17px;stroke-width:0.12px;">(c)</text>
<text transform="translate(19.5,280.2) rotate(-90)" text-anchor="middle" fill="#2a2aff" stroke="#2a2aff" style="font-size:16px;stroke-width:0.12px"><tspan style="font-style:italic">R</tspan><tspan dx="0.5" dy="4.6" style="font-size:9px">pp</tspan></text>
<text transform="translate(265.8,277) rotate(-90)" text-anchor="middle" fill="#ff2020" stroke="#ff2020" style="font-size:15.5px;stroke-width:0.05px">TMOKE</text>
<text x="121.5" y="388.4" fill="#111" stroke="#111" style="font-size:15.5px;stroke-width:0.15px"><tspan style="font-style:italic">θ</tspan><tspan dx="-1.5"> (deg)</tspan></text>
<polyline clip-path="url(#cld)" points="327.60,231.02 327.86,231.02 328.12,231.02 328.37,231.02 328.63,231.02 328.89,231.02 329.15,231.02 329.40,231.02 329.66,231.02 329.92,231.02 330.18,231.02 330.44,231.02 330.69,231.02 330.95,231.02 331.21,231.02 331.47,231.02 331.72,231.02 331.98,231.02 332.24,231.02 332.50,231.02 332.76,231.02 333.01,231.02 333.27,231.02 333.53,231.02 333.79,231.02 334.04,231.02 334.30,231.02 334.56,231.02 334.82,231.02 335.08,231.02 335.33,231.02 335.59,231.02 335.85,231.02 336.11,231.02 336.37,231.02 336.62,231.02 336.88,231.02 337.14,231.02 337.40,231.02 337.65,231.02 337.91,231.02 338.17,231.02 338.43,231.02 338.69,231.02 338.94,231.02 339.20,231.02 339.46,231.02 339.72,231.02 339.97,231.02 340.23,231.02 340.49,231.02 340.75,231.02 341.01,231.02 341.26,231.02 341.52,231.02 341.78,231.02 342.04,231.02 342.29,231.02 342.55,231.02 342.81,231.02 343.07,231.02 343.33,231.02 343.58,231.02 343.84,231.02 344.10,231.02 344.36,231.02 344.61,231.02 344.87,231.02 345.13,231.02 345.39,231.02 345.65,231.02 345.90,231.02 346.16,231.02 346.42,231.02 346.68,231.02 346.93,231.02 347.19,231.02 347.45,231.02 347.71,231.02 347.97,231.02 348.22,231.02 348.48,231.02 348.74,231.02 349.00,231.02 349.25,231.02 349.51,231.02 349.77,231.02 350.03,231.02 350.29,231.02 350.54,231.02 350.80,231.02 351.06,231.02 351.32,231.02 351.58,231.02 351.83,231.02 352.09,231.02 352.35,231.02 352.61,231.02 352.86,231.02 353.12,231.02 353.38,231.02 353.64,231.02 353.90,231.02 354.15,231.02 354.41,231.02 354.67,231.02 354.93,231.02 355.18,231.02 355.44,231.02 355.70,231.02 355.96,231.02 356.22,231.02 356.47,231.02 356.73,231.02 356.99,231.02 357.25,231.02 357.50,231.02 357.76,231.02 358.02,231.02 358.28,231.02 358.54,231.02 358.79,231.02 359.05,231.02 359.31,231.02 359.57,231.02 359.82,231.02 360.08,231.02 360.34,231.02 360.60,231.02 360.86,231.02 361.11,231.02 361.37,231.02 361.63,231.02 361.89,231.02 362.14,231.03 362.40,231.05 362.66,231.08 362.92,231.11 363.18,231.16 363.43,231.22 363.69,231.27 363.95,231.34 364.21,231.41 364.46,231.48 364.72,231.55 364.98,231.63 365.24,231.74 365.50,231.86 365.75,231.99 366.01,232.15 366.27,232.31 366.53,232.48 366.79,232.66 367.04,232.85 367.30,233.05 367.56,233.24 367.82,233.44 368.07,233.65 368.33,233.86 368.59,234.08 368.85,234.32 369.11,234.57 369.36,234.85 369.62,235.14 369.88,235.46 370.14,235.81 370.39,236.19 370.65,236.62 370.91,237.15 371.17,237.78 371.43,238.48 371.68,239.25 371.94,240.08 372.20,240.95 372.46,241.85 372.71,242.85 372.97,243.94 373.23,245.15 373.49,246.50 373.75,248.00 374.00,249.84 374.26,252.05 374.52,254.46 374.78,256.89 375.03,259.14 375.29,261.28 375.55,263.67 375.81,266.67 376.07,270.98 376.32,277.49 376.58,285.46 376.84,294.01 377.10,302.53 377.35,311.87 377.61,321.73 377.87,331.50 378.13,343.13 378.39,354.42 378.64,358.25 378.90,356.62 379.16,353.25 379.42,349.04 379.67,344.84 379.93,341.46 380.19,338.43 380.45,335.46 380.71,332.54 380.96,329.69 381.22,326.92 381.48,324.22 381.74,321.62 382.00,319.08 382.25,316.62 382.51,314.23 382.77,311.93 383.03,309.72 383.28,307.59 383.54,305.48 383.80,303.41 384.06,301.39 384.32,299.45 384.57,297.58 384.83,295.82 385.09,294.17 385.35,292.65 385.60,291.17 385.86,289.72 386.12,288.34 386.38,287.07 386.64,285.94 386.89,285.00 387.15,284.26 387.41,283.57 387.67,282.91 387.92,282.31 388.18,281.81 388.44,281.43 388.70,281.20 388.96,281.17 389.21,281.26 389.47,281.46 389.73,281.73 389.99,282.07 390.24,282.46 390.50,282.87 390.76,283.32 391.02,283.90 391.28,284.64 391.53,285.51 391.79,286.51 392.05,287.60 392.31,288.78 392.56,290.01 392.82,291.28 393.08,292.57 393.34,293.88 393.60,295.32 393.85,296.89 394.11,298.57 394.37,300.33 394.63,302.17 394.88,304.06 395.14,305.98 395.40,307.93 395.66,309.87 395.92,311.88 396.17,313.97 396.43,316.12 396.69,318.32 396.95,320.56 397.21,322.81 397.46,325.15 397.72,327.56 397.98,329.99 398.24,332.41 398.49,334.76 398.75,337.03 399.01,339.29 399.27,341.52 399.53,343.68 399.78,345.74 400.04,347.66 400.30,349.50 400.56,351.30 400.81,352.98 401.07,354.49 401.33,355.77 401.59,357.04 401.85,358.05 402.10,358.28 402.36,358.06 402.62,357.63 402.88,357.11 403.13,356.58 403.39,356.12 403.65,355.67 403.91,355.20 404.17,354.72 404.42,354.23 404.68,353.73 404.94,353.23 405.20,352.73 405.45,352.24 405.71,351.76 405.97,351.28 406.23,350.83 406.49,350.39 406.74,349.98 407.00,349.60 407.26,349.24 407.52,348.91 407.77,348.58 408.03,348.26 408.29,347.94 408.55,347.61 408.81,347.27 409.06,346.90 409.32,346.51 409.58,346.08 409.84,345.60 410.09,345.08 410.35,344.47 410.61,343.72 410.87,342.87 411.13,341.93 411.38,340.91 411.64,339.86 411.90,338.78 412.16,337.70 412.42,336.64 412.67,335.62 412.93,334.63 413.19,333.66 413.45,332.70 413.70,331.74 413.96,330.78 414.22,329.80 414.48,328.81 414.74,327.80 414.99,326.76 415.25,325.69 415.51,324.58 415.77,323.42 416.02,322.21 416.28,320.94 416.54,319.58 416.80,318.11 417.06,316.55 417.31,314.91 417.57,313.22 417.83,311.50 418.09,309.76 418.34,308.01 418.60,306.28 418.86,304.58 419.12,302.83 419.38,301.03 419.63,299.20 419.89,297.37 420.15,295.57 420.41,293.82 420.66,292.15 420.92,290.59 421.18,289.14 421.44,287.74 421.70,286.41 421.95,285.12 422.21,283.86 422.47,282.63 422.73,281.43 422.98,280.23 423.24,279.03 423.50,277.83 423.76,276.60 424.02,275.36 424.27,274.07 424.53,272.76 424.79,271.43 425.05,270.09 425.31,268.73 425.56,267.38 425.82,266.04 426.08,264.71 426.34,263.41 426.59,262.13 426.85,260.90 427.11,259.70 427.37,258.51 427.63,257.31 427.88,256.10 428.14,254.91 428.40,253.75 428.66,252.62 428.91,251.53 429.17,250.51 429.43,249.56 429.69,248.70 429.95,247.93 430.20,247.23 430.46,246.56 430.72,245.92 430.98,245.31 431.23,244.72 431.49,244.16 431.75,243.62 432.01,243.11 432.27,242.62 432.52,242.14 432.78,241.69 433.04,241.26 433.30,240.85 433.55,240.46 433.81,240.08 434.07,239.72 434.33,239.37 434.59,239.03 434.84,238.70 435.10,238.38 435.36,238.08 435.62,237.78 435.87,237.49 436.13,237.22 436.39,236.95 436.65,236.69 436.91,236.44 437.16,236.20 437.42,235.97 437.68,235.74 437.94,235.52 438.19,235.31 438.45,235.11 438.71,234.91 438.97,234.71 439.23,234.51 439.48,234.32 439.74,234.14 440.00,233.95 440.26,233.77 440.52,233.59 440.77,233.42 441.03,233.25 441.29,233.09 441.55,232.93 441.80,232.77 442.06,232.61 442.32,232.47 442.58,232.32 442.84,232.18 443.09,232.04 443.35,231.91 443.61,231.78 443.87,231.66 444.12,231.54 444.38,231.43 444.64,231.32 444.90,231.22 445.16,231.11 445.41,231.01 445.67,230.91 445.93,230.81 446.19,230.72 446.44,230.62 446.70,230.53 446.96,230.43 447.22,230.34 447.48,230.25 447.73,230.16 447.99,230.08 448.25,229.99 448.51,229.91 448.76,229.83 449.02,229.75 449.28,229.67 449.54,229.60 449.80,229.52 450.05,229.45 450.31,229.38 450.57,229.31 450.83,229.25 451.08,229.18 451.34,229.12 451.60,229.06 451.86,229.00 452.12,228.94 452.37,228.88 452.63,228.83 452.89,228.78 453.15,228.73 453.40,228.68 453.66,228.64 453.92,228.59 454.18,228.55 454.44,228.51 454.69,228.47 454.95,228.42 455.21,228.38 455.47,228.34 455.73,228.30 455.98,228.26 456.24,228.22 456.50,228.18 456.76,228.15 457.01,228.11 457.27,228.07 457.53,228.03 457.79,228.00 458.05,227.96 458.30,227.92 458.56,227.89 458.82,227.85 459.08,227.82 459.33,227.79 459.59,227.75 459.85,227.72 460.11,227.69 460.37,227.65 460.62,227.62 460.88,227.59 461.14,227.56 461.40,227.53 461.65,227.50 461.91,227.47 462.17,227.44 462.43,227.41 462.69,227.38 462.94,227.36 463.20,227.33 463.46,227.30 463.72,227.27 463.97,227.25 464.23,227.22 464.49,227.20 464.75,227.17 465.01,227.15 465.26,227.12 465.52,227.10 465.78,227.07 466.04,227.05 466.29,227.03 466.55,227.01 466.81,226.98 467.07,226.96 467.33,226.94 467.58,226.92 467.84,226.90 468.10,226.88 468.36,226.86 468.61,226.84 468.87,226.82 469.13,226.80 469.39,226.78 469.65,226.76 469.90,226.75 470.16,226.73 470.42,226.71 470.68,226.70 470.94,226.68 471.19,226.66 471.45,226.65 471.71,226.63 471.97,226.62 472.22,226.60 472.48,226.59 472.74,226.57 473.00,226.56 473.26,226.54 473.51,226.53 473.77,226.51 474.03,226.50 474.29,226.48 474.54,226.47 474.80,226.45 475.06,226.44 475.32,226.42 475.58,226.41 475.83,226.39 476.09,226.38 476.35,226.37 476.61,226.35 476.86,226.34 477.12,226.32 477.38,226.31 477.64,226.29 477.90,226.28 478.15,226.26 478.41,226.25 478.67,226.24 478.93,226.22 479.18,226.21 479.44,226.19 479.70,226.18 479.96,226.17 480.22,226.15 480.47,226.14 480.73,226.13 480.99,226.11 481.25,226.10 481.50,226.09 481.76,226.07 482.02,226.06 482.28,226.05 482.54,226.03 482.79,226.02 483.05,226.01 483.31,225.99 483.57,225.98 483.82,225.97 484.08,225.96 484.34,225.94 484.60,225.93 484.86,225.92 485.11,225.91 485.37,225.89 485.63,225.88 485.89,225.87 486.15,225.86 486.40,225.85 486.66,225.83 486.92,225.82 487.18,225.81 487.43,225.80 487.69,225.79 487.95,225.78 488.21,225.77 488.47,225.75 488.72,225.74 488.98,225.73 489.24,225.72 489.50,225.71 489.75,225.70 490.01,225.69 490.27,225.68 490.53,225.67 490.79,225.66 491.04,225.65 491.30,225.64 491.56,225.63 491.82,225.62 492.07,225.61 492.33,225.60 492.59,225.59 492.85,225.58 493.11,225.57 493.36,225.57 493.62,225.56 493.88,225.55 494.14,225.54 494.39,225.53 494.65,225.52 494.91,225.51 495.17,225.51 495.43,225.50 495.68,225.49 495.94,225.48 496.20,225.48 496.46,225.47 496.71,225.46 496.97,225.45 497.23,225.45 497.49,225.44 497.75,225.43 498.00,225.43 498.26,225.42 498.52,225.41 498.78,225.41 499.03,225.40 499.29,225.40 499.55,225.39 499.81,225.39 500.07,225.38 500.32,225.38 500.58,225.37 500.84,225.37 501.10,225.36 501.36,225.36 501.61,225.35 501.87,225.35 502.13,225.34 502.39,225.34 502.64,225.34 502.90,225.33 503.16,225.33 503.42,225.33 503.68,225.32 503.93,225.32 504.19,225.32 504.45,225.31 504.71,225.31 504.96,225.31 505.22,225.31 505.48,225.31 505.74,225.31 506.00,225.30 506.25,225.30 506.51,225.30 506.77,225.30 507.03,225.30 507.28,225.30 507.54,225.30 507.80,225.30" fill="none" stroke="#2a2aff" stroke-width="1.7" stroke-dasharray="4.5 4.5"/>
<polyline clip-path="url(#cld)" points="327.60,309.40 328.03,309.40 328.46,309.40 328.89,309.39 329.31,309.39 329.74,309.39 330.17,309.39 330.60,309.38 331.03,309.38 331.46,309.38 331.89,309.37 332.31,309.37 332.74,309.37 333.17,309.36 333.60,309.36 334.03,309.36 334.46,309.35 334.89,309.35 335.31,309.35 335.74,309.34 336.17,309.34 336.60,309.34 337.03,309.33 337.46,309.33 337.89,309.33 338.31,309.32 338.74,309.32 339.17,309.31 339.60,309.31 340.03,309.30 340.46,309.30 340.88,309.30 341.31,309.29 341.74,309.29 342.17,309.28 342.60,309.28 343.03,309.27 343.46,309.27 343.88,309.26 344.31,309.26 344.74,309.26 345.17,309.25 345.60,309.25 346.03,309.24 346.46,309.24 346.88,309.23 347.31,309.23 347.74,309.22 348.17,309.22 348.60,309.21 349.03,309.21 349.46,309.20 349.88,309.20 350.31,309.19 350.74,309.19 351.17,309.18 351.60,309.17 352.03,309.17 352.46,309.16 352.88,309.16 353.31,309.15 353.74,309.14 354.17,309.14 354.60,309.13 355.03,309.12 355.46,309.12 355.88,309.11 356.31,309.10 356.74,309.09 357.17,309.09 357.60,309.08 358.03,309.07 358.46,309.07 358.88,309.06 359.31,309.05 359.74,309.04 360.17,309.04 360.60,309.03 361.03,309.02 361.45,309.01 361.88,309.00 362.31,309.00 362.74,308.99 363.17,308.98 363.60,308.97 364.03,308.97 364.45,308.96 364.88,308.95 365.31,308.94 365.74,308.94 366.17,308.93 366.60,308.92 367.03,308.91 367.45,308.91 367.88,308.90 368.31,308.89 368.74,308.89 369.17,308.88 369.60,308.87 370.03,308.86 370.45,308.86 370.88,308.85 371.31,308.84 371.74,308.83 372.17,308.83 372.60,308.82 373.03,308.81 373.45,308.81 373.88,308.80 374.31,308.79 374.74,308.78 375.17,308.78 375.60,308.77 376.03,308.76 376.45,308.75 376.88,308.75 377.31,308.74 377.74,308.73 378.17,308.72 378.60,308.72 378.60,308.72 378.60,357.32 378.60,308.72 378.60,308.72 378.80,308.70 379.01,308.69 379.21,308.67 379.42,308.66 379.63,308.64 379.83,308.63 380.04,308.62 380.24,308.60 380.45,308.59 380.66,308.57 380.86,308.56 381.07,308.54 381.27,308.53 381.48,308.51 381.69,308.50 381.89,308.48 382.10,308.47 382.30,308.45 382.51,308.44 382.72,308.42 382.92,308.41 383.13,308.39 383.33,308.38 383.54,308.36 383.75,308.34 383.95,308.33 384.16,308.31 384.36,308.30 384.57,308.28 384.77,308.26 384.98,308.25 385.19,308.23 385.39,308.22 385.60,308.20 385.80,308.18 386.01,308.17 386.22,308.15 386.42,308.14 386.63,308.12 386.83,308.10 387.04,308.09 387.25,308.07 387.45,308.05 387.66,308.04 387.86,308.02 388.07,308.01 388.28,307.99 388.48,307.97 388.69,307.96 388.89,307.94 389.10,307.92 389.31,307.91 389.51,307.89 389.72,307.87 389.92,307.85 390.13,307.84 390.34,307.82 390.54,307.80 390.75,307.78 390.95,307.77 391.16,307.75 391.37,307.73 391.57,307.71 391.78,307.69 391.98,307.67 392.19,307.65 392.39,307.63 392.60,307.61 392.81,307.59 393.01,307.57 393.22,307.55 393.42,307.53 393.63,307.51 393.84,307.49 394.04,307.47 394.25,307.45 394.45,307.42 394.66,307.40 394.87,307.37 395.07,307.35 395.28,307.32 395.48,307.29 395.69,307.26 395.90,307.23 396.10,307.20 396.31,307.16 396.51,307.13 396.72,307.10 396.93,307.07 397.13,307.03 397.34,307.00 397.54,306.96 397.75,306.93 397.96,306.90 398.16,306.86 398.37,306.83 398.57,306.80 398.78,306.77 398.98,306.73 399.19,306.70 399.40,306.67 399.60,306.65 399.81,306.62 400.01,306.59 400.22,306.57 400.43,306.55 400.63,306.52 400.84,306.50 401.04,306.49 401.25,306.47 401.46,306.46 401.66,306.44 401.87,306.43 402.07,306.42 402.28,306.41 402.49,306.39 402.69,306.39 402.90,306.38 403.10,306.37 403.10,306.37 403.10,187.15 403.10,306.37 403.10,306.37 403.98,306.25 404.86,306.05 405.74,305.77 406.62,305.45 407.50,305.07 408.38,304.70 409.26,304.45 410.14,304.31 411.02,304.43 411.90,304.69 412.78,304.96 413.66,305.32 414.54,305.71 415.42,306.07 416.30,306.43 417.18,306.78 418.06,307.07 418.94,307.32 419.82,307.56 420.70,307.78 421.58,307.99 422.46,308.20 423.34,308.41 424.22,308.59 425.10,308.75 425.98,308.91 426.86,309.07 427.74,309.21 428.62,309.33 429.50,309.39 430.38,309.40 431.26,309.40 432.14,309.40 433.02,309.40 433.90,309.40 434.78,309.40 435.66,309.40 436.54,309.40 437.42,309.40 438.30,309.40 439.18,309.40 440.06,309.40 440.94,309.40 441.82,309.40 442.69,309.40 443.57,309.40 444.45,309.40 445.33,309.40 446.21,309.40 447.09,309.40 447.97,309.40 448.85,309.40 449.73,309.40 450.61,309.40 451.49,309.40 452.37,309.40 453.25,309.40 454.13,309.40 455.01,309.40 455.89,309.40 456.77,309.40 457.65,309.40 458.53,309.40 459.41,309.40 460.29,309.40 461.17,309.40 462.05,309.40 462.93,309.40 463.81,309.40 464.69,309.40 465.57,309.40 466.45,309.40 467.33,309.40 468.21,309.40 469.09,309.40 469.97,309.40 470.85,309.40 471.73,309.40 472.61,309.40 473.49,309.40 474.37,309.40 475.25,309.40 476.13,309.40 477.01,309.40 477.89,309.40 478.77,309.40 479.65,309.40 480.53,309.40 481.41,309.40 482.29,309.40 483.17,309.40 484.05,309.40 484.93,309.40 485.81,309.40 486.68,309.40 487.56,309.40 488.44,309.40 489.32,309.40 490.20,309.40 491.08,309.40 491.96,309.40 492.84,309.40 493.72,309.40 494.60,309.40 495.48,309.40 496.36,309.40 497.24,309.40 498.12,309.40 499.00,309.40 499.88,309.40 500.76,309.40 501.64,309.40 502.52,309.40 503.40,309.40 504.28,309.40 505.16,309.40 506.04,309.40 506.92,309.40 507.80,309.40" fill="none" stroke="#ff2020" stroke-width="1.7" stroke-linejoin="round"/>
<line x1="327.60" y1="358.30" x2="327.60" y2="355.30" stroke="#222" stroke-width="1"/>
<line x1="327.60" y1="211.60" x2="327.60" y2="214.60" stroke="#222" stroke-width="1"/>
<line x1="342.02" y1="358.30" x2="342.02" y2="356.50" stroke="#222" stroke-width="1"/>
<line x1="342.02" y1="211.60" x2="342.02" y2="213.40" stroke="#222" stroke-width="1"/>
<line x1="356.43" y1="358.30" x2="356.43" y2="356.50" stroke="#222" stroke-width="1"/>
<line x1="356.43" y1="211.60" x2="356.43" y2="213.40" stroke="#222" stroke-width="1"/>
<line x1="370.85" y1="358.30" x2="370.85" y2="356.50" stroke="#222" stroke-width="1"/>
<line x1="370.85" y1="211.60" x2="370.85" y2="213.40" stroke="#222" stroke-width="1"/>
<line x1="385.26" y1="358.30" x2="385.26" y2="356.50" stroke="#222" stroke-width="1"/>
<line x1="385.26" y1="211.60" x2="385.26" y2="213.40" stroke="#222" stroke-width="1"/>
<line x1="399.68" y1="358.30" x2="399.68" y2="355.30" stroke="#222" stroke-width="1"/>
<line x1="399.68" y1="211.60" x2="399.68" y2="214.60" stroke="#222" stroke-width="1"/>
<line x1="414.10" y1="358.30" x2="414.10" y2="356.50" stroke="#222" stroke-width="1"/>
<line x1="414.10" y1="211.60" x2="414.10" y2="213.40" stroke="#222" stroke-width="1"/>
<line x1="428.51" y1="358.30" x2="428.51" y2="356.50" stroke="#222" stroke-width="1"/>
<line x1="428.51" y1="211.60" x2="428.51" y2="213.40" stroke="#222" stroke-width="1"/>
<line x1="442.93" y1="358.30" x2="442.93" y2="356.50" stroke="#222" stroke-width="1"/>
<line x1="442.93" y1="211.60" x2="442.93" y2="213.40" stroke="#222" stroke-width="1"/>
<line x1="457.34" y1="358.30" x2="457.34" y2="356.50" stroke="#222" stroke-width="1"/>
<line x1="457.34" y1="211.60" x2="457.34" y2="213.40" stroke="#222" stroke-width="1"/>
<line x1="471.76" y1="358.30" x2="471.76" y2="355.30" stroke="#222" stroke-width="1"/>
<line x1="471.76" y1="211.60" x2="471.76" y2="214.60" stroke="#222" stroke-width="1"/>
<line x1="486.18" y1="358.30" x2="486.18" y2="356.50" stroke="#222" stroke-width="1"/>
<line x1="486.18" y1="211.60" x2="486.18" y2="213.40" stroke="#222" stroke-width="1"/>
<line x1="500.59" y1="358.30" x2="500.59" y2="356.50" stroke="#222" stroke-width="1"/>
<line x1="500.59" y1="211.60" x2="500.59" y2="213.40" stroke="#222" stroke-width="1"/>
<line x1="327.60" y1="358.30" x2="330.60" y2="358.30" stroke="#2a2aff" stroke-width="1"/>
<line x1="327.60" y1="345.00" x2="329.40" y2="345.00" stroke="#2a2aff" stroke-width="1"/>
<line x1="327.60" y1="331.70" x2="330.60" y2="331.70" stroke="#2a2aff" stroke-width="1"/>
<line x1="327.60" y1="318.40" x2="329.40" y2="318.40" stroke="#2a2aff" stroke-width="1"/>
<line x1="327.60" y1="305.10" x2="330.60" y2="305.10" stroke="#2a2aff" stroke-width="1"/>
<line x1="327.60" y1="291.80" x2="329.40" y2="291.80" stroke="#2a2aff" stroke-width="1"/>
<line x1="327.60" y1="278.50" x2="330.60" y2="278.50" stroke="#2a2aff" stroke-width="1"/>
<line x1="327.60" y1="265.20" x2="329.40" y2="265.20" stroke="#2a2aff" stroke-width="1"/>
<line x1="327.60" y1="251.90" x2="330.60" y2="251.90" stroke="#2a2aff" stroke-width="1"/>
<line x1="327.60" y1="238.60" x2="329.40" y2="238.60" stroke="#2a2aff" stroke-width="1"/>
<line x1="327.60" y1="225.30" x2="330.60" y2="225.30" stroke="#2a2aff" stroke-width="1"/>
<line x1="327.60" y1="212.00" x2="329.40" y2="212.00" stroke="#2a2aff" stroke-width="1"/>
<line x1="507.80" y1="358.30" x2="504.80" y2="358.30" stroke="#ff2020" stroke-width="1"/>
<line x1="507.80" y1="333.85" x2="506.00" y2="333.85" stroke="#ff2020" stroke-width="1"/>
<line x1="507.80" y1="309.40" x2="504.80" y2="309.40" stroke="#ff2020" stroke-width="1"/>
<line x1="507.80" y1="284.95" x2="506.00" y2="284.95" stroke="#ff2020" stroke-width="1"/>
<line x1="507.80" y1="260.50" x2="504.80" y2="260.50" stroke="#ff2020" stroke-width="1"/>
<line x1="507.80" y1="236.05" x2="506.00" y2="236.05" stroke="#ff2020" stroke-width="1"/>
<line x1="507.80" y1="211.60" x2="504.80" y2="211.60" stroke="#ff2020" stroke-width="1"/>
<line x1="327.10" y1="211.50" x2="508.30" y2="211.50" stroke="#222" stroke-width="1"/>
<line x1="327.10" y1="358.50" x2="508.30" y2="358.50" stroke="#222" stroke-width="1"/>
<line x1="327.60" y1="211.60" x2="327.60" y2="358.80" stroke="#2a2aff" stroke-width="1.15"/>
<line x1="507.80" y1="211.60" x2="507.80" y2="358.80" stroke="#ff2020" stroke-width="1.1"/>
<text x="327.60" y="371.40" text-anchor="middle" fill="#111" stroke="#111" style="font-size:12px;">20</text>
<text x="399.68" y="371.40" text-anchor="middle" fill="#111" stroke="#111" style="font-size:12px;">40</text>
<text x="471.76" y="371.40" text-anchor="middle" fill="#111" stroke="#111" style="font-size:12px;">60</text>
<text x="324.90" y="362.00" text-anchor="end" fill="#2a2aff" stroke="#2a2aff" style="font-size:13.2px;">0.0</text>
<text x="324.90" y="335.40" text-anchor="end" fill="#2a2aff" stroke="#2a2aff" style="font-size:13.2px;">0.2</text>
<text x="324.90" y="308.80" text-anchor="end" fill="#2a2aff" stroke="#2a2aff" style="font-size:13.2px;">0.4</text>
<text x="324.90" y="282.20" text-anchor="end" fill="#2a2aff" stroke="#2a2aff" style="font-size:13.2px;">0.6</text>
<text x="324.90" y="255.60" text-anchor="end" fill="#2a2aff" stroke="#2a2aff" style="font-size:13.2px;">0.8</text>
<text x="324.90" y="229.00" text-anchor="end" fill="#2a2aff" stroke="#2a2aff" style="font-size:13.2px;">1.0</text>
<text x="511.00" y="362.20" text-anchor="start" fill="#ff2020" stroke="#ff2020" style="font-size:13.2px;stroke-width:0.05px">-0.5</text>
<text x="511.00" y="313.30" text-anchor="start" fill="#ff2020" stroke="#ff2020" style="font-size:13.2px;stroke-width:0.05px">0.0</text>
<text x="511.00" y="264.40" text-anchor="start" fill="#ff2020" stroke="#ff2020" style="font-size:13.2px;stroke-width:0.05px">0.5</text>
<text x="511.00" y="215.50" text-anchor="start" fill="#ff2020" stroke="#ff2020" style="font-size:13.2px;stroke-width:0.05px">1.0</text>
<text x="280.00" y="221.30" text-anchor="start" fill="#111" stroke="#111" style="font-size:17px;stroke-width:0.12px;">(d)</text>
<text transform="translate(296.5,280.2) rotate(-90)" text-anchor="middle" fill="#2a2aff" stroke="#2a2aff" style="font-size:16px;stroke-width:0.12px"><tspan style="font-style:italic">R</tspan><tspan dx="0.5" dy="4.6" style="font-size:9px">pp</tspan></text>
<text transform="translate(543.0,281) rotate(-90)" text-anchor="middle" fill="#ff2020" stroke="#ff2020" style="font-size:15.5px;stroke-width:0.05px">TMOKE</text>
<text x="396.7" y="388.4" fill="#111" stroke="#111" style="font-size:15.5px;stroke-width:0.15px"><tspan style="font-style:italic">θ</tspan><tspan dx="-1.5"> (deg)</tspan></text>
<ellipse cx="83.50" cy="220.70" rx="2.10" ry="7.00" fill="none" stroke="#777" stroke-width="0.9" stroke-dasharray="1 1.3"/>
<line x1="84.00" y1="230.00" x2="68.20" y2="230.00" stroke="#888" stroke-width="1.2"/>
<polygon points="68.20,230.00 73.70,227.80 73.70,232.20" fill="#111"/>
<ellipse cx="152.40" cy="345.30" rx="2.10" ry="7.80" fill="none" stroke="#777" stroke-width="0.9" stroke-dasharray="1 1.3"/>
<line x1="151.50" y1="337.00" x2="169.20" y2="337.00" stroke="#888" stroke-width="1.2"/>
<polygon points="169.20,337.00 163.70,334.80 163.70,339.20" fill="#111"/>
<line x1="151.50" y1="337.00" x2="151.50" y2="341.00" stroke="#888" stroke-width="1"/>
<ellipse cx="352.60" cy="229.00" rx="2.10" ry="6.90" fill="none" stroke="#777" stroke-width="0.9" stroke-dasharray="1 1.3"/>
<line x1="352.60" y1="237.00" x2="337.20" y2="237.00" stroke="#888" stroke-width="1.2"/>
<polygon points="337.20,237.00 342.70,234.80 342.70,239.20" fill="#111"/>
<ellipse cx="443.40" cy="311.00" rx="2.30" ry="8.00" fill="none" stroke="#777" stroke-width="0.9" stroke-dasharray="1 1.3"/>
<line x1="443.00" y1="303.00" x2="459.30" y2="303.00" stroke="#888" stroke-width="1.2"/>
<polygon points="459.30,303.00 453.80,300.80 453.80,305.20" fill="#111"/></svg></body></html>
